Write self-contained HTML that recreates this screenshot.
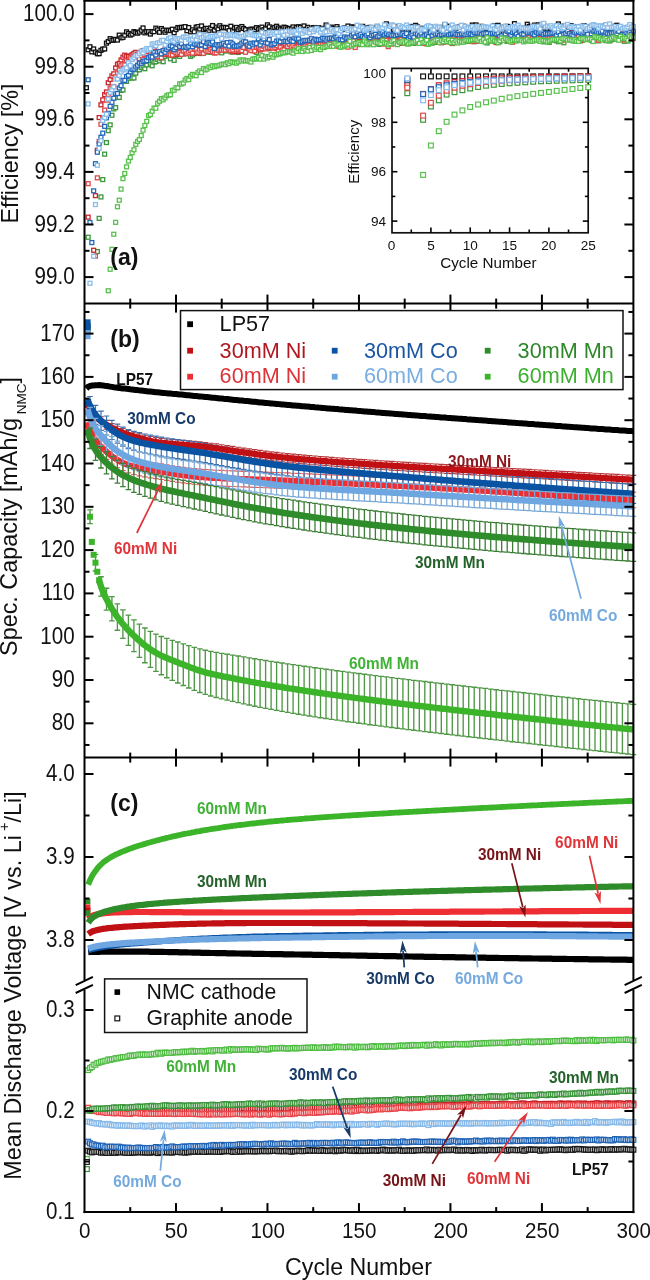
<!DOCTYPE html>
<html><head><meta charset="utf-8"><style>
html,body{margin:0;padding:0;background:#fff;width:650px;height:1280px;overflow:hidden}
svg{display:block;filter:blur(0.35px)}
text{font-family:"Liberation Sans",sans-serif}
g.oa rect{width:3.9px;height:3.9px;fill:#fff;stroke-width:1.3px}
g.oi rect{width:4.8px;height:4.8px;fill:#fff;stroke-width:1.2px}
g.oc rect{width:4.8px;height:4.8px;fill:#fff;stroke-width:1.2px}
</style></head><body>
<svg width="650" height="1280" viewBox="0 0 650 1280" font-family="Liberation Sans, sans-serif">
<rect width="650" height="1280" fill="#fff"/>
<g class="oa" stroke="#101010">
<rect x="84.4" y="85.8"/>
<rect x="86.2" y="47.8"/>
<rect x="88.0" y="44.8"/>
<rect x="89.9" y="49.9"/>
<rect x="91.7" y="47.0"/>
<rect x="93.5" y="50.2"/>
<rect x="95.4" y="51.8"/>
<rect x="97.2" y="51.7"/>
<rect x="99.0" y="48.4"/>
<rect x="100.8" y="47.2"/>
<rect x="102.7" y="47.0"/>
<rect x="104.5" y="41.2"/>
<rect x="106.3" y="39.6"/>
<rect x="108.2" y="36.7"/>
<rect x="110.0" y="38.4"/>
<rect x="111.8" y="38.1"/>
<rect x="113.7" y="37.4"/>
<rect x="115.5" y="38.1"/>
<rect x="117.3" y="33.2"/>
<rect x="119.1" y="35.9"/>
<rect x="121.0" y="35.4"/>
<rect x="122.8" y="33.2"/>
<rect x="124.6" y="29.9"/>
<rect x="126.5" y="31.5"/>
<rect x="128.3" y="33.1"/>
<rect x="130.1" y="32.2"/>
<rect x="132.0" y="29.7"/>
<rect x="133.8" y="30.6"/>
<rect x="135.6" y="31.2"/>
<rect x="137.4" y="30.1"/>
<rect x="139.3" y="28.2"/>
<rect x="141.1" y="26.0"/>
<rect x="142.9" y="30.9"/>
<rect x="144.8" y="29.7"/>
<rect x="146.6" y="29.8"/>
<rect x="148.4" y="32.1"/>
<rect x="150.2" y="29.6"/>
<rect x="152.1" y="29.7"/>
<rect x="153.9" y="26.2"/>
<rect x="155.7" y="28.0"/>
<rect x="157.6" y="30.3"/>
<rect x="159.4" y="26.6"/>
<rect x="161.2" y="28.2"/>
<rect x="163.1" y="30.3"/>
<rect x="164.9" y="28.4"/>
<rect x="166.7" y="28.3"/>
<rect x="168.5" y="28.7"/>
<rect x="170.4" y="27.3"/>
<rect x="172.2" y="30.8"/>
<rect x="174.0" y="27.6"/>
<rect x="175.9" y="25.6"/>
<rect x="177.7" y="25.8"/>
<rect x="179.5" y="25.4"/>
<rect x="181.4" y="25.3"/>
<rect x="183.2" y="24.7"/>
<rect x="185.0" y="28.8"/>
<rect x="186.8" y="25.6"/>
<rect x="188.7" y="29.9"/>
<rect x="190.5" y="27.9"/>
<rect x="192.3" y="29.9"/>
<rect x="194.2" y="25.2"/>
<rect x="196.0" y="24.7"/>
<rect x="197.8" y="27.1"/>
<rect x="199.6" y="24.0"/>
<rect x="201.5" y="27.8"/>
<rect x="203.3" y="26.5"/>
<rect x="205.1" y="26.5"/>
<rect x="207.0" y="28.4"/>
<rect x="208.8" y="26.0"/>
<rect x="210.6" y="23.6"/>
<rect x="212.5" y="28.3"/>
<rect x="214.3" y="25.2"/>
<rect x="216.1" y="26.9"/>
<rect x="217.9" y="23.8"/>
<rect x="219.8" y="25.8"/>
<rect x="221.6" y="25.5"/>
<rect x="223.4" y="25.5"/>
<rect x="225.3" y="26.1"/>
<rect x="227.1" y="28.7"/>
<rect x="228.9" y="24.3"/>
<rect x="230.8" y="28.7"/>
<rect x="232.6" y="26.1"/>
<rect x="234.4" y="25.5"/>
<rect x="236.2" y="27.8"/>
<rect x="238.1" y="26.2"/>
<rect x="239.9" y="24.6"/>
<rect x="241.7" y="26.5"/>
<rect x="243.6" y="27.8"/>
<rect x="245.4" y="31.0"/>
<rect x="247.2" y="27.9"/>
<rect x="249.0" y="27.3"/>
<rect x="250.9" y="27.2"/>
<rect x="252.7" y="27.9"/>
<rect x="254.5" y="25.7"/>
<rect x="256.4" y="27.2"/>
<rect x="258.2" y="26.5"/>
<rect x="260.0" y="25.2"/>
<rect x="261.9" y="27.7"/>
<rect x="263.7" y="26.8"/>
<rect x="265.5" y="22.9"/>
<rect x="267.3" y="24.9"/>
<rect x="269.2" y="28.3"/>
<rect x="271.0" y="26.4"/>
<rect x="272.8" y="25.4"/>
<rect x="274.7" y="24.3"/>
<rect x="276.5" y="26.0"/>
<rect x="278.3" y="27.1"/>
<rect x="280.2" y="27.4"/>
<rect x="282.0" y="25.2"/>
<rect x="283.8" y="25.7"/>
<rect x="285.6" y="27.0"/>
<rect x="287.5" y="26.5"/>
<rect x="289.3" y="26.8"/>
<rect x="291.1" y="25.0"/>
<rect x="293.0" y="27.2"/>
<rect x="294.8" y="25.4"/>
<rect x="296.6" y="24.8"/>
<rect x="298.5" y="25.4"/>
<rect x="300.3" y="27.4"/>
<rect x="302.1" y="24.0"/>
<rect x="303.9" y="27.2"/>
<rect x="305.8" y="25.4"/>
<rect x="307.6" y="27.3"/>
<rect x="309.4" y="28.9"/>
<rect x="311.3" y="25.7"/>
<rect x="313.1" y="25.6"/>
<rect x="314.9" y="26.2"/>
<rect x="316.7" y="25.7"/>
<rect x="318.6" y="27.1"/>
<rect x="320.4" y="27.3"/>
<rect x="322.2" y="26.4"/>
<rect x="324.1" y="23.1"/>
<rect x="325.9" y="24.8"/>
<rect x="327.7" y="26.9"/>
<rect x="329.6" y="25.2"/>
<rect x="331.4" y="26.8"/>
<rect x="333.2" y="26.8"/>
<rect x="335.0" y="24.7"/>
<rect x="336.9" y="26.9"/>
<rect x="338.7" y="28.7"/>
<rect x="340.5" y="27.5"/>
<rect x="342.4" y="25.9"/>
<rect x="344.2" y="25.9"/>
<rect x="346.0" y="24.1"/>
<rect x="347.9" y="27.2"/>
<rect x="349.7" y="24.9"/>
<rect x="351.5" y="25.4"/>
<rect x="353.3" y="26.3"/>
<rect x="355.2" y="24.8"/>
<rect x="357.0" y="25.3"/>
<rect x="358.8" y="27.5"/>
<rect x="360.7" y="24.4"/>
<rect x="362.5" y="28.0"/>
<rect x="364.3" y="26.0"/>
<rect x="366.1" y="26.1"/>
<rect x="368.0" y="25.4"/>
<rect x="369.8" y="27.2"/>
<rect x="371.6" y="26.1"/>
<rect x="373.5" y="26.3"/>
<rect x="375.3" y="24.5"/>
<rect x="377.1" y="27.3"/>
<rect x="379.0" y="26.0"/>
<rect x="380.8" y="26.5"/>
<rect x="382.6" y="28.1"/>
<rect x="384.4" y="21.9"/>
<rect x="386.3" y="26.2"/>
<rect x="388.1" y="28.4"/>
<rect x="389.9" y="23.9"/>
<rect x="391.8" y="27.8"/>
<rect x="393.6" y="25.5"/>
<rect x="395.4" y="24.7"/>
<rect x="397.3" y="27.1"/>
<rect x="399.1" y="26.8"/>
<rect x="400.9" y="27.0"/>
<rect x="402.7" y="26.3"/>
<rect x="404.6" y="28.7"/>
<rect x="406.4" y="28.0"/>
<rect x="408.2" y="26.3"/>
<rect x="410.1" y="24.5"/>
<rect x="411.9" y="25.1"/>
<rect x="413.7" y="23.4"/>
<rect x="415.5" y="25.0"/>
<rect x="417.4" y="26.9"/>
<rect x="419.2" y="26.3"/>
<rect x="421.0" y="29.3"/>
<rect x="422.9" y="27.6"/>
<rect x="424.7" y="27.7"/>
<rect x="426.5" y="25.7"/>
<rect x="428.4" y="25.1"/>
<rect x="430.2" y="27.0"/>
<rect x="432.0" y="27.0"/>
<rect x="433.8" y="28.6"/>
<rect x="435.7" y="26.3"/>
<rect x="437.5" y="25.7"/>
<rect x="439.3" y="25.4"/>
<rect x="441.2" y="27.4"/>
<rect x="443.0" y="23.0"/>
<rect x="444.8" y="24.2"/>
<rect x="446.7" y="26.3"/>
<rect x="448.5" y="27.0"/>
<rect x="450.3" y="26.6"/>
<rect x="452.1" y="25.9"/>
<rect x="454.0" y="26.2"/>
<rect x="455.8" y="25.4"/>
<rect x="457.6" y="24.9"/>
<rect x="459.5" y="24.0"/>
<rect x="461.3" y="24.3"/>
<rect x="463.1" y="26.3"/>
<rect x="465.0" y="25.5"/>
<rect x="466.8" y="26.7"/>
<rect x="468.6" y="27.1"/>
<rect x="470.4" y="23.1"/>
<rect x="472.3" y="26.9"/>
<rect x="474.1" y="23.0"/>
<rect x="475.9" y="26.7"/>
<rect x="477.8" y="25.7"/>
<rect x="479.6" y="24.4"/>
<rect x="481.4" y="26.1"/>
<rect x="483.2" y="25.5"/>
<rect x="485.1" y="26.5"/>
<rect x="486.9" y="26.9"/>
<rect x="488.7" y="26.4"/>
<rect x="490.6" y="27.2"/>
<rect x="492.4" y="23.6"/>
<rect x="494.2" y="26.4"/>
<rect x="496.1" y="23.4"/>
<rect x="497.9" y="30.4"/>
<rect x="499.7" y="26.1"/>
<rect x="501.5" y="25.3"/>
<rect x="503.4" y="26.6"/>
<rect x="505.2" y="24.4"/>
<rect x="507.0" y="25.2"/>
<rect x="508.9" y="26.6"/>
<rect x="510.7" y="25.5"/>
<rect x="512.5" y="21.7"/>
<rect x="514.4" y="25.8"/>
<rect x="516.2" y="25.7"/>
<rect x="518.0" y="26.9"/>
<rect x="519.8" y="26.0"/>
<rect x="521.7" y="28.2"/>
<rect x="523.5" y="26.5"/>
<rect x="525.3" y="22.3"/>
<rect x="527.2" y="24.5"/>
<rect x="529.0" y="25.2"/>
<rect x="530.8" y="24.5"/>
<rect x="532.6" y="23.2"/>
<rect x="534.5" y="25.3"/>
<rect x="536.3" y="22.9"/>
<rect x="538.1" y="24.5"/>
<rect x="540.0" y="25.9"/>
<rect x="541.8" y="23.5"/>
<rect x="543.6" y="29.9"/>
<rect x="545.5" y="27.1"/>
<rect x="547.3" y="25.8"/>
<rect x="549.1" y="27.7"/>
<rect x="550.9" y="26.5"/>
<rect x="552.8" y="27.2"/>
<rect x="554.6" y="27.3"/>
<rect x="556.4" y="22.0"/>
<rect x="558.3" y="25.2"/>
<rect x="560.1" y="26.3"/>
<rect x="561.9" y="24.2"/>
<rect x="563.8" y="26.6"/>
<rect x="565.6" y="24.8"/>
<rect x="567.4" y="25.7"/>
<rect x="569.2" y="23.7"/>
<rect x="571.1" y="28.5"/>
<rect x="572.9" y="25.0"/>
<rect x="574.7" y="26.1"/>
<rect x="576.6" y="28.1"/>
<rect x="578.4" y="24.6"/>
<rect x="580.2" y="27.6"/>
<rect x="582.0" y="23.7"/>
<rect x="583.9" y="25.5"/>
<rect x="585.7" y="25.2"/>
<rect x="587.5" y="26.2"/>
<rect x="589.4" y="24.9"/>
<rect x="591.2" y="29.2"/>
<rect x="593.0" y="26.2"/>
<rect x="594.9" y="27.3"/>
<rect x="596.7" y="25.8"/>
<rect x="598.5" y="26.4"/>
<rect x="600.3" y="25.3"/>
<rect x="602.2" y="27.6"/>
<rect x="604.0" y="23.4"/>
<rect x="605.8" y="22.7"/>
<rect x="607.7" y="26.6"/>
<rect x="609.5" y="26.3"/>
<rect x="611.3" y="25.9"/>
<rect x="613.2" y="24.3"/>
<rect x="615.0" y="23.3"/>
<rect x="616.8" y="28.2"/>
<rect x="618.6" y="27.3"/>
<rect x="620.5" y="28.0"/>
<rect x="622.3" y="28.1"/>
<rect x="624.1" y="28.9"/>
<rect x="626.0" y="25.8"/>
<rect x="627.8" y="28.2"/>
<rect x="629.6" y="24.0"/>
<rect x="631.4" y="24.9"/>
</g>
<g class="oa" stroke="#3c963c">
<rect x="86.2" y="235.3"/>
<rect x="95.4" y="249.6"/>
<rect x="97.2" y="216.4"/>
<rect x="99.0" y="195.0"/>
<rect x="100.8" y="177.6"/>
<rect x="102.7" y="152.2"/>
<rect x="104.5" y="140.6"/>
<rect x="106.3" y="128.7"/>
<rect x="108.2" y="122.9"/>
<rect x="110.0" y="113.3"/>
<rect x="111.8" y="107.0"/>
<rect x="113.7" y="105.7"/>
<rect x="115.5" y="95.6"/>
<rect x="117.3" y="95.4"/>
<rect x="119.1" y="88.5"/>
<rect x="121.0" y="88.0"/>
<rect x="122.8" y="78.9"/>
<rect x="124.6" y="79.4"/>
<rect x="126.5" y="76.2"/>
<rect x="128.3" y="74.1"/>
<rect x="130.1" y="76.1"/>
<rect x="132.0" y="76.0"/>
<rect x="133.8" y="71.2"/>
<rect x="135.6" y="67.8"/>
<rect x="137.4" y="67.8"/>
<rect x="139.3" y="65.4"/>
<rect x="141.1" y="64.0"/>
<rect x="142.9" y="66.8"/>
<rect x="144.8" y="62.9"/>
<rect x="146.6" y="59.2"/>
<rect x="148.4" y="62.3"/>
<rect x="150.2" y="63.8"/>
<rect x="152.1" y="60.1"/>
<rect x="153.9" y="59.7"/>
<rect x="155.7" y="57.5"/>
<rect x="157.6" y="58.9"/>
<rect x="159.4" y="56.7"/>
<rect x="161.2" y="59.8"/>
<rect x="163.1" y="54.4"/>
<rect x="164.9" y="52.8"/>
<rect x="166.7" y="52.8"/>
<rect x="168.5" y="56.8"/>
<rect x="170.4" y="53.5"/>
<rect x="172.2" y="58.4"/>
<rect x="174.0" y="52.9"/>
<rect x="175.9" y="53.2"/>
<rect x="177.7" y="54.4"/>
<rect x="179.5" y="52.0"/>
<rect x="181.4" y="52.1"/>
<rect x="183.2" y="50.5"/>
<rect x="185.0" y="51.6"/>
<rect x="186.8" y="51.2"/>
<rect x="188.7" y="54.4"/>
<rect x="190.5" y="53.0"/>
<rect x="192.3" y="51.7"/>
<rect x="194.2" y="50.3"/>
<rect x="196.0" y="50.6"/>
<rect x="197.8" y="48.1"/>
<rect x="199.6" y="51.6"/>
<rect x="201.5" y="50.5"/>
<rect x="203.3" y="49.6"/>
<rect x="205.1" y="50.2"/>
<rect x="207.0" y="48.9"/>
<rect x="208.8" y="50.4"/>
<rect x="210.6" y="47.1"/>
<rect x="212.5" y="49.7"/>
<rect x="214.3" y="47.3"/>
<rect x="216.1" y="49.0"/>
<rect x="217.9" y="46.5"/>
<rect x="219.8" y="50.9"/>
<rect x="221.6" y="47.7"/>
<rect x="223.4" y="49.1"/>
<rect x="225.3" y="47.9"/>
<rect x="227.1" y="46.3"/>
<rect x="228.9" y="49.8"/>
<rect x="230.8" y="50.0"/>
<rect x="232.6" y="49.4"/>
<rect x="234.4" y="47.2"/>
<rect x="236.2" y="50.5"/>
<rect x="238.1" y="47.2"/>
<rect x="239.9" y="49.3"/>
<rect x="241.7" y="48.9"/>
<rect x="243.6" y="47.6"/>
<rect x="245.4" y="46.3"/>
<rect x="247.2" y="47.7"/>
<rect x="249.0" y="47.4"/>
<rect x="250.9" y="46.5"/>
<rect x="252.7" y="46.8"/>
<rect x="254.5" y="50.4"/>
<rect x="256.4" y="46.7"/>
<rect x="258.2" y="45.8"/>
<rect x="260.0" y="44.1"/>
<rect x="261.9" y="42.4"/>
<rect x="263.7" y="44.4"/>
<rect x="265.5" y="45.2"/>
<rect x="267.3" y="46.7"/>
<rect x="269.2" y="44.9"/>
<rect x="271.0" y="43.7"/>
<rect x="272.8" y="42.8"/>
<rect x="274.7" y="46.0"/>
<rect x="276.5" y="44.1"/>
<rect x="278.3" y="43.1"/>
<rect x="280.2" y="41.3"/>
<rect x="282.0" y="43.7"/>
<rect x="283.8" y="44.8"/>
<rect x="285.6" y="44.9"/>
<rect x="287.5" y="44.2"/>
<rect x="289.3" y="44.6"/>
<rect x="291.1" y="42.1"/>
<rect x="293.0" y="41.6"/>
<rect x="294.8" y="42.0"/>
<rect x="296.6" y="41.2"/>
<rect x="298.5" y="43.7"/>
<rect x="300.3" y="42.2"/>
<rect x="302.1" y="43.3"/>
<rect x="303.9" y="42.5"/>
<rect x="305.8" y="40.6"/>
<rect x="307.6" y="42.5"/>
<rect x="309.4" y="45.3"/>
<rect x="311.3" y="42.6"/>
<rect x="313.1" y="43.3"/>
<rect x="314.9" y="44.4"/>
<rect x="316.7" y="43.2"/>
<rect x="318.6" y="40.4"/>
<rect x="320.4" y="39.2"/>
<rect x="322.2" y="42.5"/>
<rect x="324.1" y="40.1"/>
<rect x="325.9" y="39.7"/>
<rect x="327.7" y="43.4"/>
<rect x="329.6" y="41.5"/>
<rect x="331.4" y="41.5"/>
<rect x="333.2" y="41.1"/>
<rect x="335.0" y="43.8"/>
<rect x="336.9" y="41.8"/>
<rect x="338.7" y="39.5"/>
<rect x="340.5" y="39.1"/>
<rect x="342.4" y="38.2"/>
<rect x="344.2" y="41.5"/>
<rect x="346.0" y="38.0"/>
<rect x="347.9" y="39.8"/>
<rect x="349.7" y="43.0"/>
<rect x="351.5" y="39.6"/>
<rect x="353.3" y="41.3"/>
<rect x="355.2" y="39.9"/>
<rect x="357.0" y="40.8"/>
<rect x="358.8" y="38.7"/>
<rect x="360.7" y="40.1"/>
<rect x="362.5" y="40.9"/>
<rect x="364.3" y="38.9"/>
<rect x="366.1" y="40.0"/>
<rect x="368.0" y="41.0"/>
<rect x="369.8" y="38.2"/>
<rect x="371.6" y="40.9"/>
<rect x="373.5" y="41.2"/>
<rect x="375.3" y="41.0"/>
<rect x="377.1" y="42.4"/>
<rect x="379.0" y="40.9"/>
<rect x="380.8" y="37.0"/>
<rect x="382.6" y="41.4"/>
<rect x="384.4" y="39.9"/>
<rect x="386.3" y="41.6"/>
<rect x="388.1" y="40.8"/>
<rect x="389.9" y="37.3"/>
<rect x="391.8" y="38.3"/>
<rect x="393.6" y="40.6"/>
<rect x="395.4" y="39.6"/>
<rect x="397.3" y="40.9"/>
<rect x="399.1" y="40.8"/>
<rect x="400.9" y="40.9"/>
<rect x="402.7" y="40.9"/>
<rect x="404.6" y="38.9"/>
<rect x="406.4" y="38.4"/>
<rect x="408.2" y="38.5"/>
<rect x="410.1" y="39.5"/>
<rect x="411.9" y="41.4"/>
<rect x="413.7" y="39.3"/>
<rect x="415.5" y="40.6"/>
<rect x="417.4" y="37.7"/>
<rect x="419.2" y="38.2"/>
<rect x="421.0" y="37.9"/>
<rect x="422.9" y="39.6"/>
<rect x="424.7" y="41.8"/>
<rect x="426.5" y="37.4"/>
<rect x="428.4" y="37.0"/>
<rect x="430.2" y="41.2"/>
<rect x="432.0" y="38.6"/>
<rect x="433.8" y="36.9"/>
<rect x="435.7" y="40.5"/>
<rect x="437.5" y="35.9"/>
<rect x="439.3" y="39.3"/>
<rect x="441.2" y="40.4"/>
<rect x="443.0" y="36.5"/>
<rect x="444.8" y="38.1"/>
<rect x="446.7" y="39.6"/>
<rect x="448.5" y="37.2"/>
<rect x="450.3" y="41.6"/>
<rect x="452.1" y="35.6"/>
<rect x="454.0" y="39.7"/>
<rect x="455.8" y="38.0"/>
<rect x="457.6" y="39.0"/>
<rect x="459.5" y="37.7"/>
<rect x="461.3" y="36.9"/>
<rect x="463.1" y="39.6"/>
<rect x="465.0" y="37.0"/>
<rect x="466.8" y="38.7"/>
<rect x="468.6" y="39.3"/>
<rect x="470.4" y="38.6"/>
<rect x="472.3" y="39.8"/>
<rect x="474.1" y="39.4"/>
<rect x="475.9" y="36.6"/>
<rect x="477.8" y="38.3"/>
<rect x="479.6" y="36.3"/>
<rect x="481.4" y="37.4"/>
<rect x="483.2" y="39.6"/>
<rect x="485.1" y="41.0"/>
<rect x="486.9" y="39.1"/>
<rect x="488.7" y="37.5"/>
<rect x="490.6" y="37.9"/>
<rect x="492.4" y="39.2"/>
<rect x="494.2" y="36.3"/>
<rect x="496.1" y="40.6"/>
<rect x="497.9" y="39.8"/>
<rect x="499.7" y="37.6"/>
<rect x="501.5" y="34.3"/>
<rect x="503.4" y="37.1"/>
<rect x="505.2" y="39.4"/>
<rect x="507.0" y="36.8"/>
<rect x="508.9" y="36.7"/>
<rect x="510.7" y="36.2"/>
<rect x="512.5" y="38.3"/>
<rect x="514.4" y="38.9"/>
<rect x="516.2" y="37.5"/>
<rect x="518.0" y="37.0"/>
<rect x="519.8" y="35.1"/>
<rect x="521.7" y="34.3"/>
<rect x="523.5" y="38.8"/>
<rect x="525.3" y="38.4"/>
<rect x="527.2" y="37.7"/>
<rect x="529.0" y="37.9"/>
<rect x="530.8" y="36.8"/>
<rect x="532.6" y="36.8"/>
<rect x="534.5" y="37.1"/>
<rect x="536.3" y="35.4"/>
<rect x="538.1" y="37.7"/>
<rect x="540.0" y="39.1"/>
<rect x="541.8" y="39.9"/>
<rect x="543.6" y="39.1"/>
<rect x="545.5" y="39.1"/>
<rect x="547.3" y="40.4"/>
<rect x="549.1" y="36.4"/>
<rect x="550.9" y="37.1"/>
<rect x="552.8" y="38.0"/>
<rect x="554.6" y="38.8"/>
<rect x="556.4" y="39.8"/>
<rect x="558.3" y="38.8"/>
<rect x="560.1" y="34.4"/>
<rect x="561.9" y="40.8"/>
<rect x="563.8" y="37.1"/>
<rect x="565.6" y="36.1"/>
<rect x="567.4" y="37.1"/>
<rect x="569.2" y="37.8"/>
<rect x="571.1" y="36.1"/>
<rect x="572.9" y="39.0"/>
<rect x="574.7" y="36.4"/>
<rect x="576.6" y="35.0"/>
<rect x="578.4" y="38.9"/>
<rect x="580.2" y="38.5"/>
<rect x="582.0" y="37.0"/>
<rect x="583.9" y="35.7"/>
<rect x="585.7" y="35.1"/>
<rect x="587.5" y="36.1"/>
<rect x="589.4" y="38.3"/>
<rect x="591.2" y="39.0"/>
<rect x="593.0" y="36.8"/>
<rect x="594.9" y="36.6"/>
<rect x="596.7" y="38.9"/>
<rect x="598.5" y="37.1"/>
<rect x="600.3" y="36.7"/>
<rect x="602.2" y="35.5"/>
<rect x="604.0" y="38.7"/>
<rect x="605.8" y="36.3"/>
<rect x="607.7" y="39.0"/>
<rect x="609.5" y="37.8"/>
<rect x="611.3" y="37.3"/>
<rect x="613.2" y="34.8"/>
<rect x="615.0" y="31.9"/>
<rect x="616.8" y="36.7"/>
<rect x="618.6" y="36.4"/>
<rect x="620.5" y="35.6"/>
<rect x="622.3" y="39.3"/>
<rect x="624.1" y="35.9"/>
<rect x="626.0" y="39.1"/>
<rect x="627.8" y="34.6"/>
<rect x="629.6" y="34.9"/>
<rect x="631.4" y="36.3"/>
</g>
<g class="oa" stroke="#c8262c">
<rect x="86.2" y="215.2"/>
<rect x="91.7" y="248.3"/>
<rect x="93.5" y="193.7"/>
<rect x="95.4" y="148.4"/>
<rect x="97.2" y="115.6"/>
<rect x="99.0" y="102.9"/>
<rect x="100.8" y="97.9"/>
<rect x="102.7" y="92.7"/>
<rect x="104.5" y="90.0"/>
<rect x="106.3" y="80.8"/>
<rect x="108.2" y="77.5"/>
<rect x="110.0" y="74.0"/>
<rect x="111.8" y="71.9"/>
<rect x="113.7" y="66.0"/>
<rect x="115.5" y="62.3"/>
<rect x="117.3" y="61.4"/>
<rect x="119.1" y="58.0"/>
<rect x="121.0" y="55.2"/>
<rect x="122.8" y="53.2"/>
<rect x="124.6" y="54.4"/>
<rect x="126.5" y="54.4"/>
<rect x="128.3" y="54.1"/>
<rect x="130.1" y="52.8"/>
<rect x="132.0" y="51.4"/>
<rect x="133.8" y="50.4"/>
<rect x="135.6" y="52.2"/>
<rect x="137.4" y="51.0"/>
<rect x="139.3" y="52.5"/>
<rect x="141.1" y="48.7"/>
<rect x="142.9" y="51.2"/>
<rect x="144.8" y="49.8"/>
<rect x="146.6" y="51.5"/>
<rect x="148.4" y="50.7"/>
<rect x="150.2" y="51.3"/>
<rect x="152.1" y="47.5"/>
<rect x="153.9" y="49.6"/>
<rect x="155.7" y="50.4"/>
<rect x="157.6" y="51.7"/>
<rect x="159.4" y="51.1"/>
<rect x="161.2" y="49.2"/>
<rect x="163.1" y="47.5"/>
<rect x="164.9" y="52.4"/>
<rect x="166.7" y="51.6"/>
<rect x="168.5" y="50.4"/>
<rect x="170.4" y="51.1"/>
<rect x="172.2" y="52.7"/>
<rect x="174.0" y="50.0"/>
<rect x="175.9" y="48.9"/>
<rect x="177.7" y="52.5"/>
<rect x="179.5" y="49.7"/>
<rect x="181.4" y="48.4"/>
<rect x="183.2" y="48.3"/>
<rect x="185.0" y="50.5"/>
<rect x="186.8" y="46.1"/>
<rect x="188.7" y="48.8"/>
<rect x="190.5" y="50.8"/>
<rect x="192.3" y="47.9"/>
<rect x="194.2" y="51.1"/>
<rect x="196.0" y="47.8"/>
<rect x="197.8" y="51.1"/>
<rect x="199.6" y="47.7"/>
<rect x="201.5" y="49.7"/>
<rect x="203.3" y="46.9"/>
<rect x="205.1" y="47.4"/>
<rect x="207.0" y="47.7"/>
<rect x="208.8" y="48.2"/>
<rect x="210.6" y="46.4"/>
<rect x="212.5" y="50.8"/>
<rect x="214.3" y="47.2"/>
<rect x="216.1" y="47.1"/>
<rect x="217.9" y="46.7"/>
<rect x="219.8" y="46.1"/>
<rect x="221.6" y="41.5"/>
<rect x="223.4" y="47.0"/>
<rect x="225.3" y="45.8"/>
<rect x="227.1" y="46.7"/>
<rect x="228.9" y="44.3"/>
<rect x="230.8" y="49.8"/>
<rect x="232.6" y="43.8"/>
<rect x="234.4" y="47.5"/>
<rect x="236.2" y="49.8"/>
<rect x="238.1" y="47.8"/>
<rect x="239.9" y="46.3"/>
<rect x="241.7" y="45.6"/>
<rect x="243.6" y="45.9"/>
<rect x="245.4" y="44.4"/>
<rect x="247.2" y="45.6"/>
<rect x="249.0" y="45.6"/>
<rect x="250.9" y="48.8"/>
<rect x="252.7" y="44.5"/>
<rect x="254.5" y="43.6"/>
<rect x="256.4" y="45.8"/>
<rect x="258.2" y="48.0"/>
<rect x="260.0" y="47.0"/>
<rect x="261.9" y="42.2"/>
<rect x="263.7" y="45.7"/>
<rect x="265.5" y="45.7"/>
<rect x="267.3" y="45.9"/>
<rect x="269.2" y="43.4"/>
<rect x="271.0" y="45.3"/>
<rect x="272.8" y="45.7"/>
<rect x="274.7" y="46.6"/>
<rect x="276.5" y="44.3"/>
<rect x="278.3" y="42.5"/>
<rect x="280.2" y="44.2"/>
<rect x="282.0" y="42.5"/>
<rect x="283.8" y="43.5"/>
<rect x="285.6" y="43.5"/>
<rect x="287.5" y="43.4"/>
<rect x="289.3" y="43.5"/>
<rect x="291.1" y="41.9"/>
<rect x="293.0" y="42.6"/>
<rect x="294.8" y="44.2"/>
<rect x="296.6" y="43.0"/>
<rect x="298.5" y="43.3"/>
<rect x="300.3" y="42.3"/>
<rect x="302.1" y="42.7"/>
<rect x="303.9" y="42.3"/>
<rect x="305.8" y="45.2"/>
<rect x="307.6" y="42.2"/>
<rect x="309.4" y="40.6"/>
<rect x="311.3" y="44.7"/>
<rect x="313.1" y="40.0"/>
<rect x="314.9" y="42.0"/>
<rect x="316.7" y="42.7"/>
<rect x="318.6" y="45.1"/>
<rect x="320.4" y="40.5"/>
<rect x="322.2" y="43.6"/>
<rect x="324.1" y="42.8"/>
<rect x="325.9" y="41.1"/>
<rect x="327.7" y="43.5"/>
<rect x="329.6" y="43.3"/>
<rect x="331.4" y="43.5"/>
<rect x="333.2" y="41.8"/>
<rect x="335.0" y="40.6"/>
<rect x="336.9" y="40.8"/>
<rect x="338.7" y="40.7"/>
<rect x="340.5" y="41.8"/>
<rect x="342.4" y="41.0"/>
<rect x="344.2" y="42.2"/>
<rect x="346.0" y="37.8"/>
<rect x="347.9" y="40.6"/>
<rect x="349.7" y="43.9"/>
<rect x="351.5" y="42.4"/>
<rect x="353.3" y="38.1"/>
<rect x="355.2" y="42.7"/>
<rect x="357.0" y="41.1"/>
<rect x="358.8" y="39.7"/>
<rect x="360.7" y="42.0"/>
<rect x="362.5" y="38.5"/>
<rect x="364.3" y="37.4"/>
<rect x="366.1" y="41.3"/>
<rect x="368.0" y="38.1"/>
<rect x="369.8" y="41.2"/>
<rect x="371.6" y="41.3"/>
<rect x="373.5" y="39.2"/>
<rect x="375.3" y="39.2"/>
<rect x="377.1" y="40.4"/>
<rect x="379.0" y="38.1"/>
<rect x="380.8" y="41.6"/>
<rect x="382.6" y="40.6"/>
<rect x="384.4" y="40.8"/>
<rect x="386.3" y="37.9"/>
<rect x="388.1" y="37.7"/>
<rect x="389.9" y="37.9"/>
<rect x="391.8" y="40.9"/>
<rect x="393.6" y="38.6"/>
<rect x="395.4" y="38.0"/>
<rect x="397.3" y="41.2"/>
<rect x="399.1" y="39.9"/>
<rect x="400.9" y="37.5"/>
<rect x="402.7" y="37.3"/>
<rect x="404.6" y="38.0"/>
<rect x="406.4" y="37.5"/>
<rect x="408.2" y="37.8"/>
<rect x="410.1" y="38.0"/>
<rect x="411.9" y="38.3"/>
<rect x="413.7" y="39.5"/>
<rect x="415.5" y="38.4"/>
<rect x="417.4" y="38.6"/>
<rect x="419.2" y="34.3"/>
<rect x="421.0" y="37.5"/>
<rect x="422.9" y="37.8"/>
<rect x="424.7" y="38.1"/>
<rect x="426.5" y="37.9"/>
<rect x="428.4" y="38.1"/>
<rect x="430.2" y="36.7"/>
<rect x="432.0" y="37.6"/>
<rect x="433.8" y="36.2"/>
<rect x="435.7" y="38.5"/>
<rect x="437.5" y="36.8"/>
<rect x="439.3" y="35.9"/>
<rect x="441.2" y="39.1"/>
<rect x="443.0" y="37.0"/>
<rect x="444.8" y="36.8"/>
<rect x="446.7" y="37.6"/>
<rect x="448.5" y="37.8"/>
<rect x="450.3" y="39.9"/>
<rect x="452.1" y="35.2"/>
<rect x="454.0" y="38.4"/>
<rect x="455.8" y="38.8"/>
<rect x="457.6" y="35.8"/>
<rect x="459.5" y="39.7"/>
<rect x="461.3" y="35.2"/>
<rect x="463.1" y="36.0"/>
<rect x="465.0" y="35.7"/>
<rect x="466.8" y="36.8"/>
<rect x="468.6" y="38.5"/>
<rect x="470.4" y="39.5"/>
<rect x="472.3" y="34.2"/>
<rect x="474.1" y="37.2"/>
<rect x="475.9" y="37.2"/>
<rect x="477.8" y="33.8"/>
<rect x="479.6" y="37.3"/>
<rect x="481.4" y="36.6"/>
<rect x="483.2" y="36.6"/>
<rect x="485.1" y="36.4"/>
<rect x="486.9" y="37.7"/>
<rect x="488.7" y="36.9"/>
<rect x="490.6" y="34.0"/>
<rect x="492.4" y="34.8"/>
<rect x="494.2" y="40.6"/>
<rect x="496.1" y="39.0"/>
<rect x="497.9" y="35.3"/>
<rect x="499.7" y="36.0"/>
<rect x="501.5" y="36.4"/>
<rect x="503.4" y="34.1"/>
<rect x="505.2" y="38.5"/>
<rect x="507.0" y="33.8"/>
<rect x="508.9" y="35.4"/>
<rect x="510.7" y="34.7"/>
<rect x="512.5" y="35.2"/>
<rect x="514.4" y="34.2"/>
<rect x="516.2" y="35.9"/>
<rect x="518.0" y="36.3"/>
<rect x="519.8" y="34.2"/>
<rect x="521.7" y="35.1"/>
<rect x="523.5" y="37.3"/>
<rect x="525.3" y="33.2"/>
<rect x="527.2" y="33.4"/>
<rect x="529.0" y="33.0"/>
<rect x="530.8" y="35.1"/>
<rect x="532.6" y="34.6"/>
<rect x="534.5" y="35.7"/>
<rect x="536.3" y="36.6"/>
<rect x="538.1" y="35.0"/>
<rect x="540.0" y="34.7"/>
<rect x="541.8" y="36.0"/>
<rect x="543.6" y="32.1"/>
<rect x="545.5" y="37.5"/>
<rect x="547.3" y="36.2"/>
<rect x="549.1" y="35.9"/>
<rect x="550.9" y="32.8"/>
<rect x="552.8" y="35.2"/>
<rect x="554.6" y="35.3"/>
<rect x="556.4" y="36.1"/>
<rect x="558.3" y="35.9"/>
<rect x="560.1" y="36.7"/>
<rect x="561.9" y="33.1"/>
<rect x="563.8" y="33.7"/>
<rect x="565.6" y="33.0"/>
<rect x="567.4" y="35.6"/>
<rect x="569.2" y="30.6"/>
<rect x="571.1" y="36.1"/>
<rect x="572.9" y="37.7"/>
<rect x="574.7" y="34.9"/>
<rect x="576.6" y="34.2"/>
<rect x="578.4" y="33.2"/>
<rect x="580.2" y="36.0"/>
<rect x="582.0" y="33.4"/>
<rect x="583.9" y="31.6"/>
<rect x="585.7" y="35.6"/>
<rect x="587.5" y="35.4"/>
<rect x="589.4" y="36.9"/>
<rect x="591.2" y="33.8"/>
<rect x="593.0" y="32.8"/>
<rect x="594.9" y="33.0"/>
<rect x="596.7" y="32.8"/>
<rect x="598.5" y="31.9"/>
<rect x="600.3" y="33.9"/>
<rect x="602.2" y="32.6"/>
<rect x="604.0" y="35.5"/>
<rect x="605.8" y="35.3"/>
<rect x="607.7" y="33.6"/>
<rect x="609.5" y="35.3"/>
<rect x="611.3" y="33.1"/>
<rect x="613.2" y="31.8"/>
<rect x="615.0" y="33.3"/>
<rect x="616.8" y="35.0"/>
<rect x="618.6" y="35.0"/>
<rect x="620.5" y="31.7"/>
<rect x="622.3" y="35.1"/>
<rect x="624.1" y="33.7"/>
<rect x="626.0" y="34.2"/>
<rect x="627.8" y="33.7"/>
<rect x="629.6" y="32.0"/>
<rect x="631.4" y="34.6"/>
</g>
<g class="oa" stroke="#e04a4a">
<rect x="86.2" y="181.7"/>
<rect x="93.5" y="254.2"/>
<rect x="95.4" y="175.9"/>
<rect x="97.2" y="139.5"/>
<rect x="99.0" y="122.3"/>
<rect x="100.8" y="116.7"/>
<rect x="102.7" y="108.1"/>
<rect x="104.5" y="98.2"/>
<rect x="106.3" y="92.5"/>
<rect x="108.2" y="86.3"/>
<rect x="110.0" y="85.0"/>
<rect x="111.8" y="84.6"/>
<rect x="113.7" y="74.8"/>
<rect x="115.5" y="70.9"/>
<rect x="117.3" y="68.1"/>
<rect x="119.1" y="63.5"/>
<rect x="121.0" y="62.6"/>
<rect x="122.8" y="62.9"/>
<rect x="124.6" y="58.7"/>
<rect x="126.5" y="59.3"/>
<rect x="128.3" y="55.8"/>
<rect x="130.1" y="56.5"/>
<rect x="132.0" y="55.2"/>
<rect x="133.8" y="54.9"/>
<rect x="135.6" y="54.6"/>
<rect x="137.4" y="56.7"/>
<rect x="139.3" y="53.8"/>
<rect x="141.1" y="57.3"/>
<rect x="142.9" y="52.6"/>
<rect x="144.8" y="51.6"/>
<rect x="146.6" y="49.7"/>
<rect x="148.4" y="52.3"/>
<rect x="150.2" y="53.9"/>
<rect x="152.1" y="55.1"/>
<rect x="153.9" y="49.4"/>
<rect x="155.7" y="54.6"/>
<rect x="157.6" y="50.8"/>
<rect x="159.4" y="55.8"/>
<rect x="161.2" y="52.1"/>
<rect x="163.1" y="50.9"/>
<rect x="164.9" y="51.3"/>
<rect x="166.7" y="51.8"/>
<rect x="168.5" y="53.0"/>
<rect x="170.4" y="53.0"/>
<rect x="172.2" y="49.8"/>
<rect x="174.0" y="50.6"/>
<rect x="175.9" y="51.5"/>
<rect x="177.7" y="50.7"/>
<rect x="179.5" y="52.4"/>
<rect x="181.4" y="49.2"/>
<rect x="183.2" y="48.7"/>
<rect x="185.0" y="51.8"/>
<rect x="186.8" y="50.3"/>
<rect x="188.7" y="48.6"/>
<rect x="190.5" y="51.2"/>
<rect x="192.3" y="46.8"/>
<rect x="194.2" y="47.5"/>
<rect x="196.0" y="50.2"/>
<rect x="197.8" y="48.1"/>
<rect x="199.6" y="46.9"/>
<rect x="201.5" y="51.4"/>
<rect x="203.3" y="48.3"/>
<rect x="205.1" y="49.4"/>
<rect x="207.0" y="49.4"/>
<rect x="208.8" y="47.8"/>
<rect x="210.6" y="49.6"/>
<rect x="212.5" y="50.9"/>
<rect x="214.3" y="50.8"/>
<rect x="216.1" y="48.5"/>
<rect x="217.9" y="47.3"/>
<rect x="219.8" y="48.3"/>
<rect x="221.6" y="48.3"/>
<rect x="223.4" y="48.0"/>
<rect x="225.3" y="45.8"/>
<rect x="227.1" y="46.9"/>
<rect x="228.9" y="48.8"/>
<rect x="230.8" y="48.0"/>
<rect x="232.6" y="45.5"/>
<rect x="234.4" y="48.3"/>
<rect x="236.2" y="47.9"/>
<rect x="238.1" y="47.2"/>
<rect x="239.9" y="48.7"/>
<rect x="241.7" y="45.5"/>
<rect x="243.6" y="50.3"/>
<rect x="245.4" y="44.4"/>
<rect x="247.2" y="47.3"/>
<rect x="249.0" y="48.5"/>
<rect x="250.9" y="46.0"/>
<rect x="252.7" y="49.0"/>
<rect x="254.5" y="45.4"/>
<rect x="256.4" y="44.9"/>
<rect x="258.2" y="47.0"/>
<rect x="260.0" y="46.6"/>
<rect x="261.9" y="44.4"/>
<rect x="263.7" y="46.9"/>
<rect x="265.5" y="45.7"/>
<rect x="267.3" y="45.1"/>
<rect x="269.2" y="43.1"/>
<rect x="271.0" y="46.2"/>
<rect x="272.8" y="45.3"/>
<rect x="274.7" y="43.5"/>
<rect x="276.5" y="49.2"/>
<rect x="278.3" y="45.5"/>
<rect x="280.2" y="48.1"/>
<rect x="282.0" y="47.9"/>
<rect x="283.8" y="41.8"/>
<rect x="285.6" y="44.5"/>
<rect x="287.5" y="42.4"/>
<rect x="289.3" y="45.0"/>
<rect x="291.1" y="43.7"/>
<rect x="293.0" y="45.2"/>
<rect x="294.8" y="45.3"/>
<rect x="296.6" y="44.4"/>
<rect x="298.5" y="44.0"/>
<rect x="300.3" y="41.7"/>
<rect x="302.1" y="44.4"/>
<rect x="303.9" y="43.4"/>
<rect x="305.8" y="44.3"/>
<rect x="307.6" y="43.6"/>
<rect x="309.4" y="45.8"/>
<rect x="311.3" y="41.9"/>
<rect x="313.1" y="44.4"/>
<rect x="314.9" y="43.4"/>
<rect x="316.7" y="43.8"/>
<rect x="318.6" y="41.8"/>
<rect x="320.4" y="42.4"/>
<rect x="322.2" y="43.2"/>
<rect x="324.1" y="42.8"/>
<rect x="325.9" y="42.5"/>
<rect x="327.7" y="41.7"/>
<rect x="329.6" y="42.0"/>
<rect x="331.4" y="40.7"/>
<rect x="333.2" y="40.1"/>
<rect x="335.0" y="41.6"/>
<rect x="336.9" y="44.6"/>
<rect x="338.7" y="39.6"/>
<rect x="340.5" y="38.9"/>
<rect x="342.4" y="42.8"/>
<rect x="344.2" y="42.7"/>
<rect x="346.0" y="45.2"/>
<rect x="347.9" y="40.7"/>
<rect x="349.7" y="43.4"/>
<rect x="351.5" y="38.8"/>
<rect x="353.3" y="45.5"/>
<rect x="355.2" y="41.4"/>
<rect x="357.0" y="40.3"/>
<rect x="358.8" y="41.9"/>
<rect x="360.7" y="42.4"/>
<rect x="362.5" y="40.7"/>
<rect x="364.3" y="41.8"/>
<rect x="366.1" y="41.4"/>
<rect x="368.0" y="40.8"/>
<rect x="369.8" y="41.6"/>
<rect x="371.6" y="40.9"/>
<rect x="373.5" y="39.3"/>
<rect x="375.3" y="41.0"/>
<rect x="377.1" y="40.0"/>
<rect x="379.0" y="41.4"/>
<rect x="380.8" y="38.7"/>
<rect x="382.6" y="42.1"/>
<rect x="384.4" y="38.5"/>
<rect x="386.3" y="44.7"/>
<rect x="388.1" y="41.2"/>
<rect x="389.9" y="42.2"/>
<rect x="391.8" y="38.0"/>
<rect x="393.6" y="39.1"/>
<rect x="395.4" y="41.6"/>
<rect x="397.3" y="40.3"/>
<rect x="399.1" y="37.3"/>
<rect x="400.9" y="39.4"/>
<rect x="402.7" y="38.4"/>
<rect x="404.6" y="41.6"/>
<rect x="406.4" y="41.5"/>
<rect x="408.2" y="38.2"/>
<rect x="410.1" y="35.4"/>
<rect x="411.9" y="39.8"/>
<rect x="413.7" y="38.0"/>
<rect x="415.5" y="40.3"/>
<rect x="417.4" y="36.8"/>
<rect x="419.2" y="39.5"/>
<rect x="421.0" y="39.4"/>
<rect x="422.9" y="41.6"/>
<rect x="424.7" y="39.2"/>
<rect x="426.5" y="38.2"/>
<rect x="428.4" y="36.3"/>
<rect x="430.2" y="40.3"/>
<rect x="432.0" y="36.8"/>
<rect x="433.8" y="38.9"/>
<rect x="435.7" y="38.7"/>
<rect x="437.5" y="39.7"/>
<rect x="439.3" y="40.9"/>
<rect x="441.2" y="40.0"/>
<rect x="443.0" y="35.5"/>
<rect x="444.8" y="39.9"/>
<rect x="446.7" y="38.7"/>
<rect x="448.5" y="36.2"/>
<rect x="450.3" y="41.2"/>
<rect x="452.1" y="37.1"/>
<rect x="454.0" y="38.6"/>
<rect x="455.8" y="37.5"/>
<rect x="457.6" y="36.3"/>
<rect x="459.5" y="37.9"/>
<rect x="461.3" y="37.9"/>
<rect x="463.1" y="36.4"/>
<rect x="465.0" y="36.5"/>
<rect x="466.8" y="38.6"/>
<rect x="468.6" y="37.7"/>
<rect x="470.4" y="39.5"/>
<rect x="472.3" y="35.3"/>
<rect x="474.1" y="39.2"/>
<rect x="475.9" y="37.0"/>
<rect x="477.8" y="34.5"/>
<rect x="479.6" y="35.9"/>
<rect x="481.4" y="37.6"/>
<rect x="483.2" y="38.2"/>
<rect x="485.1" y="38.0"/>
<rect x="486.9" y="35.5"/>
<rect x="488.7" y="36.4"/>
<rect x="490.6" y="36.9"/>
<rect x="492.4" y="32.7"/>
<rect x="494.2" y="38.1"/>
<rect x="496.1" y="37.5"/>
<rect x="497.9" y="37.3"/>
<rect x="499.7" y="36.4"/>
<rect x="501.5" y="36.2"/>
<rect x="503.4" y="37.0"/>
<rect x="505.2" y="35.4"/>
<rect x="507.0" y="35.7"/>
<rect x="508.9" y="37.0"/>
<rect x="510.7" y="40.3"/>
<rect x="512.5" y="35.2"/>
<rect x="514.4" y="37.9"/>
<rect x="516.2" y="37.4"/>
<rect x="518.0" y="36.6"/>
<rect x="519.8" y="38.3"/>
<rect x="521.7" y="37.6"/>
<rect x="523.5" y="36.2"/>
<rect x="525.3" y="36.8"/>
<rect x="527.2" y="35.7"/>
<rect x="529.0" y="37.6"/>
<rect x="530.8" y="36.5"/>
<rect x="532.6" y="37.8"/>
<rect x="534.5" y="36.6"/>
<rect x="536.3" y="35.6"/>
<rect x="538.1" y="36.5"/>
<rect x="540.0" y="38.3"/>
<rect x="541.8" y="36.3"/>
<rect x="543.6" y="35.7"/>
<rect x="545.5" y="34.2"/>
<rect x="547.3" y="36.0"/>
<rect x="549.1" y="36.5"/>
<rect x="550.9" y="37.7"/>
<rect x="552.8" y="32.7"/>
<rect x="554.6" y="37.3"/>
<rect x="556.4" y="37.5"/>
<rect x="558.3" y="36.0"/>
<rect x="560.1" y="38.6"/>
<rect x="561.9" y="34.0"/>
<rect x="563.8" y="35.4"/>
<rect x="565.6" y="34.9"/>
<rect x="567.4" y="37.1"/>
<rect x="569.2" y="36.4"/>
<rect x="571.1" y="34.2"/>
<rect x="572.9" y="34.1"/>
<rect x="574.7" y="31.0"/>
<rect x="576.6" y="33.7"/>
<rect x="578.4" y="38.4"/>
<rect x="580.2" y="35.3"/>
<rect x="582.0" y="36.0"/>
<rect x="583.9" y="33.6"/>
<rect x="585.7" y="35.5"/>
<rect x="587.5" y="34.5"/>
<rect x="589.4" y="35.8"/>
<rect x="591.2" y="34.3"/>
<rect x="593.0" y="32.9"/>
<rect x="594.9" y="36.2"/>
<rect x="596.7" y="38.4"/>
<rect x="598.5" y="36.8"/>
<rect x="600.3" y="32.7"/>
<rect x="602.2" y="34.8"/>
<rect x="604.0" y="35.6"/>
<rect x="605.8" y="36.6"/>
<rect x="607.7" y="33.4"/>
<rect x="609.5" y="34.6"/>
<rect x="611.3" y="35.2"/>
<rect x="613.2" y="35.9"/>
<rect x="615.0" y="35.2"/>
<rect x="616.8" y="35.5"/>
<rect x="618.6" y="34.1"/>
<rect x="620.5" y="32.9"/>
<rect x="622.3" y="38.0"/>
<rect x="624.1" y="37.2"/>
<rect x="626.0" y="35.1"/>
<rect x="627.8" y="34.8"/>
<rect x="629.6" y="37.3"/>
<rect x="631.4" y="35.8"/>
</g>
<g class="oa" stroke="#2468b8">
<rect x="86.2" y="77.8"/>
<rect x="88.0" y="220.5"/>
<rect x="89.9" y="240.6"/>
<rect x="91.7" y="188.9"/>
<rect x="93.5" y="161.7"/>
<rect x="95.4" y="150.3"/>
<rect x="97.2" y="142.0"/>
<rect x="99.0" y="135.3"/>
<rect x="100.8" y="131.2"/>
<rect x="102.7" y="124.4"/>
<rect x="104.5" y="115.9"/>
<rect x="106.3" y="111.4"/>
<rect x="108.2" y="104.4"/>
<rect x="110.0" y="100.4"/>
<rect x="111.8" y="96.3"/>
<rect x="113.7" y="91.7"/>
<rect x="115.5" y="91.6"/>
<rect x="117.3" y="86.0"/>
<rect x="119.1" y="83.7"/>
<rect x="121.0" y="78.5"/>
<rect x="122.8" y="78.4"/>
<rect x="124.6" y="74.6"/>
<rect x="126.5" y="73.4"/>
<rect x="128.3" y="69.9"/>
<rect x="130.1" y="67.6"/>
<rect x="132.0" y="67.1"/>
<rect x="133.8" y="65.0"/>
<rect x="135.6" y="63.3"/>
<rect x="137.4" y="61.1"/>
<rect x="139.3" y="61.4"/>
<rect x="141.1" y="59.6"/>
<rect x="142.9" y="59.0"/>
<rect x="144.8" y="58.6"/>
<rect x="146.6" y="55.8"/>
<rect x="148.4" y="54.3"/>
<rect x="150.2" y="55.1"/>
<rect x="152.1" y="50.6"/>
<rect x="153.9" y="53.0"/>
<rect x="155.7" y="50.0"/>
<rect x="157.6" y="49.7"/>
<rect x="159.4" y="51.9"/>
<rect x="161.2" y="48.7"/>
<rect x="163.1" y="50.3"/>
<rect x="164.9" y="47.6"/>
<rect x="166.7" y="45.9"/>
<rect x="168.5" y="43.7"/>
<rect x="170.4" y="44.8"/>
<rect x="172.2" y="47.7"/>
<rect x="174.0" y="45.7"/>
<rect x="175.9" y="42.7"/>
<rect x="177.7" y="44.4"/>
<rect x="179.5" y="41.8"/>
<rect x="181.4" y="45.3"/>
<rect x="183.2" y="44.8"/>
<rect x="185.0" y="45.8"/>
<rect x="186.8" y="44.3"/>
<rect x="188.7" y="41.8"/>
<rect x="190.5" y="44.8"/>
<rect x="192.3" y="42.1"/>
<rect x="194.2" y="42.5"/>
<rect x="196.0" y="42.0"/>
<rect x="197.8" y="43.4"/>
<rect x="199.6" y="42.9"/>
<rect x="201.5" y="39.7"/>
<rect x="203.3" y="44.5"/>
<rect x="205.1" y="41.5"/>
<rect x="207.0" y="40.4"/>
<rect x="208.8" y="41.8"/>
<rect x="210.6" y="40.0"/>
<rect x="212.5" y="46.6"/>
<rect x="214.3" y="42.7"/>
<rect x="216.1" y="43.9"/>
<rect x="217.9" y="42.7"/>
<rect x="219.8" y="42.2"/>
<rect x="221.6" y="41.3"/>
<rect x="223.4" y="43.2"/>
<rect x="225.3" y="40.6"/>
<rect x="227.1" y="44.1"/>
<rect x="228.9" y="40.3"/>
<rect x="230.8" y="42.0"/>
<rect x="232.6" y="44.2"/>
<rect x="234.4" y="44.1"/>
<rect x="236.2" y="44.0"/>
<rect x="238.1" y="42.8"/>
<rect x="239.9" y="41.1"/>
<rect x="241.7" y="39.3"/>
<rect x="243.6" y="40.0"/>
<rect x="245.4" y="43.0"/>
<rect x="247.2" y="44.3"/>
<rect x="249.0" y="41.3"/>
<rect x="250.9" y="42.9"/>
<rect x="252.7" y="41.0"/>
<rect x="254.5" y="41.6"/>
<rect x="256.4" y="36.8"/>
<rect x="258.2" y="43.0"/>
<rect x="260.0" y="39.9"/>
<rect x="261.9" y="37.6"/>
<rect x="263.7" y="40.8"/>
<rect x="265.5" y="41.2"/>
<rect x="267.3" y="37.6"/>
<rect x="269.2" y="43.0"/>
<rect x="271.0" y="42.3"/>
<rect x="272.8" y="41.5"/>
<rect x="274.7" y="39.1"/>
<rect x="276.5" y="38.4"/>
<rect x="278.3" y="39.7"/>
<rect x="280.2" y="36.2"/>
<rect x="282.0" y="39.6"/>
<rect x="283.8" y="39.2"/>
<rect x="285.6" y="39.5"/>
<rect x="287.5" y="37.2"/>
<rect x="289.3" y="38.9"/>
<rect x="291.1" y="39.4"/>
<rect x="293.0" y="36.2"/>
<rect x="294.8" y="36.7"/>
<rect x="296.6" y="37.0"/>
<rect x="298.5" y="40.2"/>
<rect x="300.3" y="39.8"/>
<rect x="302.1" y="38.5"/>
<rect x="303.9" y="38.5"/>
<rect x="305.8" y="38.6"/>
<rect x="307.6" y="38.2"/>
<rect x="309.4" y="36.8"/>
<rect x="311.3" y="39.1"/>
<rect x="313.1" y="37.2"/>
<rect x="314.9" y="38.0"/>
<rect x="316.7" y="38.0"/>
<rect x="318.6" y="37.7"/>
<rect x="320.4" y="36.1"/>
<rect x="322.2" y="36.6"/>
<rect x="324.1" y="38.1"/>
<rect x="325.9" y="36.3"/>
<rect x="327.7" y="36.5"/>
<rect x="329.6" y="36.0"/>
<rect x="331.4" y="36.8"/>
<rect x="333.2" y="34.9"/>
<rect x="335.0" y="35.6"/>
<rect x="336.9" y="37.7"/>
<rect x="338.7" y="37.7"/>
<rect x="340.5" y="37.8"/>
<rect x="342.4" y="35.0"/>
<rect x="344.2" y="36.4"/>
<rect x="346.0" y="35.7"/>
<rect x="347.9" y="35.2"/>
<rect x="349.7" y="33.1"/>
<rect x="351.5" y="31.6"/>
<rect x="353.3" y="34.8"/>
<rect x="355.2" y="31.5"/>
<rect x="357.0" y="33.5"/>
<rect x="358.8" y="32.4"/>
<rect x="360.7" y="34.4"/>
<rect x="362.5" y="35.7"/>
<rect x="364.3" y="33.1"/>
<rect x="366.1" y="31.8"/>
<rect x="368.0" y="35.8"/>
<rect x="369.8" y="33.6"/>
<rect x="371.6" y="33.1"/>
<rect x="373.5" y="32.4"/>
<rect x="375.3" y="34.8"/>
<rect x="377.1" y="34.0"/>
<rect x="379.0" y="31.8"/>
<rect x="380.8" y="30.5"/>
<rect x="382.6" y="32.9"/>
<rect x="384.4" y="31.6"/>
<rect x="386.3" y="32.7"/>
<rect x="388.1" y="32.3"/>
<rect x="389.9" y="33.5"/>
<rect x="391.8" y="33.2"/>
<rect x="393.6" y="33.7"/>
<rect x="395.4" y="32.7"/>
<rect x="397.3" y="31.2"/>
<rect x="399.1" y="32.5"/>
<rect x="400.9" y="31.8"/>
<rect x="402.7" y="33.6"/>
<rect x="404.6" y="31.6"/>
<rect x="406.4" y="37.2"/>
<rect x="408.2" y="34.7"/>
<rect x="410.1" y="33.1"/>
<rect x="411.9" y="35.2"/>
<rect x="413.7" y="31.7"/>
<rect x="415.5" y="32.2"/>
<rect x="417.4" y="33.8"/>
<rect x="419.2" y="32.3"/>
<rect x="421.0" y="34.6"/>
<rect x="422.9" y="33.7"/>
<rect x="424.7" y="32.9"/>
<rect x="426.5" y="34.7"/>
<rect x="428.4" y="30.8"/>
<rect x="430.2" y="33.3"/>
<rect x="432.0" y="30.8"/>
<rect x="433.8" y="32.5"/>
<rect x="435.7" y="31.8"/>
<rect x="437.5" y="33.6"/>
<rect x="439.3" y="32.7"/>
<rect x="441.2" y="32.8"/>
<rect x="443.0" y="31.8"/>
<rect x="444.8" y="30.2"/>
<rect x="446.7" y="33.0"/>
<rect x="448.5" y="32.4"/>
<rect x="450.3" y="31.6"/>
<rect x="452.1" y="30.8"/>
<rect x="454.0" y="32.2"/>
<rect x="455.8" y="32.6"/>
<rect x="457.6" y="32.9"/>
<rect x="459.5" y="32.0"/>
<rect x="461.3" y="31.7"/>
<rect x="463.1" y="33.0"/>
<rect x="465.0" y="32.4"/>
<rect x="466.8" y="30.9"/>
<rect x="468.6" y="32.0"/>
<rect x="470.4" y="32.8"/>
<rect x="472.3" y="30.9"/>
<rect x="474.1" y="30.9"/>
<rect x="475.9" y="31.0"/>
<rect x="477.8" y="30.9"/>
<rect x="479.6" y="32.4"/>
<rect x="481.4" y="31.6"/>
<rect x="483.2" y="31.4"/>
<rect x="485.1" y="31.7"/>
<rect x="486.9" y="34.4"/>
<rect x="488.7" y="31.8"/>
<rect x="490.6" y="31.3"/>
<rect x="492.4" y="31.1"/>
<rect x="494.2" y="32.2"/>
<rect x="496.1" y="31.7"/>
<rect x="497.9" y="34.4"/>
<rect x="499.7" y="33.9"/>
<rect x="501.5" y="36.0"/>
<rect x="503.4" y="32.0"/>
<rect x="505.2" y="29.3"/>
<rect x="507.0" y="29.1"/>
<rect x="508.9" y="33.3"/>
<rect x="510.7" y="30.7"/>
<rect x="512.5" y="29.8"/>
<rect x="514.4" y="32.1"/>
<rect x="516.2" y="34.5"/>
<rect x="518.0" y="29.6"/>
<rect x="519.8" y="32.1"/>
<rect x="521.7" y="32.2"/>
<rect x="523.5" y="29.1"/>
<rect x="525.3" y="30.9"/>
<rect x="527.2" y="30.3"/>
<rect x="529.0" y="29.2"/>
<rect x="530.8" y="31.7"/>
<rect x="532.6" y="32.9"/>
<rect x="534.5" y="30.4"/>
<rect x="536.3" y="31.5"/>
<rect x="538.1" y="30.4"/>
<rect x="540.0" y="30.9"/>
<rect x="541.8" y="32.5"/>
<rect x="543.6" y="31.4"/>
<rect x="545.5" y="31.9"/>
<rect x="547.3" y="31.7"/>
<rect x="549.1" y="31.4"/>
<rect x="550.9" y="30.9"/>
<rect x="552.8" y="31.1"/>
<rect x="554.6" y="33.2"/>
<rect x="556.4" y="30.4"/>
<rect x="558.3" y="33.4"/>
<rect x="560.1" y="28.1"/>
<rect x="561.9" y="32.4"/>
<rect x="563.8" y="31.4"/>
<rect x="565.6" y="29.3"/>
<rect x="567.4" y="31.6"/>
<rect x="569.2" y="33.1"/>
<rect x="571.1" y="33.3"/>
<rect x="572.9" y="30.8"/>
<rect x="574.7" y="30.6"/>
<rect x="576.6" y="30.0"/>
<rect x="578.4" y="30.8"/>
<rect x="580.2" y="31.9"/>
<rect x="582.0" y="30.5"/>
<rect x="583.9" y="29.1"/>
<rect x="585.7" y="32.3"/>
<rect x="587.5" y="26.0"/>
<rect x="589.4" y="31.8"/>
<rect x="591.2" y="29.3"/>
<rect x="593.0" y="28.4"/>
<rect x="594.9" y="29.8"/>
<rect x="596.7" y="30.7"/>
<rect x="598.5" y="30.1"/>
<rect x="600.3" y="29.2"/>
<rect x="602.2" y="34.9"/>
<rect x="604.0" y="30.4"/>
<rect x="605.8" y="31.7"/>
<rect x="607.7" y="32.1"/>
<rect x="609.5" y="30.9"/>
<rect x="611.3" y="30.8"/>
<rect x="613.2" y="30.4"/>
<rect x="615.0" y="31.9"/>
<rect x="616.8" y="29.4"/>
<rect x="618.6" y="34.1"/>
<rect x="620.5" y="32.5"/>
<rect x="622.3" y="32.8"/>
<rect x="624.1" y="30.9"/>
<rect x="626.0" y="31.8"/>
<rect x="627.8" y="30.3"/>
<rect x="629.6" y="32.2"/>
<rect x="631.4" y="29.2"/>
</g>
<g class="oa" stroke="#88bcea">
<rect x="86.2" y="101.9"/>
<rect x="88.0" y="281.3"/>
<rect x="91.7" y="254.3"/>
<rect x="93.5" y="202.6"/>
<rect x="95.4" y="163.3"/>
<rect x="97.2" y="146.4"/>
<rect x="99.0" y="138.8"/>
<rect x="100.8" y="118.6"/>
<rect x="102.7" y="115.6"/>
<rect x="104.5" y="112.3"/>
<rect x="106.3" y="97.1"/>
<rect x="108.2" y="90.4"/>
<rect x="110.0" y="87.7"/>
<rect x="111.8" y="84.9"/>
<rect x="113.7" y="77.1"/>
<rect x="115.5" y="77.1"/>
<rect x="117.3" y="73.4"/>
<rect x="119.1" y="70.1"/>
<rect x="121.0" y="68.0"/>
<rect x="122.8" y="67.1"/>
<rect x="124.6" y="65.9"/>
<rect x="126.5" y="60.9"/>
<rect x="128.3" y="63.5"/>
<rect x="130.1" y="57.6"/>
<rect x="132.0" y="55.8"/>
<rect x="133.8" y="53.7"/>
<rect x="135.6" y="53.5"/>
<rect x="137.4" y="51.3"/>
<rect x="139.3" y="49.2"/>
<rect x="141.1" y="50.8"/>
<rect x="142.9" y="48.1"/>
<rect x="144.8" y="46.6"/>
<rect x="146.6" y="48.0"/>
<rect x="148.4" y="46.7"/>
<rect x="150.2" y="42.1"/>
<rect x="152.1" y="42.0"/>
<rect x="153.9" y="43.8"/>
<rect x="155.7" y="41.0"/>
<rect x="157.6" y="40.7"/>
<rect x="159.4" y="38.6"/>
<rect x="161.2" y="38.4"/>
<rect x="163.1" y="43.1"/>
<rect x="164.9" y="39.5"/>
<rect x="166.7" y="36.6"/>
<rect x="168.5" y="35.8"/>
<rect x="170.4" y="38.6"/>
<rect x="172.2" y="39.2"/>
<rect x="174.0" y="36.7"/>
<rect x="175.9" y="37.8"/>
<rect x="177.7" y="36.6"/>
<rect x="179.5" y="38.1"/>
<rect x="181.4" y="35.1"/>
<rect x="183.2" y="35.2"/>
<rect x="185.0" y="35.2"/>
<rect x="186.8" y="37.3"/>
<rect x="188.7" y="38.0"/>
<rect x="190.5" y="37.3"/>
<rect x="192.3" y="34.6"/>
<rect x="194.2" y="37.8"/>
<rect x="196.0" y="34.2"/>
<rect x="197.8" y="32.5"/>
<rect x="199.6" y="35.8"/>
<rect x="201.5" y="35.1"/>
<rect x="203.3" y="33.3"/>
<rect x="205.1" y="33.3"/>
<rect x="207.0" y="35.5"/>
<rect x="208.8" y="34.8"/>
<rect x="210.6" y="34.3"/>
<rect x="212.5" y="34.7"/>
<rect x="214.3" y="33.4"/>
<rect x="216.1" y="33.7"/>
<rect x="217.9" y="32.2"/>
<rect x="219.8" y="36.5"/>
<rect x="221.6" y="32.3"/>
<rect x="223.4" y="32.7"/>
<rect x="225.3" y="34.0"/>
<rect x="227.1" y="33.2"/>
<rect x="228.9" y="32.3"/>
<rect x="230.8" y="33.2"/>
<rect x="232.6" y="33.9"/>
<rect x="234.4" y="33.1"/>
<rect x="236.2" y="34.4"/>
<rect x="238.1" y="35.2"/>
<rect x="239.9" y="34.5"/>
<rect x="241.7" y="34.3"/>
<rect x="243.6" y="32.8"/>
<rect x="245.4" y="31.9"/>
<rect x="247.2" y="32.6"/>
<rect x="249.0" y="30.7"/>
<rect x="250.9" y="32.9"/>
<rect x="252.7" y="33.6"/>
<rect x="254.5" y="33.6"/>
<rect x="256.4" y="33.8"/>
<rect x="258.2" y="32.8"/>
<rect x="260.0" y="30.3"/>
<rect x="261.9" y="34.3"/>
<rect x="263.7" y="31.3"/>
<rect x="265.5" y="32.0"/>
<rect x="267.3" y="30.6"/>
<rect x="269.2" y="32.4"/>
<rect x="271.0" y="30.6"/>
<rect x="272.8" y="32.2"/>
<rect x="274.7" y="30.5"/>
<rect x="276.5" y="34.1"/>
<rect x="278.3" y="30.5"/>
<rect x="280.2" y="30.0"/>
<rect x="282.0" y="33.3"/>
<rect x="283.8" y="29.6"/>
<rect x="285.6" y="32.4"/>
<rect x="287.5" y="29.2"/>
<rect x="289.3" y="30.5"/>
<rect x="291.1" y="29.4"/>
<rect x="293.0" y="29.8"/>
<rect x="294.8" y="31.9"/>
<rect x="296.6" y="27.9"/>
<rect x="298.5" y="28.2"/>
<rect x="300.3" y="31.4"/>
<rect x="302.1" y="29.0"/>
<rect x="303.9" y="29.0"/>
<rect x="305.8" y="30.5"/>
<rect x="307.6" y="31.0"/>
<rect x="309.4" y="27.5"/>
<rect x="311.3" y="29.8"/>
<rect x="313.1" y="27.8"/>
<rect x="314.9" y="26.3"/>
<rect x="316.7" y="28.2"/>
<rect x="318.6" y="30.1"/>
<rect x="320.4" y="27.3"/>
<rect x="322.2" y="30.6"/>
<rect x="324.1" y="29.9"/>
<rect x="325.9" y="24.2"/>
<rect x="327.7" y="29.5"/>
<rect x="329.6" y="27.7"/>
<rect x="331.4" y="29.7"/>
<rect x="333.2" y="28.2"/>
<rect x="335.0" y="27.6"/>
<rect x="336.9" y="31.6"/>
<rect x="338.7" y="28.6"/>
<rect x="340.5" y="26.6"/>
<rect x="342.4" y="26.2"/>
<rect x="344.2" y="26.8"/>
<rect x="346.0" y="28.5"/>
<rect x="347.9" y="26.5"/>
<rect x="349.7" y="27.6"/>
<rect x="351.5" y="27.9"/>
<rect x="353.3" y="26.7"/>
<rect x="355.2" y="23.3"/>
<rect x="357.0" y="27.8"/>
<rect x="358.8" y="24.9"/>
<rect x="360.7" y="25.9"/>
<rect x="362.5" y="28.3"/>
<rect x="364.3" y="27.4"/>
<rect x="366.1" y="26.3"/>
<rect x="368.0" y="26.6"/>
<rect x="369.8" y="25.5"/>
<rect x="371.6" y="27.3"/>
<rect x="373.5" y="27.3"/>
<rect x="375.3" y="24.3"/>
<rect x="377.1" y="25.8"/>
<rect x="379.0" y="26.9"/>
<rect x="380.8" y="25.7"/>
<rect x="382.6" y="23.0"/>
<rect x="384.4" y="26.5"/>
<rect x="386.3" y="27.8"/>
<rect x="388.1" y="24.3"/>
<rect x="389.9" y="22.8"/>
<rect x="391.8" y="23.8"/>
<rect x="393.6" y="27.5"/>
<rect x="395.4" y="28.5"/>
<rect x="397.3" y="23.7"/>
<rect x="399.1" y="25.8"/>
<rect x="400.9" y="24.8"/>
<rect x="402.7" y="25.8"/>
<rect x="404.6" y="23.1"/>
<rect x="406.4" y="25.4"/>
<rect x="408.2" y="25.9"/>
<rect x="410.1" y="25.3"/>
<rect x="411.9" y="27.2"/>
<rect x="413.7" y="25.2"/>
<rect x="415.5" y="25.6"/>
<rect x="417.4" y="28.5"/>
<rect x="419.2" y="27.1"/>
<rect x="421.0" y="27.2"/>
<rect x="422.9" y="27.7"/>
<rect x="424.7" y="24.9"/>
<rect x="426.5" y="23.8"/>
<rect x="428.4" y="24.9"/>
<rect x="430.2" y="27.5"/>
<rect x="432.0" y="28.0"/>
<rect x="433.8" y="24.3"/>
<rect x="435.7" y="25.8"/>
<rect x="437.5" y="25.5"/>
<rect x="439.3" y="27.2"/>
<rect x="441.2" y="28.3"/>
<rect x="443.0" y="22.2"/>
<rect x="444.8" y="26.2"/>
<rect x="446.7" y="25.6"/>
<rect x="448.5" y="27.0"/>
<rect x="450.3" y="23.1"/>
<rect x="452.1" y="25.9"/>
<rect x="454.0" y="25.6"/>
<rect x="455.8" y="25.3"/>
<rect x="457.6" y="25.3"/>
<rect x="459.5" y="23.3"/>
<rect x="461.3" y="28.0"/>
<rect x="463.1" y="24.4"/>
<rect x="465.0" y="26.2"/>
<rect x="466.8" y="25.9"/>
<rect x="468.6" y="26.2"/>
<rect x="470.4" y="24.7"/>
<rect x="472.3" y="27.1"/>
<rect x="474.1" y="26.1"/>
<rect x="475.9" y="24.5"/>
<rect x="477.8" y="26.1"/>
<rect x="479.6" y="26.0"/>
<rect x="481.4" y="24.7"/>
<rect x="483.2" y="25.1"/>
<rect x="485.1" y="25.7"/>
<rect x="486.9" y="25.2"/>
<rect x="488.7" y="26.5"/>
<rect x="490.6" y="24.0"/>
<rect x="492.4" y="26.8"/>
<rect x="494.2" y="27.5"/>
<rect x="496.1" y="24.6"/>
<rect x="497.9" y="27.1"/>
<rect x="499.7" y="26.6"/>
<rect x="501.5" y="25.5"/>
<rect x="503.4" y="24.2"/>
<rect x="505.2" y="25.9"/>
<rect x="507.0" y="25.8"/>
<rect x="508.9" y="25.8"/>
<rect x="510.7" y="24.6"/>
<rect x="512.5" y="25.9"/>
<rect x="514.4" y="24.8"/>
<rect x="516.2" y="23.2"/>
<rect x="518.0" y="25.4"/>
<rect x="519.8" y="25.7"/>
<rect x="521.7" y="26.5"/>
<rect x="523.5" y="26.2"/>
<rect x="525.3" y="26.9"/>
<rect x="527.2" y="26.7"/>
<rect x="529.0" y="25.9"/>
<rect x="530.8" y="24.6"/>
<rect x="532.6" y="24.3"/>
<rect x="534.5" y="25.7"/>
<rect x="536.3" y="24.6"/>
<rect x="538.1" y="26.9"/>
<rect x="540.0" y="22.0"/>
<rect x="541.8" y="21.4"/>
<rect x="543.6" y="25.1"/>
<rect x="545.5" y="24.2"/>
<rect x="547.3" y="24.8"/>
<rect x="549.1" y="23.8"/>
<rect x="550.9" y="25.8"/>
<rect x="552.8" y="27.1"/>
<rect x="554.6" y="23.7"/>
<rect x="556.4" y="26.5"/>
<rect x="558.3" y="24.4"/>
<rect x="560.1" y="26.2"/>
<rect x="561.9" y="26.0"/>
<rect x="563.8" y="23.4"/>
<rect x="565.6" y="22.5"/>
<rect x="567.4" y="25.0"/>
<rect x="569.2" y="25.4"/>
<rect x="571.1" y="24.4"/>
<rect x="572.9" y="25.6"/>
<rect x="574.7" y="27.3"/>
<rect x="576.6" y="24.8"/>
<rect x="578.4" y="28.0"/>
<rect x="580.2" y="24.1"/>
<rect x="582.0" y="25.4"/>
<rect x="583.9" y="24.4"/>
<rect x="585.7" y="26.8"/>
<rect x="587.5" y="25.8"/>
<rect x="589.4" y="23.8"/>
<rect x="591.2" y="22.7"/>
<rect x="593.0" y="23.4"/>
<rect x="594.9" y="24.1"/>
<rect x="596.7" y="26.2"/>
<rect x="598.5" y="23.8"/>
<rect x="600.3" y="24.4"/>
<rect x="602.2" y="25.0"/>
<rect x="604.0" y="22.7"/>
<rect x="605.8" y="25.6"/>
<rect x="607.7" y="22.0"/>
<rect x="609.5" y="25.4"/>
<rect x="611.3" y="25.5"/>
<rect x="613.2" y="24.6"/>
<rect x="615.0" y="26.4"/>
<rect x="616.8" y="25.1"/>
<rect x="618.6" y="24.3"/>
<rect x="620.5" y="26.9"/>
<rect x="622.3" y="25.6"/>
<rect x="624.1" y="26.4"/>
<rect x="626.0" y="25.0"/>
<rect x="627.8" y="22.7"/>
<rect x="629.6" y="25.0"/>
<rect x="631.4" y="24.6"/>
</g>
<g class="oa" stroke="#58c04c">
<rect x="106.3" y="288.8"/>
<rect x="108.2" y="267.3"/>
<rect x="110.0" y="247.4"/>
<rect x="111.8" y="232.3"/>
<rect x="113.7" y="220.4"/>
<rect x="115.5" y="204.8"/>
<rect x="117.3" y="198.3"/>
<rect x="119.1" y="187.2"/>
<rect x="121.0" y="176.7"/>
<rect x="122.8" y="171.5"/>
<rect x="124.6" y="164.9"/>
<rect x="126.5" y="159.1"/>
<rect x="128.3" y="155.5"/>
<rect x="130.1" y="150.8"/>
<rect x="132.0" y="147.8"/>
<rect x="133.8" y="142.4"/>
<rect x="135.6" y="139.5"/>
<rect x="137.4" y="137.6"/>
<rect x="139.3" y="133.6"/>
<rect x="141.1" y="128.2"/>
<rect x="142.9" y="123.6"/>
<rect x="144.8" y="119.4"/>
<rect x="146.6" y="113.7"/>
<rect x="148.4" y="112.5"/>
<rect x="150.2" y="109.3"/>
<rect x="152.1" y="106.1"/>
<rect x="153.9" y="106.3"/>
<rect x="155.7" y="101.3"/>
<rect x="157.6" y="99.3"/>
<rect x="159.4" y="96.6"/>
<rect x="161.2" y="97.9"/>
<rect x="163.1" y="95.9"/>
<rect x="164.9" y="93.7"/>
<rect x="166.7" y="93.0"/>
<rect x="168.5" y="92.8"/>
<rect x="170.4" y="88.4"/>
<rect x="172.2" y="88.2"/>
<rect x="174.0" y="85.8"/>
<rect x="175.9" y="85.8"/>
<rect x="177.7" y="81.9"/>
<rect x="179.5" y="82.0"/>
<rect x="181.4" y="81.1"/>
<rect x="183.2" y="78.1"/>
<rect x="185.0" y="76.5"/>
<rect x="186.8" y="77.7"/>
<rect x="188.7" y="74.2"/>
<rect x="190.5" y="72.4"/>
<rect x="192.3" y="72.9"/>
<rect x="194.2" y="73.8"/>
<rect x="196.0" y="70.5"/>
<rect x="197.8" y="69.0"/>
<rect x="199.6" y="70.6"/>
<rect x="201.5" y="66.6"/>
<rect x="203.3" y="68.0"/>
<rect x="205.1" y="67.2"/>
<rect x="207.0" y="65.1"/>
<rect x="208.8" y="65.6"/>
<rect x="210.6" y="63.8"/>
<rect x="212.5" y="64.8"/>
<rect x="214.3" y="63.9"/>
<rect x="216.1" y="63.9"/>
<rect x="217.9" y="63.2"/>
<rect x="219.8" y="62.4"/>
<rect x="221.6" y="62.1"/>
<rect x="223.4" y="62.7"/>
<rect x="225.3" y="60.8"/>
<rect x="227.1" y="61.7"/>
<rect x="228.9" y="59.8"/>
<rect x="230.8" y="60.2"/>
<rect x="232.6" y="60.7"/>
<rect x="234.4" y="61.2"/>
<rect x="236.2" y="59.9"/>
<rect x="238.1" y="58.0"/>
<rect x="239.9" y="59.1"/>
<rect x="241.7" y="57.9"/>
<rect x="243.6" y="58.9"/>
<rect x="245.4" y="58.8"/>
<rect x="247.2" y="58.9"/>
<rect x="249.0" y="60.1"/>
<rect x="250.9" y="57.1"/>
<rect x="252.7" y="57.1"/>
<rect x="254.5" y="56.8"/>
<rect x="256.4" y="55.5"/>
<rect x="258.2" y="57.2"/>
<rect x="260.0" y="53.7"/>
<rect x="261.9" y="57.1"/>
<rect x="263.7" y="54.7"/>
<rect x="265.5" y="56.0"/>
<rect x="267.3" y="54.6"/>
<rect x="269.2" y="52.5"/>
<rect x="271.0" y="55.3"/>
<rect x="272.8" y="53.0"/>
<rect x="274.7" y="52.7"/>
<rect x="276.5" y="52.2"/>
<rect x="278.3" y="51.8"/>
<rect x="280.2" y="50.8"/>
<rect x="282.0" y="50.8"/>
<rect x="283.8" y="50.6"/>
<rect x="285.6" y="49.6"/>
<rect x="287.5" y="49.6"/>
<rect x="289.3" y="50.2"/>
<rect x="291.1" y="51.2"/>
<rect x="293.0" y="48.4"/>
<rect x="294.8" y="49.5"/>
<rect x="296.6" y="46.8"/>
<rect x="298.5" y="49.1"/>
<rect x="300.3" y="49.6"/>
<rect x="302.1" y="46.5"/>
<rect x="303.9" y="48.4"/>
<rect x="305.8" y="49.1"/>
<rect x="307.6" y="45.6"/>
<rect x="309.4" y="48.5"/>
<rect x="311.3" y="44.9"/>
<rect x="313.1" y="47.4"/>
<rect x="314.9" y="45.5"/>
<rect x="316.7" y="45.5"/>
<rect x="318.6" y="47.7"/>
<rect x="320.4" y="45.3"/>
<rect x="322.2" y="45.6"/>
<rect x="324.1" y="44.7"/>
<rect x="325.9" y="44.1"/>
<rect x="327.7" y="42.6"/>
<rect x="329.6" y="44.6"/>
<rect x="331.4" y="44.3"/>
<rect x="333.2" y="41.4"/>
<rect x="335.0" y="42.9"/>
<rect x="336.9" y="42.7"/>
<rect x="338.7" y="45.3"/>
<rect x="340.5" y="44.9"/>
<rect x="342.4" y="43.8"/>
<rect x="344.2" y="43.2"/>
<rect x="346.0" y="42.2"/>
<rect x="347.9" y="39.4"/>
<rect x="349.7" y="44.0"/>
<rect x="351.5" y="42.8"/>
<rect x="353.3" y="41.5"/>
<rect x="355.2" y="41.7"/>
<rect x="357.0" y="40.6"/>
<rect x="358.8" y="42.1"/>
<rect x="360.7" y="42.7"/>
<rect x="362.5" y="39.1"/>
<rect x="364.3" y="40.9"/>
<rect x="366.1" y="42.8"/>
<rect x="368.0" y="41.7"/>
<rect x="369.8" y="41.2"/>
<rect x="371.6" y="42.8"/>
<rect x="373.5" y="40.1"/>
<rect x="375.3" y="40.7"/>
<rect x="377.1" y="41.3"/>
<rect x="379.0" y="41.6"/>
<rect x="380.8" y="38.8"/>
<rect x="382.6" y="40.8"/>
<rect x="384.4" y="41.5"/>
<rect x="386.3" y="43.0"/>
<rect x="388.1" y="41.8"/>
<rect x="389.9" y="39.6"/>
<rect x="391.8" y="38.6"/>
<rect x="393.6" y="41.7"/>
<rect x="395.4" y="42.7"/>
<rect x="397.3" y="40.2"/>
<rect x="399.1" y="40.2"/>
<rect x="400.9" y="39.1"/>
<rect x="402.7" y="40.9"/>
<rect x="404.6" y="39.9"/>
<rect x="406.4" y="42.2"/>
<rect x="408.2" y="41.4"/>
<rect x="410.1" y="40.6"/>
<rect x="411.9" y="40.4"/>
<rect x="413.7" y="39.2"/>
<rect x="415.5" y="38.4"/>
<rect x="417.4" y="41.5"/>
<rect x="419.2" y="37.7"/>
<rect x="421.0" y="40.6"/>
<rect x="422.9" y="40.2"/>
<rect x="424.7" y="38.3"/>
<rect x="426.5" y="42.4"/>
<rect x="428.4" y="41.3"/>
<rect x="430.2" y="40.5"/>
<rect x="432.0" y="39.4"/>
<rect x="433.8" y="38.2"/>
<rect x="435.7" y="38.1"/>
<rect x="437.5" y="40.5"/>
<rect x="439.3" y="38.5"/>
<rect x="441.2" y="39.8"/>
<rect x="443.0" y="37.6"/>
<rect x="444.8" y="39.6"/>
<rect x="446.7" y="38.0"/>
<rect x="448.5" y="40.4"/>
<rect x="450.3" y="38.3"/>
<rect x="452.1" y="40.8"/>
<rect x="454.0" y="39.0"/>
<rect x="455.8" y="41.0"/>
<rect x="457.6" y="39.3"/>
<rect x="459.5" y="40.0"/>
<rect x="461.3" y="40.2"/>
<rect x="463.1" y="38.7"/>
<rect x="465.0" y="38.0"/>
<rect x="466.8" y="38.8"/>
<rect x="468.6" y="38.6"/>
<rect x="470.4" y="38.0"/>
<rect x="472.3" y="37.4"/>
<rect x="474.1" y="37.6"/>
<rect x="475.9" y="38.3"/>
<rect x="477.8" y="36.4"/>
<rect x="479.6" y="39.4"/>
<rect x="481.4" y="37.8"/>
<rect x="483.2" y="40.1"/>
<rect x="485.1" y="35.9"/>
<rect x="486.9" y="39.0"/>
<rect x="488.7" y="38.5"/>
<rect x="490.6" y="37.0"/>
<rect x="492.4" y="38.8"/>
<rect x="494.2" y="39.6"/>
<rect x="496.1" y="40.7"/>
<rect x="497.9" y="38.8"/>
<rect x="499.7" y="36.1"/>
<rect x="501.5" y="38.3"/>
<rect x="503.4" y="36.4"/>
<rect x="505.2" y="37.4"/>
<rect x="507.0" y="38.9"/>
<rect x="508.9" y="40.0"/>
<rect x="510.7" y="38.6"/>
<rect x="512.5" y="37.6"/>
<rect x="514.4" y="38.5"/>
<rect x="516.2" y="38.0"/>
<rect x="518.0" y="37.5"/>
<rect x="519.8" y="38.6"/>
<rect x="521.7" y="39.9"/>
<rect x="523.5" y="38.5"/>
<rect x="525.3" y="37.4"/>
<rect x="527.2" y="39.1"/>
<rect x="529.0" y="39.3"/>
<rect x="530.8" y="39.2"/>
<rect x="532.6" y="38.3"/>
<rect x="534.5" y="38.1"/>
<rect x="536.3" y="38.0"/>
<rect x="538.1" y="39.5"/>
<rect x="540.0" y="37.9"/>
<rect x="541.8" y="38.6"/>
<rect x="543.6" y="39.0"/>
<rect x="545.5" y="40.0"/>
<rect x="547.3" y="39.1"/>
<rect x="549.1" y="38.5"/>
<rect x="550.9" y="37.6"/>
<rect x="552.8" y="37.3"/>
<rect x="554.6" y="37.7"/>
<rect x="556.4" y="37.4"/>
<rect x="558.3" y="39.0"/>
<rect x="560.1" y="36.7"/>
<rect x="561.9" y="36.6"/>
<rect x="563.8" y="36.8"/>
<rect x="565.6" y="38.2"/>
<rect x="567.4" y="37.6"/>
<rect x="569.2" y="38.1"/>
<rect x="571.1" y="39.0"/>
<rect x="572.9" y="37.9"/>
<rect x="574.7" y="39.3"/>
<rect x="576.6" y="39.5"/>
<rect x="578.4" y="36.7"/>
<rect x="580.2" y="36.7"/>
<rect x="582.0" y="36.3"/>
<rect x="583.9" y="37.8"/>
<rect x="585.7" y="37.2"/>
<rect x="587.5" y="36.6"/>
<rect x="589.4" y="37.7"/>
<rect x="591.2" y="39.6"/>
<rect x="593.0" y="34.5"/>
<rect x="594.9" y="35.7"/>
<rect x="596.7" y="35.6"/>
<rect x="598.5" y="37.0"/>
<rect x="600.3" y="38.0"/>
<rect x="602.2" y="36.9"/>
<rect x="604.0" y="36.7"/>
<rect x="605.8" y="38.6"/>
<rect x="607.7" y="37.5"/>
<rect x="609.5" y="36.3"/>
<rect x="611.3" y="35.1"/>
<rect x="613.2" y="36.1"/>
<rect x="615.0" y="37.3"/>
<rect x="616.8" y="38.3"/>
<rect x="618.6" y="34.4"/>
<rect x="620.5" y="36.6"/>
<rect x="622.3" y="35.8"/>
<rect x="624.1" y="36.7"/>
<rect x="626.0" y="38.3"/>
<rect x="627.8" y="34.1"/>
<rect x="629.6" y="35.8"/>
<rect x="631.4" y="35.2"/>
</g>
<rect x="392.0" y="68.4" width="196.2" height="164.4" fill="#fff" stroke="#111" stroke-width="1.7"/>
<line x1="392.00" y1="97.60" x2="395.30" y2="97.60" stroke="#000" stroke-width="1.6"/>
<line x1="588.20" y1="97.60" x2="584.90" y2="97.60" stroke="#000" stroke-width="1.6"/>
<line x1="392.00" y1="122.30" x2="397.40" y2="122.30" stroke="#000" stroke-width="1.6"/>
<line x1="588.20" y1="122.30" x2="582.80" y2="122.30" stroke="#000" stroke-width="1.6"/>
<line x1="392.00" y1="147.00" x2="395.30" y2="147.00" stroke="#000" stroke-width="1.6"/>
<line x1="588.20" y1="147.00" x2="584.90" y2="147.00" stroke="#000" stroke-width="1.6"/>
<line x1="392.00" y1="171.70" x2="397.40" y2="171.70" stroke="#000" stroke-width="1.6"/>
<line x1="588.20" y1="171.70" x2="582.80" y2="171.70" stroke="#000" stroke-width="1.6"/>
<line x1="392.00" y1="196.40" x2="395.30" y2="196.40" stroke="#000" stroke-width="1.6"/>
<line x1="588.20" y1="196.40" x2="584.90" y2="196.40" stroke="#000" stroke-width="1.6"/>
<line x1="392.00" y1="221.10" x2="397.40" y2="221.10" stroke="#000" stroke-width="1.6"/>
<line x1="588.20" y1="221.10" x2="582.80" y2="221.10" stroke="#000" stroke-width="1.6"/>
<line x1="411.26" y1="232.80" x2="411.26" y2="229.50" stroke="#000" stroke-width="1.6"/>
<line x1="411.26" y1="68.40" x2="411.26" y2="71.70" stroke="#000" stroke-width="1.6"/>
<line x1="430.92" y1="232.80" x2="430.92" y2="227.40" stroke="#000" stroke-width="1.6"/>
<line x1="430.92" y1="68.40" x2="430.92" y2="73.80" stroke="#000" stroke-width="1.6"/>
<line x1="450.58" y1="232.80" x2="450.58" y2="229.50" stroke="#000" stroke-width="1.6"/>
<line x1="450.58" y1="68.40" x2="450.58" y2="71.70" stroke="#000" stroke-width="1.6"/>
<line x1="470.24" y1="232.80" x2="470.24" y2="227.40" stroke="#000" stroke-width="1.6"/>
<line x1="470.24" y1="68.40" x2="470.24" y2="73.80" stroke="#000" stroke-width="1.6"/>
<line x1="489.90" y1="232.80" x2="489.90" y2="229.50" stroke="#000" stroke-width="1.6"/>
<line x1="489.90" y1="68.40" x2="489.90" y2="71.70" stroke="#000" stroke-width="1.6"/>
<line x1="509.56" y1="232.80" x2="509.56" y2="227.40" stroke="#000" stroke-width="1.6"/>
<line x1="509.56" y1="68.40" x2="509.56" y2="73.80" stroke="#000" stroke-width="1.6"/>
<line x1="529.22" y1="232.80" x2="529.22" y2="229.50" stroke="#000" stroke-width="1.6"/>
<line x1="529.22" y1="68.40" x2="529.22" y2="71.70" stroke="#000" stroke-width="1.6"/>
<line x1="548.88" y1="232.80" x2="548.88" y2="227.40" stroke="#000" stroke-width="1.6"/>
<line x1="548.88" y1="68.40" x2="548.88" y2="73.80" stroke="#000" stroke-width="1.6"/>
<line x1="568.54" y1="232.80" x2="568.54" y2="229.50" stroke="#000" stroke-width="1.6"/>
<line x1="568.54" y1="68.40" x2="568.54" y2="71.70" stroke="#000" stroke-width="1.6"/>
<text x="386.00" y="77.50" font-size="13.6" text-anchor="end" font-weight="normal" fill="#111">100</text>
<text x="386.00" y="126.90" font-size="13.6" text-anchor="end" font-weight="normal" fill="#111">98</text>
<text x="386.00" y="176.30" font-size="13.6" text-anchor="end" font-weight="normal" fill="#111">96</text>
<text x="386.00" y="225.70" font-size="13.6" text-anchor="end" font-weight="normal" fill="#111">94</text>
<text x="391.60" y="250.30" font-size="13.6" text-anchor="middle" font-weight="normal" fill="#111">0</text>
<text x="430.92" y="250.30" font-size="13.6" text-anchor="middle" font-weight="normal" fill="#111">5</text>
<text x="470.24" y="250.30" font-size="13.6" text-anchor="middle" font-weight="normal" fill="#111">10</text>
<text x="509.56" y="250.30" font-size="13.6" text-anchor="middle" font-weight="normal" fill="#111">15</text>
<text x="548.88" y="250.30" font-size="13.6" text-anchor="middle" font-weight="normal" fill="#111">20</text>
<text x="588.20" y="250.30" font-size="13.6" text-anchor="middle" font-weight="normal" fill="#111">25</text>
<text x="488.40" y="268.00" font-size="15.2" text-anchor="middle" font-weight="normal" fill="#111">Cycle Number</text>
<text transform="translate(359.3,151.8) rotate(-90)" font-size="15" text-anchor="middle" fill="#111">Efficiency</text>
<g class="oi" stroke="#101010">
<rect x="404.9" y="77.9"/>
<rect x="420.7" y="74.0"/>
<rect x="428.5" y="74.0"/>
<rect x="436.4" y="74.0"/>
<rect x="444.2" y="74.0"/>
<rect x="452.1" y="74.0"/>
<rect x="460.0" y="74.0"/>
<rect x="467.8" y="74.0"/>
<rect x="475.7" y="74.0"/>
<rect x="483.6" y="74.0"/>
<rect x="491.4" y="74.0"/>
<rect x="499.3" y="74.0"/>
<rect x="507.2" y="74.0"/>
<rect x="515.0" y="74.0"/>
<rect x="522.9" y="74.0"/>
<rect x="530.8" y="74.0"/>
<rect x="538.6" y="74.0"/>
<rect x="546.5" y="74.0"/>
<rect x="554.3" y="74.0"/>
<rect x="562.2" y="74.0"/>
<rect x="570.1" y="74.0"/>
<rect x="577.9" y="74.0"/>
<rect x="585.8" y="74.0"/>
</g>
<g class="oi" stroke="#3c963c">
<rect x="404.9" y="90.8"/>
<rect x="420.7" y="117.4"/>
<rect x="428.5" y="104.1"/>
<rect x="436.4" y="97.9"/>
<rect x="444.2" y="92.2"/>
<rect x="452.1" y="89.8"/>
<rect x="460.0" y="87.8"/>
<rect x="467.8" y="86.1"/>
<rect x="475.7" y="84.6"/>
<rect x="483.6" y="83.3"/>
<rect x="491.4" y="82.4"/>
<rect x="499.3" y="81.6"/>
<rect x="507.2" y="80.9"/>
<rect x="515.0" y="80.4"/>
<rect x="522.9" y="79.9"/>
<rect x="530.8" y="79.4"/>
<rect x="538.6" y="78.9"/>
<rect x="546.5" y="78.7"/>
<rect x="554.3" y="78.4"/>
<rect x="562.2" y="78.2"/>
<rect x="570.1" y="77.9"/>
<rect x="577.9" y="77.7"/>
<rect x="585.8" y="77.4"/>
</g>
<g class="oi" stroke="#c8262c">
<rect x="404.9" y="82.8"/>
<rect x="420.7" y="91.5"/>
<rect x="428.5" y="86.6"/>
<rect x="436.4" y="82.8"/>
<rect x="444.2" y="80.9"/>
<rect x="452.1" y="79.6"/>
<rect x="460.0" y="78.7"/>
<rect x="467.8" y="77.9"/>
<rect x="475.7" y="77.2"/>
<rect x="483.6" y="76.7"/>
<rect x="491.4" y="76.2"/>
<rect x="499.3" y="75.9"/>
<rect x="507.2" y="75.7"/>
<rect x="515.0" y="75.4"/>
<rect x="522.9" y="75.2"/>
<rect x="530.8" y="74.9"/>
<rect x="538.6" y="74.7"/>
<rect x="546.5" y="74.5"/>
<rect x="554.3" y="74.5"/>
<rect x="562.2" y="74.2"/>
<rect x="570.1" y="74.2"/>
<rect x="577.9" y="74.0"/>
<rect x="585.8" y="74.0"/>
</g>
<g class="oi" stroke="#e04a4a">
<rect x="404.9" y="85.3"/>
<rect x="420.7" y="113.2"/>
<rect x="428.5" y="100.4"/>
<rect x="436.4" y="93.2"/>
<rect x="444.2" y="88.3"/>
<rect x="452.1" y="85.3"/>
<rect x="460.0" y="83.3"/>
<rect x="467.8" y="81.9"/>
<rect x="475.7" y="80.6"/>
<rect x="483.6" y="79.6"/>
<rect x="491.4" y="78.9"/>
<rect x="499.3" y="78.2"/>
<rect x="507.2" y="77.7"/>
<rect x="515.0" y="77.2"/>
<rect x="522.9" y="76.7"/>
<rect x="530.8" y="76.4"/>
<rect x="538.6" y="76.2"/>
<rect x="546.5" y="75.9"/>
<rect x="554.3" y="75.7"/>
<rect x="562.2" y="75.4"/>
<rect x="570.1" y="75.2"/>
<rect x="577.9" y="74.9"/>
<rect x="585.8" y="74.7"/>
</g>
<g class="oi" stroke="#2468b8">
<rect x="404.9" y="77.4"/>
<rect x="420.7" y="91.7"/>
<rect x="428.5" y="87.0"/>
<rect x="436.4" y="84.8"/>
<rect x="444.2" y="82.8"/>
<rect x="452.1" y="81.4"/>
<rect x="460.0" y="80.4"/>
<rect x="467.8" y="79.6"/>
<rect x="475.7" y="78.9"/>
<rect x="483.6" y="78.4"/>
<rect x="491.4" y="77.9"/>
<rect x="499.3" y="77.7"/>
<rect x="507.2" y="77.4"/>
<rect x="515.0" y="77.2"/>
<rect x="522.9" y="76.9"/>
<rect x="530.8" y="76.7"/>
<rect x="538.6" y="76.4"/>
<rect x="546.5" y="76.2"/>
<rect x="554.3" y="75.9"/>
<rect x="562.2" y="75.9"/>
<rect x="570.1" y="75.7"/>
<rect x="577.9" y="75.7"/>
<rect x="585.8" y="75.4"/>
</g>
<g class="oi" stroke="#88bcea">
<rect x="404.9" y="75.9"/>
<rect x="420.7" y="97.9"/>
<rect x="428.5" y="92.7"/>
<rect x="436.4" y="87.8"/>
<rect x="444.2" y="84.8"/>
<rect x="452.1" y="82.8"/>
<rect x="460.0" y="81.4"/>
<rect x="467.8" y="80.4"/>
<rect x="475.7" y="79.6"/>
<rect x="483.6" y="78.9"/>
<rect x="491.4" y="78.4"/>
<rect x="499.3" y="77.9"/>
<rect x="507.2" y="77.4"/>
<rect x="515.0" y="77.2"/>
<rect x="522.9" y="76.9"/>
<rect x="530.8" y="76.7"/>
<rect x="538.6" y="76.4"/>
<rect x="546.5" y="76.2"/>
<rect x="554.3" y="75.9"/>
<rect x="562.2" y="75.9"/>
<rect x="570.1" y="75.7"/>
<rect x="577.9" y="75.4"/>
<rect x="585.8" y="75.4"/>
</g>
<g class="oi" stroke="#58c04c">
<rect x="420.7" y="172.5"/>
<rect x="428.5" y="143.1"/>
<rect x="436.4" y="128.8"/>
<rect x="444.2" y="119.4"/>
<rect x="452.1" y="112.2"/>
<rect x="460.0" y="108.0"/>
<rect x="467.8" y="104.6"/>
<rect x="475.7" y="102.1"/>
<rect x="483.6" y="99.9"/>
<rect x="491.4" y="98.2"/>
<rect x="499.3" y="96.4"/>
<rect x="507.2" y="95.0"/>
<rect x="515.0" y="93.7"/>
<rect x="522.9" y="92.5"/>
<rect x="530.8" y="91.5"/>
<rect x="538.6" y="90.5"/>
<rect x="546.5" y="89.5"/>
<rect x="554.3" y="88.5"/>
<rect x="562.2" y="87.5"/>
<rect x="570.1" y="86.6"/>
<rect x="577.9" y="85.6"/>
<rect x="585.8" y="84.8"/>
</g>
<path d="M90.0 404.5V413.1m-2.8 0h5.6M87.2 404.5h5.6M95.5 411.9V420.6m-2.8 0h5.6M92.7 411.9h5.6M101.0 416.7V425.4m-2.8 0h5.6M98.2 416.7h5.6M106.5 420.4V429.1m-2.8 0h5.6M103.7 420.4h5.6M111.9 423.6V432.2m-2.8 0h5.6M109.1 423.6h5.6M117.4 426.2V434.9m-2.8 0h5.6M114.6 426.2h5.6M122.9 428.5V437.2m-2.8 0h5.6M120.1 428.5h5.6M128.4 430.4V439.1m-2.8 0h5.6M125.6 430.4h5.6M133.9 432.2V440.8m-2.8 0h5.6M131.1 432.2h5.6M139.4 433.8V442.4m-2.8 0h5.6M136.6 433.8h5.6M144.9 435.2V443.9m-2.8 0h5.6M142.1 435.2h5.6M150.4 436.5V445.1m-2.8 0h5.6M147.6 436.5h5.6M155.9 437.5V446.2m-2.8 0h5.6M153.1 437.5h5.6M161.3 438.4V447.0m-2.8 0h5.6M158.5 438.4h5.6M166.8 439.0V447.7m-2.8 0h5.6M164.0 439.0h5.6M172.3 439.6V448.2m-2.8 0h5.6M169.5 439.6h5.6M177.8 440.0V448.7m-2.8 0h5.6M175.0 440.0h5.6M183.3 440.4V449.1m-2.8 0h5.6M180.5 440.4h5.6M188.8 440.8V449.5m-2.8 0h5.6M186.0 440.8h5.6M194.3 441.3V450.0m-2.8 0h5.6M191.5 441.3h5.6M199.8 441.8V450.5m-2.8 0h5.6M197.0 441.8h5.6M205.3 442.5V451.1m-2.8 0h5.6M202.5 442.5h5.6M210.7 443.2V451.8m-2.8 0h5.6M207.9 443.2h5.6M216.2 443.9V452.6m-2.8 0h5.6M213.4 443.9h5.6M221.7 444.7V453.4m-2.8 0h5.6M218.9 444.7h5.6M227.2 445.6V454.2m-2.8 0h5.6M224.4 445.6h5.6M232.7 446.4V455.1m-2.8 0h5.6M229.9 446.4h5.6M238.2 447.2V455.9m-2.8 0h5.6M235.4 447.2h5.6M243.7 448.1V456.7m-2.8 0h5.6M240.9 448.1h5.6M249.2 448.9V457.5m-2.8 0h5.6M246.4 448.9h5.6M254.7 449.6V458.3m-2.8 0h5.6M251.9 449.6h5.6M260.1 450.4V459.0m-2.8 0h5.6M257.3 450.4h5.6M265.6 451.1V459.8m-2.8 0h5.6M262.8 451.1h5.6M271.1 451.8V460.4m-2.8 0h5.6M268.3 451.8h5.6M276.6 452.4V461.1m-2.8 0h5.6M273.8 452.4h5.6M282.1 453.0V461.7m-2.8 0h5.6M279.3 453.0h5.6M287.6 453.6V462.2m-2.8 0h5.6M284.8 453.6h5.6M293.1 454.1V462.8m-2.8 0h5.6M290.3 454.1h5.6M298.6 454.6V463.3m-2.8 0h5.6M295.8 454.6h5.6M304.1 455.1V463.8m-2.8 0h5.6M301.3 455.1h5.6M309.5 455.6V464.2m-2.8 0h5.6M306.7 455.6h5.6M315.0 456.0V464.7m-2.8 0h5.6M312.2 456.0h5.6M320.5 456.5V465.1m-2.8 0h5.6M317.7 456.5h5.6M326.0 456.9V465.5m-2.8 0h5.6M323.2 456.9h5.6M331.5 457.3V466.0m-2.8 0h5.6M328.7 457.3h5.6M337.0 457.7V466.4m-2.8 0h5.6M334.2 457.7h5.6M342.5 458.1V466.8m-2.8 0h5.6M339.7 458.1h5.6M348.0 458.5V467.2m-2.8 0h5.6M345.2 458.5h5.6M353.5 458.9V467.5m-2.8 0h5.6M350.7 458.9h5.6M358.9 459.3V467.9m-2.8 0h5.6M356.1 459.3h5.6M364.4 459.6V468.3m-2.8 0h5.6M361.6 459.6h5.6M369.9 460.0V468.6m-2.8 0h5.6M367.1 460.0h5.6M375.4 460.3V469.0m-2.8 0h5.6M372.6 460.3h5.6M380.9 460.7V469.4m-2.8 0h5.6M378.1 460.7h5.6M386.4 461.1V469.7m-2.8 0h5.6M383.6 461.1h5.6M391.9 461.4V470.1m-2.8 0h5.6M389.1 461.4h5.6M397.4 461.7V470.4m-2.8 0h5.6M394.6 461.7h5.6M402.9 462.1V470.7m-2.8 0h5.6M400.1 462.1h5.6M408.4 462.4V471.1m-2.8 0h5.6M405.6 462.4h5.6M413.8 462.8V471.4m-2.8 0h5.6M411.0 462.8h5.6M419.3 463.1V471.7m-2.8 0h5.6M416.5 463.1h5.6M424.8 463.4V472.1m-2.8 0h5.6M422.0 463.4h5.6M430.3 463.7V472.4m-2.8 0h5.6M427.5 463.7h5.6M435.8 464.0V472.7m-2.8 0h5.6M433.0 464.0h5.6M441.3 464.3V473.0m-2.8 0h5.6M438.5 464.3h5.6M446.8 464.6V473.3m-2.8 0h5.6M444.0 464.6h5.6M452.3 465.0V473.6m-2.8 0h5.6M449.5 465.0h5.6M457.8 465.3V473.9m-2.8 0h5.6M455.0 465.3h5.6M463.2 465.6V474.2m-2.8 0h5.6M460.4 465.6h5.6M468.7 465.9V474.6m-2.8 0h5.6M465.9 465.9h5.6M474.2 466.2V474.9m-2.8 0h5.6M471.4 466.2h5.6M479.7 466.5V475.2m-2.8 0h5.6M476.9 466.5h5.6M485.2 466.9V475.5m-2.8 0h5.6M482.4 466.9h5.6M490.7 467.2V475.8m-2.8 0h5.6M487.9 467.2h5.6M496.2 467.5V476.2m-2.8 0h5.6M493.4 467.5h5.6M501.7 467.8V476.5m-2.8 0h5.6M498.9 467.8h5.6M507.2 468.1V476.8m-2.8 0h5.6M504.4 468.1h5.6M512.6 468.5V477.1m-2.8 0h5.6M509.8 468.5h5.6M518.1 468.8V477.4m-2.8 0h5.6M515.3 468.8h5.6M523.6 469.1V477.8m-2.8 0h5.6M520.8 469.1h5.6M529.1 469.4V478.1m-2.8 0h5.6M526.3 469.4h5.6M534.6 469.7V478.4m-2.8 0h5.6M531.8 469.7h5.6M540.1 470.0V478.7m-2.8 0h5.6M537.3 470.0h5.6M545.6 470.4V479.0m-2.8 0h5.6M542.8 470.4h5.6M551.1 470.7V479.3m-2.8 0h5.6M548.3 470.7h5.6M556.6 471.0V479.7m-2.8 0h5.6M553.8 471.0h5.6M562.0 471.3V480.0m-2.8 0h5.6M559.2 471.3h5.6M567.5 471.6V480.3m-2.8 0h5.6M564.7 471.6h5.6M573.0 471.9V480.6m-2.8 0h5.6M570.2 471.9h5.6M578.5 472.3V480.9m-2.8 0h5.6M575.7 472.3h5.6M584.0 472.6V481.2m-2.8 0h5.6M581.2 472.6h5.6M589.5 472.9V481.5m-2.8 0h5.6M586.7 472.9h5.6M595.0 473.2V481.9m-2.8 0h5.6M592.2 473.2h5.6M600.5 473.5V482.2m-2.8 0h5.6M597.7 473.5h5.6M606.0 473.8V482.5m-2.8 0h5.6M603.2 473.8h5.6M611.4 474.1V482.8m-2.8 0h5.6M608.6 474.1h5.6M616.9 474.4V483.1m-2.8 0h5.6M614.1 474.4h5.6M622.4 474.7V483.4m-2.8 0h5.6M619.6 474.7h5.6M627.9 475.1V483.7m-2.8 0h5.6M625.1 475.1h5.6M633.4 475.4V484.0m-2.8 0h5.6M630.6 475.4h5.6" stroke="#b83a3e" stroke-width="1.15" fill="none"/>
<path d="M90.0 422.5V438.1m-2.8 0h5.6M87.2 422.5h5.6M95.5 432.4V448.0m-2.8 0h5.6M92.7 432.4h5.6M101.0 438.8V454.4m-2.8 0h5.6M98.2 438.8h5.6M106.5 443.9V459.4m-2.8 0h5.6M103.7 443.9h5.6M111.9 448.4V464.0m-2.8 0h5.6M109.1 448.4h5.6M117.4 452.1V467.7m-2.8 0h5.6M114.6 452.1h5.6M122.9 455.1V470.6m-2.8 0h5.6M120.1 455.1h5.6M128.4 457.3V472.9m-2.8 0h5.6M125.6 457.3h5.6M133.9 458.9V474.5m-2.8 0h5.6M131.1 458.9h5.6M139.4 460.2V475.8m-2.8 0h5.6M136.6 460.2h5.6M144.9 461.2V476.8m-2.8 0h5.6M142.1 461.2h5.6M150.4 462.2V477.8m-2.8 0h5.6M147.6 462.2h5.6M155.9 463.1V478.6m-2.8 0h5.6M153.1 463.1h5.6M161.3 463.9V479.5m-2.8 0h5.6M158.5 463.9h5.6M166.8 464.8V480.4m-2.8 0h5.6M164.0 464.8h5.6M172.3 465.7V481.3m-2.8 0h5.6M169.5 465.7h5.6M177.8 466.6V482.2m-2.8 0h5.6M175.0 466.6h5.6M183.3 467.4V482.9m-2.8 0h5.6M180.5 467.4h5.6M188.8 468.1V483.6m-2.8 0h5.6M186.0 468.1h5.6M194.3 468.6V484.2m-2.8 0h5.6M191.5 468.6h5.6M199.8 469.1V484.7m-2.8 0h5.6M197.0 469.1h5.6M205.3 469.5V485.1m-2.8 0h5.6M202.5 469.5h5.6M210.7 469.9V485.5m-2.8 0h5.6M207.9 469.9h5.6M216.2 470.2V485.8m-2.8 0h5.6M213.4 470.2h5.6M221.7 470.4V486.0m-2.8 0h5.6M218.9 470.4h5.6M227.2 470.7V486.3m-2.8 0h5.6M224.4 470.7h5.6M232.7 470.9V486.5m-2.8 0h5.6M229.9 470.9h5.6M238.2 471.1V486.7m-2.8 0h5.6M235.4 471.1h5.6M243.7 471.3V486.9m-2.8 0h5.6M240.9 471.3h5.6M249.2 471.5V487.1m-2.8 0h5.6M246.4 471.5h5.6M254.7 471.7V487.3m-2.8 0h5.6M251.9 471.7h5.6M260.1 471.9V487.5m-2.8 0h5.6M257.3 471.9h5.6M265.6 472.1V487.7m-2.8 0h5.6M262.8 472.1h5.6M271.1 472.3V487.9m-2.8 0h5.6M268.3 472.3h5.6M276.6 472.5V488.1m-2.8 0h5.6M273.8 472.5h5.6M282.1 472.7V488.3m-2.8 0h5.6M279.3 472.7h5.6M287.6 472.9V488.5m-2.8 0h5.6M284.8 472.9h5.6M293.1 473.2V488.8m-2.8 0h5.6M290.3 473.2h5.6M298.6 473.4V489.0m-2.8 0h5.6M295.8 473.4h5.6M304.1 473.7V489.2m-2.8 0h5.6M301.3 473.7h5.6M309.5 473.9V489.5m-2.8 0h5.6M306.7 473.9h5.6M315.0 474.1V489.7m-2.8 0h5.6M312.2 474.1h5.6M320.5 474.4V490.0m-2.8 0h5.6M317.7 474.4h5.6M326.0 474.6V490.2m-2.8 0h5.6M323.2 474.6h5.6M331.5 474.9V490.5m-2.8 0h5.6M328.7 474.9h5.6M337.0 475.1V490.7m-2.8 0h5.6M334.2 475.1h5.6M342.5 475.4V491.0m-2.8 0h5.6M339.7 475.4h5.6M348.0 475.7V491.2m-2.8 0h5.6M345.2 475.7h5.6M353.5 475.9V491.5m-2.8 0h5.6M350.7 475.9h5.6M358.9 476.2V491.8m-2.8 0h5.6M356.1 476.2h5.6M364.4 476.4V492.0m-2.8 0h5.6M361.6 476.4h5.6M369.9 476.7V492.3m-2.8 0h5.6M367.1 476.7h5.6M375.4 477.0V492.6m-2.8 0h5.6M372.6 477.0h5.6M380.9 477.2V492.8m-2.8 0h5.6M378.1 477.2h5.6M386.4 477.5V493.1m-2.8 0h5.6M383.6 477.5h5.6M391.9 477.8V493.4m-2.8 0h5.6M389.1 477.8h5.6M397.4 478.1V493.7m-2.8 0h5.6M394.6 478.1h5.6M402.9 478.3V493.9m-2.8 0h5.6M400.1 478.3h5.6M408.4 478.6V494.2m-2.8 0h5.6M405.6 478.6h5.6M413.8 478.9V494.5m-2.8 0h5.6M411.0 478.9h5.6M419.3 479.2V494.8m-2.8 0h5.6M416.5 479.2h5.6M424.8 479.5V495.1m-2.8 0h5.6M422.0 479.5h5.6M430.3 479.8V495.4m-2.8 0h5.6M427.5 479.8h5.6M435.8 480.1V495.7m-2.8 0h5.6M433.0 480.1h5.6M441.3 480.4V496.0m-2.8 0h5.6M438.5 480.4h5.6M446.8 480.7V496.3m-2.8 0h5.6M444.0 480.7h5.6M452.3 481.1V496.6m-2.8 0h5.6M449.5 481.1h5.6M457.8 481.4V497.0m-2.8 0h5.6M455.0 481.4h5.6M463.2 481.7V497.3m-2.8 0h5.6M460.4 481.7h5.6M468.7 482.0V497.6m-2.8 0h5.6M465.9 482.0h5.6M474.2 482.4V498.0m-2.8 0h5.6M471.4 482.4h5.6M479.7 482.7V498.3m-2.8 0h5.6M476.9 482.7h5.6M485.2 483.0V498.6m-2.8 0h5.6M482.4 483.0h5.6M490.7 483.4V498.9m-2.8 0h5.6M487.9 483.4h5.6M496.2 483.7V499.3m-2.8 0h5.6M493.4 483.7h5.6M501.7 484.0V499.6m-2.8 0h5.6M498.9 484.0h5.6M507.2 484.4V500.0m-2.8 0h5.6M504.4 484.4h5.6M512.6 484.7V500.3m-2.8 0h5.6M509.8 484.7h5.6M518.1 485.0V500.6m-2.8 0h5.6M515.3 485.0h5.6M523.6 485.4V501.0m-2.8 0h5.6M520.8 485.4h5.6M529.1 485.7V501.3m-2.8 0h5.6M526.3 485.7h5.6M534.6 486.1V501.7m-2.8 0h5.6M531.8 486.1h5.6M540.1 486.4V502.0m-2.8 0h5.6M537.3 486.4h5.6M545.6 486.7V502.3m-2.8 0h5.6M542.8 486.7h5.6M551.1 487.1V502.7m-2.8 0h5.6M548.3 487.1h5.6M556.6 487.4V503.0m-2.8 0h5.6M553.8 487.4h5.6M562.0 487.8V503.3m-2.8 0h5.6M559.2 487.8h5.6M567.5 488.1V503.7m-2.8 0h5.6M564.7 488.1h5.6M573.0 488.4V504.0m-2.8 0h5.6M570.2 488.4h5.6M578.5 488.8V504.4m-2.8 0h5.6M575.7 488.8h5.6M584.0 489.1V504.7m-2.8 0h5.6M581.2 489.1h5.6M589.5 489.4V505.0m-2.8 0h5.6M586.7 489.4h5.6M595.0 489.8V505.4m-2.8 0h5.6M592.2 489.8h5.6M600.5 490.1V505.7m-2.8 0h5.6M597.7 490.1h5.6M606.0 490.4V506.0m-2.8 0h5.6M603.2 490.4h5.6M611.4 490.8V506.4m-2.8 0h5.6M608.6 490.8h5.6M616.9 491.1V506.7m-2.8 0h5.6M614.1 491.1h5.6M622.4 491.4V507.0m-2.8 0h5.6M619.6 491.4h5.6M627.9 491.8V507.3m-2.8 0h5.6M625.1 491.8h5.6M633.4 492.1V507.7m-2.8 0h5.6M630.6 492.1h5.6" stroke="#e06060" stroke-width="1.15" fill="none"/>
<path d="M90.0 396.5V415.5m-2.8 0h5.6M87.2 396.5h5.6M95.5 405.3V424.3m-2.8 0h5.6M92.7 405.3h5.6M101.0 411.2V430.3m-2.8 0h5.6M98.2 411.2h5.6M106.5 416.0V435.0m-2.8 0h5.6M103.7 416.0h5.6M111.9 420.4V439.5m-2.8 0h5.6M109.1 420.4h5.6M117.4 424.2V443.2m-2.8 0h5.6M114.6 424.2h5.6M122.9 427.2V446.2m-2.8 0h5.6M120.1 427.2h5.6M128.4 429.5V448.6m-2.8 0h5.6M125.6 429.5h5.6M133.9 431.3V450.4m-2.8 0h5.6M131.1 431.3h5.6M139.4 432.7V451.8m-2.8 0h5.6M136.6 432.7h5.6M144.9 434.0V453.0m-2.8 0h5.6M142.1 434.0h5.6M150.4 435.1V454.1m-2.8 0h5.6M147.6 435.1h5.6M155.9 436.1V455.2m-2.8 0h5.6M153.1 436.1h5.6M161.3 437.1V456.1m-2.8 0h5.6M158.5 437.1h5.6M166.8 438.0V457.0m-2.8 0h5.6M164.0 438.0h5.6M172.3 438.8V457.9m-2.8 0h5.6M169.5 438.8h5.6M177.8 439.6V458.6m-2.8 0h5.6M175.0 439.6h5.6M183.3 440.4V459.4m-2.8 0h5.6M180.5 440.4h5.6M188.8 441.1V460.2m-2.8 0h5.6M186.0 441.1h5.6M194.3 441.9V461.0m-2.8 0h5.6M191.5 441.9h5.6M199.8 442.7V461.8m-2.8 0h5.6M197.0 442.7h5.6M205.3 443.6V462.6m-2.8 0h5.6M202.5 443.6h5.6M210.7 444.5V463.6m-2.8 0h5.6M207.9 444.5h5.6M216.2 445.5V464.5m-2.8 0h5.6M213.4 445.5h5.6M221.7 446.5V465.5m-2.8 0h5.6M218.9 446.5h5.6M227.2 447.4V466.5m-2.8 0h5.6M224.4 447.4h5.6M232.7 448.4V467.5m-2.8 0h5.6M229.9 448.4h5.6M238.2 449.4V468.4m-2.8 0h5.6M235.4 449.4h5.6M243.7 450.3V469.4m-2.8 0h5.6M240.9 450.3h5.6M249.2 451.3V470.3m-2.8 0h5.6M246.4 451.3h5.6M254.7 452.2V471.2m-2.8 0h5.6M251.9 452.2h5.6M260.1 453.0V472.1m-2.8 0h5.6M257.3 453.0h5.6M265.6 453.9V472.9m-2.8 0h5.6M262.8 453.9h5.6M271.1 454.6V473.7m-2.8 0h5.6M268.3 454.6h5.6M276.6 455.4V474.4m-2.8 0h5.6M273.8 455.4h5.6M282.1 456.1V475.2m-2.8 0h5.6M279.3 456.1h5.6M287.6 456.8V475.8m-2.8 0h5.6M284.8 456.8h5.6M293.1 457.4V476.5m-2.8 0h5.6M290.3 457.4h5.6M298.6 458.0V477.1m-2.8 0h5.6M295.8 458.0h5.6M304.1 458.6V477.7m-2.8 0h5.6M301.3 458.6h5.6M309.5 459.2V478.2m-2.8 0h5.6M306.7 459.2h5.6M315.0 459.7V478.8m-2.8 0h5.6M312.2 459.7h5.6M320.5 460.2V479.3m-2.8 0h5.6M317.7 460.2h5.6M326.0 460.8V479.8m-2.8 0h5.6M323.2 460.8h5.6M331.5 461.2V480.3m-2.8 0h5.6M328.7 461.2h5.6M337.0 461.7V480.8m-2.8 0h5.6M334.2 461.7h5.6M342.5 462.2V481.3m-2.8 0h5.6M339.7 462.2h5.6M348.0 462.7V481.7m-2.8 0h5.6M345.2 462.7h5.6M353.5 463.2V482.2m-2.8 0h5.6M350.7 463.2h5.6M358.9 463.6V482.7m-2.8 0h5.6M356.1 463.6h5.6M364.4 464.1V483.1m-2.8 0h5.6M361.6 464.1h5.6M369.9 464.5V483.6m-2.8 0h5.6M367.1 464.5h5.6M375.4 465.0V484.0m-2.8 0h5.6M372.6 465.0h5.6M380.9 465.4V484.5m-2.8 0h5.6M378.1 465.4h5.6M386.4 465.9V484.9m-2.8 0h5.6M383.6 465.9h5.6M391.9 466.3V485.4m-2.8 0h5.6M389.1 466.3h5.6M397.4 466.8V485.8m-2.8 0h5.6M394.6 466.8h5.6M402.9 467.2V486.3m-2.8 0h5.6M400.1 467.2h5.6M408.4 467.7V486.8m-2.8 0h5.6M405.6 467.7h5.6M413.8 468.2V487.2m-2.8 0h5.6M411.0 468.2h5.6M419.3 468.6V487.7m-2.8 0h5.6M416.5 468.6h5.6M424.8 469.1V488.1m-2.8 0h5.6M422.0 469.1h5.6M430.3 469.5V488.6m-2.8 0h5.6M427.5 469.5h5.6M435.8 469.9V489.0m-2.8 0h5.6M433.0 469.9h5.6M441.3 470.4V489.4m-2.8 0h5.6M438.5 470.4h5.6M446.8 470.8V489.9m-2.8 0h5.6M444.0 470.8h5.6M452.3 471.3V490.3m-2.8 0h5.6M449.5 471.3h5.6M457.8 471.7V490.7m-2.8 0h5.6M455.0 471.7h5.6M463.2 472.1V491.2m-2.8 0h5.6M460.4 472.1h5.6M468.7 472.6V491.6m-2.8 0h5.6M465.9 472.6h5.6M474.2 473.0V492.0m-2.8 0h5.6M471.4 473.0h5.6M479.7 473.4V492.5m-2.8 0h5.6M476.9 473.4h5.6M485.2 473.8V492.9m-2.8 0h5.6M482.4 473.8h5.6M490.7 474.2V493.3m-2.8 0h5.6M487.9 474.2h5.6M496.2 474.7V493.7m-2.8 0h5.6M493.4 474.7h5.6M501.7 475.1V494.1m-2.8 0h5.6M498.9 475.1h5.6M507.2 475.5V494.5m-2.8 0h5.6M504.4 475.5h5.6M512.6 475.9V494.9m-2.8 0h5.6M509.8 475.9h5.6M518.1 476.3V495.3m-2.8 0h5.6M515.3 476.3h5.6M523.6 476.7V495.8m-2.8 0h5.6M520.8 476.7h5.6M529.1 477.1V496.2m-2.8 0h5.6M526.3 477.1h5.6M534.6 477.5V496.6m-2.8 0h5.6M531.8 477.5h5.6M540.1 477.9V496.9m-2.8 0h5.6M537.3 477.9h5.6M545.6 478.3V497.3m-2.8 0h5.6M542.8 478.3h5.6M551.1 478.7V497.7m-2.8 0h5.6M548.3 478.7h5.6M556.6 479.1V498.1m-2.8 0h5.6M553.8 479.1h5.6M562.0 479.5V498.5m-2.8 0h5.6M559.2 479.5h5.6M567.5 479.8V498.9m-2.8 0h5.6M564.7 479.8h5.6M573.0 480.2V499.3m-2.8 0h5.6M570.2 480.2h5.6M578.5 480.6V499.7m-2.8 0h5.6M575.7 480.6h5.6M584.0 481.0V500.0m-2.8 0h5.6M581.2 481.0h5.6M589.5 481.4V500.4m-2.8 0h5.6M586.7 481.4h5.6M595.0 481.7V500.8m-2.8 0h5.6M592.2 481.7h5.6M600.5 482.1V501.2m-2.8 0h5.6M597.7 482.1h5.6M606.0 482.5V501.5m-2.8 0h5.6M603.2 482.5h5.6M611.4 482.8V501.9m-2.8 0h5.6M608.6 482.8h5.6M616.9 483.2V502.3m-2.8 0h5.6M614.1 483.2h5.6M622.4 483.6V502.6m-2.8 0h5.6M619.6 483.6h5.6M627.9 483.9V503.0m-2.8 0h5.6M625.1 483.9h5.6M633.4 484.3V503.3m-2.8 0h5.6M630.6 484.3h5.6" stroke="#3a70b0" stroke-width="1.2" fill="none"/>
<rect x="85.16" y="402.04" width="6.00" height="6.00" fill="#c01014"/>
<polyline points="88.2,405.0 90.0,408.8 91.8,411.7 93.6,414.2 95.5,416.2 97.3,418.0 99.1,419.6 101.0,421.1 102.8,422.4 104.6,423.6 106.5,424.7 108.3,425.8 110.1,426.9 111.9,427.9 113.8,428.8 115.6,429.7 117.4,430.6 119.3,431.4 121.1,432.1 122.9,432.8 124.8,433.5 126.6,434.2 128.4,434.8 130.2,435.4 132.1,435.9 133.9,436.5 135.7,437.0 137.6,437.6 139.4,438.1 141.2,438.6 143.0,439.1 144.9,439.5 146.7,440.0 148.5,440.4 150.4,440.8 152.2,441.2 154.0,441.5 155.9,441.9 157.7,442.2 159.5,442.5 161.3,442.7 163.2,443.0 165.0,443.2 166.8,443.4 168.7,443.6 170.5,443.7 172.3,443.9 174.2,444.0 176.0,444.2 177.8,444.3 179.6,444.5 181.5,444.6 183.3,444.7 185.1,444.9 187.0,445.0 188.8,445.2 190.6,445.3 192.5,445.5 194.3,445.7 196.1,445.8 197.9,446.0 199.8,446.2 201.6,446.4 203.4,446.6 205.3,446.8 207.1,447.0 208.9,447.3 210.7,447.5 212.6,447.8 214.4,448.0 216.2,448.3 218.1,448.5 219.9,448.8 221.7,449.1 223.6,449.3 225.4,449.6 227.2,449.9 229.0,450.2 230.9,450.5 232.7,450.7 234.5,451.0 236.4,451.3 238.2,451.6 240.0,451.8 241.9,452.1 243.7,452.4 245.5,452.7 247.3,452.9 249.2,453.2 251.0,453.4 252.8,453.7 254.7,454.0 256.5,454.2 258.3,454.5 260.1,454.7 262.0,455.0 263.8,455.2 265.6,455.4 267.5,455.7 269.3,455.9 271.1,456.1 273.0,456.3 274.8,456.5 276.6,456.7 278.4,456.9 280.3,457.2 282.1,457.3 283.9,457.5 285.8,457.7 287.6,457.9 289.4,458.1 291.3,458.3 293.1,458.4 294.9,458.6 296.7,458.8 298.6,458.9 300.4,459.1 302.2,459.3 304.1,459.4 305.9,459.6 307.7,459.7 309.5,459.9 311.4,460.0 313.2,460.2 315.0,460.3 316.9,460.5 318.7,460.6 320.5,460.8 322.4,460.9 324.2,461.1 326.0,461.2 327.8,461.4 329.7,461.5 331.5,461.6 333.3,461.8 335.2,461.9 337.0,462.0 338.8,462.2 340.7,462.3 342.5,462.4 344.3,462.6 346.1,462.7 348.0,462.8 349.8,463.0 351.6,463.1 353.5,463.2 355.3,463.3 357.1,463.5 358.9,463.6 360.8,463.7 362.6,463.8 364.4,464.0 366.3,464.1 368.1,464.2 369.9,464.3 371.8,464.4 373.6,464.6 375.4,464.7 377.2,464.8 379.1,464.9 380.9,465.0 382.7,465.2 384.6,465.3 386.4,465.4 388.2,465.5 390.1,465.6 391.9,465.7 393.7,465.8 395.5,466.0 397.4,466.1 399.2,466.2 401.0,466.3 402.9,466.4 404.7,466.5 406.5,466.6 408.4,466.8 410.2,466.9 412.0,467.0 413.8,467.1 415.7,467.2 417.5,467.3 419.3,467.4 421.2,467.5 423.0,467.6 424.8,467.7 426.6,467.8 428.5,467.9 430.3,468.0 432.1,468.2 434.0,468.3 435.8,468.4 437.6,468.5 439.5,468.6 441.3,468.7 443.1,468.8 444.9,468.9 446.8,469.0 448.6,469.1 450.4,469.2 452.3,469.3 454.1,469.4 455.9,469.5 457.8,469.6 459.6,469.7 461.4,469.8 463.2,469.9 465.1,470.0 466.9,470.1 468.7,470.2 470.6,470.3 472.4,470.4 474.2,470.5 476.0,470.6 477.9,470.8 479.7,470.9 481.5,471.0 483.4,471.1 485.2,471.2 487.0,471.3 488.9,471.4 490.7,471.5 492.5,471.6 494.3,471.7 496.2,471.8 498.0,471.9 499.8,472.0 501.7,472.1 503.5,472.2 505.3,472.4 507.2,472.5 509.0,472.6 510.8,472.7 512.6,472.8 514.5,472.9 516.3,473.0 518.1,473.1 520.0,473.2 521.8,473.3 523.6,473.4 525.4,473.5 527.3,473.6 529.1,473.7 530.9,473.8 532.8,474.0 534.6,474.1 536.4,474.2 538.3,474.3 540.1,474.4 541.9,474.5 543.7,474.6 545.6,474.7 547.4,474.8 549.2,474.9 551.1,475.0 552.9,475.1 554.7,475.2 556.6,475.3 558.4,475.4 560.2,475.5 562.0,475.6 563.9,475.7 565.7,475.9 567.5,476.0 569.4,476.1 571.2,476.2 573.0,476.3 574.9,476.4 576.7,476.5 578.5,476.6 580.3,476.7 582.2,476.8 584.0,476.9 585.8,477.0 587.7,477.1 589.5,477.2 591.3,477.3 593.1,477.4 595.0,477.5 596.8,477.6 598.6,477.7 600.5,477.8 602.3,477.9 604.1,478.0 606.0,478.1 607.8,478.3 609.6,478.4 611.4,478.5 613.3,478.6 615.1,478.7 616.9,478.8 618.8,478.9 620.6,479.0 622.4,479.1 624.3,479.2 626.1,479.3 627.9,479.4 629.7,479.5 631.6,479.6 633.4,479.7" fill="none" stroke="#c01014" stroke-width="6.2" stroke-linejoin="round"/>
<rect x="85.16" y="422.40" width="6.00" height="6.00" fill="#ee2e32"/>
<polyline points="88.2,425.4 90.0,430.3 91.8,434.2 93.6,437.5 95.5,440.2 97.3,442.6 99.1,444.7 101.0,446.6 102.8,448.3 104.6,450.0 106.5,451.6 108.3,453.2 110.1,454.7 111.9,456.2 113.8,457.5 115.6,458.8 117.4,459.9 119.3,461.0 121.1,462.0 122.9,462.8 124.8,463.7 126.6,464.4 128.4,465.1 130.2,465.7 132.1,466.2 133.9,466.7 135.7,467.1 137.6,467.6 139.4,468.0 141.2,468.3 143.0,468.7 144.9,469.0 146.7,469.3 148.5,469.7 150.4,470.0 152.2,470.3 154.0,470.6 155.9,470.9 157.7,471.1 159.5,471.4 161.3,471.7 163.2,472.0 165.0,472.3 166.8,472.6 168.7,472.9 170.5,473.2 172.3,473.5 174.2,473.8 176.0,474.1 177.8,474.4 179.6,474.6 181.5,474.9 183.3,475.2 185.1,475.4 187.0,475.6 188.8,475.8 190.6,476.1 192.5,476.3 194.3,476.4 196.1,476.6 197.9,476.8 199.8,476.9 201.6,477.1 203.4,477.2 205.3,477.3 207.1,477.4 208.9,477.6 210.7,477.7 212.6,477.8 214.4,477.9 216.2,478.0 218.1,478.0 219.9,478.1 221.7,478.2 223.6,478.3 225.4,478.4 227.2,478.5 229.0,478.5 230.9,478.6 232.7,478.7 234.5,478.7 236.4,478.8 238.2,478.9 240.0,479.0 241.9,479.0 243.7,479.1 245.5,479.2 247.3,479.2 249.2,479.3 251.0,479.3 252.8,479.4 254.7,479.5 256.5,479.5 258.3,479.6 260.1,479.7 262.0,479.7 263.8,479.8 265.6,479.9 267.5,479.9 269.3,480.0 271.1,480.1 273.0,480.2 274.8,480.2 276.6,480.3 278.4,480.4 280.3,480.4 282.1,480.5 283.9,480.6 285.8,480.7 287.6,480.7 289.4,480.8 291.3,480.9 293.1,481.0 294.9,481.1 296.7,481.1 298.6,481.2 300.4,481.3 302.2,481.4 304.1,481.5 305.9,481.5 307.7,481.6 309.5,481.7 311.4,481.8 313.2,481.9 315.0,481.9 316.9,482.0 318.7,482.1 320.5,482.2 322.4,482.3 324.2,482.4 326.0,482.4 327.8,482.5 329.7,482.6 331.5,482.7 333.3,482.8 335.2,482.9 337.0,482.9 338.8,483.0 340.7,483.1 342.5,483.2 344.3,483.3 346.1,483.4 348.0,483.5 349.8,483.5 351.6,483.6 353.5,483.7 355.3,483.8 357.1,483.9 358.9,484.0 360.8,484.1 362.6,484.2 364.4,484.2 366.3,484.3 368.1,484.4 369.9,484.5 371.8,484.6 373.6,484.7 375.4,484.8 377.2,484.9 379.1,485.0 380.9,485.0 382.7,485.1 384.6,485.2 386.4,485.3 388.2,485.4 390.1,485.5 391.9,485.6 393.7,485.7 395.5,485.8 397.4,485.9 399.2,486.0 401.0,486.0 402.9,486.1 404.7,486.2 406.5,486.3 408.4,486.4 410.2,486.5 412.0,486.6 413.8,486.7 415.7,486.8 417.5,486.9 419.3,487.0 421.2,487.1 423.0,487.2 424.8,487.3 426.6,487.4 428.5,487.5 430.3,487.6 432.1,487.7 434.0,487.8 435.8,487.9 437.6,488.0 439.5,488.1 441.3,488.2 443.1,488.3 444.9,488.4 446.8,488.5 448.6,488.6 450.4,488.7 452.3,488.9 454.1,489.0 455.9,489.1 457.8,489.2 459.6,489.3 461.4,489.4 463.2,489.5 465.1,489.6 466.9,489.7 468.7,489.8 470.6,489.9 472.4,490.0 474.2,490.2 476.0,490.3 477.9,490.4 479.7,490.5 481.5,490.6 483.4,490.7 485.2,490.8 487.0,490.9 488.9,491.0 490.7,491.2 492.5,491.3 494.3,491.4 496.2,491.5 498.0,491.6 499.8,491.7 501.7,491.8 503.5,491.9 505.3,492.1 507.2,492.2 509.0,492.3 510.8,492.4 512.6,492.5 514.5,492.6 516.3,492.7 518.1,492.8 520.0,493.0 521.8,493.1 523.6,493.2 525.4,493.3 527.3,493.4 529.1,493.5 530.9,493.6 532.8,493.7 534.6,493.9 536.4,494.0 538.3,494.1 540.1,494.2 541.9,494.3 543.7,494.4 545.6,494.5 547.4,494.7 549.2,494.8 551.1,494.9 552.9,495.0 554.7,495.1 556.6,495.2 558.4,495.3 560.2,495.4 562.0,495.6 563.9,495.7 565.7,495.8 567.5,495.9 569.4,496.0 571.2,496.1 573.0,496.2 574.9,496.3 576.7,496.5 578.5,496.6 580.3,496.7 582.2,496.8 584.0,496.9 585.8,497.0 587.7,497.1 589.5,497.2 591.3,497.3 593.1,497.5 595.0,497.6 596.8,497.7 598.6,497.8 600.5,497.9 602.3,498.0 604.1,498.1 606.0,498.2 607.8,498.3 609.6,498.5 611.4,498.6 613.3,498.7 615.1,498.8 616.9,498.9 618.8,499.0 620.6,499.1 622.4,499.2 624.3,499.3 626.1,499.4 627.9,499.5 629.7,499.7 631.6,499.8 633.4,499.9" fill="none" stroke="#ee2e32" stroke-width="6.2" stroke-linejoin="round"/>
<rect x="85.16" y="399.01" width="6.00" height="6.00" fill="#0a52a2"/>
<polyline points="88.2,402.0 90.0,406.0 91.8,409.4 93.6,412.3 95.5,414.8 97.3,417.0 99.1,419.0 101.0,420.8 102.8,422.4 104.6,423.9 106.5,425.5 108.3,427.0 110.1,428.5 111.9,429.9 113.8,431.3 115.6,432.5 117.4,433.7 119.3,434.8 121.1,435.8 122.9,436.7 124.8,437.5 126.6,438.3 128.4,439.0 130.2,439.7 132.1,440.3 133.9,440.8 135.7,441.3 137.6,441.8 139.4,442.3 141.2,442.7 143.0,443.1 144.9,443.5 146.7,443.9 148.5,444.2 150.4,444.6 152.2,444.9 154.0,445.3 155.9,445.6 157.7,446.0 159.5,446.3 161.3,446.6 163.2,446.9 165.0,447.2 166.8,447.5 168.7,447.8 170.5,448.1 172.3,448.3 174.2,448.6 176.0,448.9 177.8,449.1 179.6,449.4 181.5,449.6 183.3,449.9 185.1,450.1 187.0,450.4 188.8,450.6 190.6,450.9 192.5,451.2 194.3,451.4 196.1,451.7 197.9,452.0 199.8,452.2 201.6,452.5 203.4,452.8 205.3,453.1 207.1,453.4 208.9,453.7 210.7,454.0 212.6,454.4 214.4,454.7 216.2,455.0 218.1,455.3 219.9,455.7 221.7,456.0 223.6,456.3 225.4,456.6 227.2,457.0 229.0,457.3 230.9,457.6 232.7,458.0 234.5,458.3 236.4,458.6 238.2,458.9 240.0,459.2 241.9,459.6 243.7,459.9 245.5,460.2 247.3,460.5 249.2,460.8 251.0,461.1 252.8,461.4 254.7,461.7 256.5,462.0 258.3,462.3 260.1,462.6 262.0,462.8 263.8,463.1 265.6,463.4 267.5,463.6 269.3,463.9 271.1,464.2 273.0,464.4 274.8,464.7 276.6,464.9 278.4,465.2 280.3,465.4 282.1,465.6 283.9,465.9 285.8,466.1 287.6,466.3 289.4,466.5 291.3,466.7 293.1,467.0 294.9,467.2 296.7,467.4 298.6,467.6 300.4,467.8 302.2,468.0 304.1,468.1 305.9,468.3 307.7,468.5 309.5,468.7 311.4,468.9 313.2,469.1 315.0,469.2 316.9,469.4 318.7,469.6 320.5,469.8 322.4,469.9 324.2,470.1 326.0,470.3 327.8,470.4 329.7,470.6 331.5,470.8 333.3,470.9 335.2,471.1 337.0,471.3 338.8,471.4 340.7,471.6 342.5,471.7 344.3,471.9 346.1,472.1 348.0,472.2 349.8,472.4 351.6,472.5 353.5,472.7 355.3,472.8 357.1,473.0 358.9,473.1 360.8,473.3 362.6,473.4 364.4,473.6 366.3,473.7 368.1,473.9 369.9,474.1 371.8,474.2 373.6,474.4 375.4,474.5 377.2,474.7 379.1,474.8 380.9,475.0 382.7,475.1 384.6,475.3 386.4,475.4 388.2,475.6 390.1,475.7 391.9,475.9 393.7,476.0 395.5,476.2 397.4,476.3 399.2,476.5 401.0,476.6 402.9,476.8 404.7,476.9 406.5,477.1 408.4,477.2 410.2,477.4 412.0,477.5 413.8,477.7 415.7,477.8 417.5,478.0 419.3,478.1 421.2,478.3 423.0,478.4 424.8,478.6 426.6,478.7 428.5,478.9 430.3,479.0 432.1,479.2 434.0,479.3 435.8,479.5 437.6,479.6 439.5,479.8 441.3,479.9 443.1,480.1 444.9,480.2 446.8,480.3 448.6,480.5 450.4,480.6 452.3,480.8 454.1,480.9 455.9,481.1 457.8,481.2 459.6,481.4 461.4,481.5 463.2,481.6 465.1,481.8 466.9,481.9 468.7,482.1 470.6,482.2 472.4,482.4 474.2,482.5 476.0,482.6 477.9,482.8 479.7,482.9 481.5,483.1 483.4,483.2 485.2,483.3 487.0,483.5 488.9,483.6 490.7,483.8 492.5,483.9 494.3,484.0 496.2,484.2 498.0,484.3 499.8,484.5 501.7,484.6 503.5,484.7 505.3,484.9 507.2,485.0 509.0,485.1 510.8,485.3 512.6,485.4 514.5,485.6 516.3,485.7 518.1,485.8 520.0,486.0 521.8,486.1 523.6,486.2 525.4,486.4 527.3,486.5 529.1,486.6 530.9,486.8 532.8,486.9 534.6,487.0 536.4,487.2 538.3,487.3 540.1,487.4 541.9,487.6 543.7,487.7 545.6,487.8 547.4,487.9 549.2,488.1 551.1,488.2 552.9,488.3 554.7,488.5 556.6,488.6 558.4,488.7 560.2,488.9 562.0,489.0 563.9,489.1 565.7,489.2 567.5,489.4 569.4,489.5 571.2,489.6 573.0,489.8 574.9,489.9 576.7,490.0 578.5,490.1 580.3,490.3 582.2,490.4 584.0,490.5 585.8,490.6 587.7,490.8 589.5,490.9 591.3,491.0 593.1,491.1 595.0,491.3 596.8,491.4 598.6,491.5 600.5,491.6 602.3,491.8 604.1,491.9 606.0,492.0 607.8,492.1 609.6,492.2 611.4,492.4 613.3,492.5 615.1,492.6 616.9,492.7 618.8,492.8 620.6,493.0 622.4,493.1 624.3,493.2 626.1,493.3 627.9,493.5 629.7,493.6 631.6,493.7 633.4,493.8" fill="none" stroke="#0a52a2" stroke-width="6.6" stroke-linejoin="round"/>
<path d="M90.0 407.4V427.3m-2.8 0h5.6M87.2 407.4h5.6M95.5 418.3V438.2m-2.8 0h5.6M92.7 418.3h5.6M101.0 425.6V445.5m-2.8 0h5.6M98.2 425.6h5.6M106.5 431.4V451.3m-2.8 0h5.6M103.7 431.4h5.6M111.9 436.7V456.6m-2.8 0h5.6M109.1 436.7h5.6M117.4 441.1V461.0m-2.8 0h5.6M114.6 441.1h5.6M122.9 444.7V464.6m-2.8 0h5.6M120.1 444.7h5.6M128.4 447.6V467.5m-2.8 0h5.6M125.6 447.6h5.6M133.9 449.8V469.7m-2.8 0h5.6M131.1 449.8h5.6M139.4 451.6V471.5m-2.8 0h5.6M136.6 451.6h5.6M144.9 453.2V473.1m-2.8 0h5.6M142.1 453.2h5.6M150.4 454.6V474.5m-2.8 0h5.6M147.6 454.6h5.6M155.9 455.9V475.8m-2.8 0h5.6M153.1 455.9h5.6M161.3 457.0V476.9m-2.8 0h5.6M158.5 457.0h5.6M166.8 458.0V477.9m-2.8 0h5.6M164.0 458.0h5.6M172.3 458.9V478.8m-2.8 0h5.6M169.5 458.9h5.6M177.8 459.7V479.6m-2.8 0h5.6M175.0 459.7h5.6M183.3 460.5V480.4m-2.8 0h5.6M180.5 460.5h5.6M188.8 461.2V481.2m-2.8 0h5.6M186.0 461.2h5.6M194.3 462.0V482.0m-2.8 0h5.6M191.5 462.0h5.6M199.8 462.9V482.8m-2.8 0h5.6M197.0 462.9h5.6M205.3 463.7V483.6m-2.8 0h5.6M202.5 463.7h5.6M210.7 464.7V484.6m-2.8 0h5.6M207.9 464.7h5.6M216.2 465.6V485.5m-2.8 0h5.6M213.4 465.6h5.6M221.7 466.6V486.5m-2.8 0h5.6M218.9 466.6h5.6M227.2 467.6V487.5m-2.8 0h5.6M224.4 467.6h5.6M232.7 468.5V488.5m-2.8 0h5.6M229.9 468.5h5.6M238.2 469.5V489.4m-2.8 0h5.6M235.4 469.5h5.6M243.7 470.4V490.3m-2.8 0h5.6M240.9 470.4h5.6M249.2 471.3V491.2m-2.8 0h5.6M246.4 471.3h5.6M254.7 472.1V492.0m-2.8 0h5.6M251.9 472.1h5.6M260.1 472.9V492.8m-2.8 0h5.6M257.3 472.9h5.6M265.6 473.6V493.5m-2.8 0h5.6M262.8 473.6h5.6M271.1 474.3V494.2m-2.8 0h5.6M268.3 474.3h5.6M276.6 475.0V494.9m-2.8 0h5.6M273.8 475.0h5.6M282.1 475.6V495.5m-2.8 0h5.6M279.3 475.6h5.6M287.6 476.1V496.0m-2.8 0h5.6M284.8 476.1h5.6M293.1 476.6V496.5m-2.8 0h5.6M290.3 476.6h5.6M298.6 477.1V497.0m-2.8 0h5.6M295.8 477.1h5.6M304.1 477.5V497.4m-2.8 0h5.6M301.3 477.5h5.6M309.5 477.9V497.8m-2.8 0h5.6M306.7 477.9h5.6M315.0 478.3V498.2m-2.8 0h5.6M312.2 478.3h5.6M320.5 478.6V498.5m-2.8 0h5.6M317.7 478.6h5.6M326.0 479.0V498.9m-2.8 0h5.6M323.2 479.0h5.6M331.5 479.3V499.2m-2.8 0h5.6M328.7 479.3h5.6M337.0 479.6V499.5m-2.8 0h5.6M334.2 479.6h5.6M342.5 479.9V499.9m-2.8 0h5.6M339.7 479.9h5.6M348.0 480.2V500.2m-2.8 0h5.6M345.2 480.2h5.6M353.5 480.5V500.5m-2.8 0h5.6M350.7 480.5h5.6M358.9 480.8V500.8m-2.8 0h5.6M356.1 480.8h5.6M364.4 481.1V501.1m-2.8 0h5.6M361.6 481.1h5.6M369.9 481.4V501.4m-2.8 0h5.6M367.1 481.4h5.6M375.4 481.7V501.7m-2.8 0h5.6M372.6 481.7h5.6M380.9 482.0V502.0m-2.8 0h5.6M378.1 482.0h5.6M386.4 482.4V502.3m-2.8 0h5.6M383.6 482.4h5.6M391.9 482.7V502.6m-2.8 0h5.6M389.1 482.7h5.6M397.4 483.0V502.9m-2.8 0h5.6M394.6 483.0h5.6M402.9 483.3V503.2m-2.8 0h5.6M400.1 483.3h5.6M408.4 483.6V503.6m-2.8 0h5.6M405.6 483.6h5.6M413.8 484.0V503.9m-2.8 0h5.6M411.0 484.0h5.6M419.3 484.3V504.2m-2.8 0h5.6M416.5 484.3h5.6M424.8 484.6V504.5m-2.8 0h5.6M422.0 484.6h5.6M430.3 484.9V504.9m-2.8 0h5.6M427.5 484.9h5.6M435.8 485.3V505.2m-2.8 0h5.6M433.0 485.3h5.6M441.3 485.6V505.5m-2.8 0h5.6M438.5 485.6h5.6M446.8 485.9V505.8m-2.8 0h5.6M444.0 485.9h5.6M452.3 486.3V506.2m-2.8 0h5.6M449.5 486.3h5.6M457.8 486.6V506.5m-2.8 0h5.6M455.0 486.6h5.6M463.2 486.9V506.8m-2.8 0h5.6M460.4 486.9h5.6M468.7 487.2V507.2m-2.8 0h5.6M465.9 487.2h5.6M474.2 487.6V507.5m-2.8 0h5.6M471.4 487.6h5.6M479.7 487.9V507.8m-2.8 0h5.6M476.9 487.9h5.6M485.2 488.2V508.1m-2.8 0h5.6M482.4 488.2h5.6M490.7 488.5V508.4m-2.8 0h5.6M487.9 488.5h5.6M496.2 488.8V508.8m-2.8 0h5.6M493.4 488.8h5.6M501.7 489.2V509.1m-2.8 0h5.6M498.9 489.2h5.6M507.2 489.5V509.4m-2.8 0h5.6M504.4 489.5h5.6M512.6 489.8V509.7m-2.8 0h5.6M509.8 489.8h5.6M518.1 490.1V510.0m-2.8 0h5.6M515.3 490.1h5.6M523.6 490.4V510.3m-2.8 0h5.6M520.8 490.4h5.6M529.1 490.7V510.7m-2.8 0h5.6M526.3 490.7h5.6M534.6 491.0V511.0m-2.8 0h5.6M531.8 491.0h5.6M540.1 491.4V511.3m-2.8 0h5.6M537.3 491.4h5.6M545.6 491.7V511.6m-2.8 0h5.6M542.8 491.7h5.6M551.1 492.0V511.9m-2.8 0h5.6M548.3 492.0h5.6M556.6 492.3V512.2m-2.8 0h5.6M553.8 492.3h5.6M562.0 492.6V512.5m-2.8 0h5.6M559.2 492.6h5.6M567.5 492.9V512.8m-2.8 0h5.6M564.7 492.9h5.6M573.0 493.2V513.1m-2.8 0h5.6M570.2 493.2h5.6M578.5 493.5V513.4m-2.8 0h5.6M575.7 493.5h5.6M584.0 493.8V513.7m-2.8 0h5.6M581.2 493.8h5.6M589.5 494.1V514.0m-2.8 0h5.6M586.7 494.1h5.6M595.0 494.4V514.3m-2.8 0h5.6M592.2 494.4h5.6M600.5 494.7V514.6m-2.8 0h5.6M597.7 494.7h5.6M606.0 495.0V514.9m-2.8 0h5.6M603.2 495.0h5.6M611.4 495.3V515.2m-2.8 0h5.6M608.6 495.3h5.6M616.9 495.5V515.5m-2.8 0h5.6M614.1 495.5h5.6M622.4 495.8V515.8m-2.8 0h5.6M619.6 495.8h5.6M627.9 496.1V516.0m-2.8 0h5.6M625.1 496.1h5.6M633.4 496.4V516.3m-2.8 0h5.6M630.6 496.4h5.6" stroke="#78a8d8" stroke-width="1.25" fill="none"/>
<rect x="85.16" y="409.19" width="6.00" height="6.00" fill="#6ea6e2"/>
<polyline points="88.2,412.2 90.0,417.3 91.8,421.6 93.6,425.1 95.5,428.2 97.3,431.0 99.1,433.4 101.0,435.5 102.8,437.5 104.6,439.4 106.5,441.3 108.3,443.2 110.1,444.9 111.9,446.6 113.8,448.2 115.6,449.7 117.4,451.1 119.3,452.4 121.1,453.6 122.9,454.7 124.8,455.7 126.6,456.6 128.4,457.5 130.2,458.3 132.1,459.0 133.9,459.7 135.7,460.4 137.6,461.0 139.4,461.6 141.2,462.1 143.0,462.7 144.9,463.2 146.7,463.6 148.5,464.1 150.4,464.6 152.2,465.0 154.0,465.4 155.9,465.8 157.7,466.2 159.5,466.6 161.3,467.0 163.2,467.3 165.0,467.7 166.8,468.0 168.7,468.3 170.5,468.6 172.3,468.9 174.2,469.1 176.0,469.4 177.8,469.7 179.6,469.9 181.5,470.2 183.3,470.4 185.1,470.7 187.0,470.9 188.8,471.2 190.6,471.5 192.5,471.7 194.3,472.0 196.1,472.3 197.9,472.5 199.8,472.8 201.6,473.1 203.4,473.4 205.3,473.7 207.1,474.0 208.9,474.3 210.7,474.6 212.6,474.9 214.4,475.3 216.2,475.6 218.1,475.9 219.9,476.2 221.7,476.6 223.6,476.9 225.4,477.2 227.2,477.5 229.0,477.9 230.9,478.2 232.7,478.5 234.5,478.8 236.4,479.1 238.2,479.4 240.0,479.7 241.9,480.0 243.7,480.3 245.5,480.6 247.3,480.9 249.2,481.2 251.0,481.5 252.8,481.8 254.7,482.0 256.5,482.3 258.3,482.6 260.1,482.8 262.0,483.1 263.8,483.3 265.6,483.6 267.5,483.8 269.3,484.0 271.1,484.3 273.0,484.5 274.8,484.7 276.6,484.9 278.4,485.1 280.3,485.3 282.1,485.5 283.9,485.7 285.8,485.9 287.6,486.1 289.4,486.2 291.3,486.4 293.1,486.6 294.9,486.7 296.7,486.9 298.6,487.0 300.4,487.2 302.2,487.3 304.1,487.4 305.9,487.6 307.7,487.7 309.5,487.8 311.4,488.0 313.2,488.1 315.0,488.2 316.9,488.3 318.7,488.5 320.5,488.6 322.4,488.7 324.2,488.8 326.0,488.9 327.8,489.0 329.7,489.2 331.5,489.3 333.3,489.4 335.2,489.5 337.0,489.6 338.8,489.7 340.7,489.8 342.5,489.9 344.3,490.0 346.1,490.1 348.0,490.2 349.8,490.3 351.6,490.4 353.5,490.5 355.3,490.6 357.1,490.7 358.9,490.8 360.8,490.9 362.6,491.0 364.4,491.1 366.3,491.2 368.1,491.3 369.9,491.4 371.8,491.5 373.6,491.6 375.4,491.7 377.2,491.8 379.1,491.9 380.9,492.0 382.7,492.1 384.6,492.2 386.4,492.3 388.2,492.4 390.1,492.5 391.9,492.6 393.7,492.7 395.5,492.8 397.4,492.9 399.2,493.1 401.0,493.2 402.9,493.3 404.7,493.4 406.5,493.5 408.4,493.6 410.2,493.7 412.0,493.8 413.8,493.9 415.7,494.0 417.5,494.1 419.3,494.3 421.2,494.4 423.0,494.5 424.8,494.6 426.6,494.7 428.5,494.8 430.3,494.9 432.1,495.0 434.0,495.1 435.8,495.2 437.6,495.3 439.5,495.5 441.3,495.6 443.1,495.7 444.9,495.8 446.8,495.9 448.6,496.0 450.4,496.1 452.3,496.2 454.1,496.3 455.9,496.4 457.8,496.5 459.6,496.7 461.4,496.8 463.2,496.9 465.1,497.0 466.9,497.1 468.7,497.2 470.6,497.3 472.4,497.4 474.2,497.5 476.0,497.6 477.9,497.7 479.7,497.8 481.5,497.9 483.4,498.1 485.2,498.2 487.0,498.3 488.9,498.4 490.7,498.5 492.5,498.6 494.3,498.7 496.2,498.8 498.0,498.9 499.8,499.0 501.7,499.1 503.5,499.2 505.3,499.3 507.2,499.4 509.0,499.5 510.8,499.6 512.6,499.8 514.5,499.9 516.3,500.0 518.1,500.1 520.0,500.2 521.8,500.3 523.6,500.4 525.4,500.5 527.3,500.6 529.1,500.7 530.9,500.8 532.8,500.9 534.6,501.0 536.4,501.1 538.3,501.2 540.1,501.3 541.9,501.4 543.7,501.5 545.6,501.6 547.4,501.7 549.2,501.8 551.1,501.9 552.9,502.0 554.7,502.1 556.6,502.2 558.4,502.3 560.2,502.4 562.0,502.5 563.9,502.6 565.7,502.7 567.5,502.8 569.4,502.9 571.2,503.0 573.0,503.1 574.9,503.2 576.7,503.3 578.5,503.4 580.3,503.5 582.2,503.6 584.0,503.7 585.8,503.8 587.7,503.9 589.5,504.0 591.3,504.1 593.1,504.2 595.0,504.3 596.8,504.4 598.6,504.5 600.5,504.6 602.3,504.7 604.1,504.8 606.0,504.9 607.8,505.0 609.6,505.1 611.4,505.2 613.3,505.3 615.1,505.4 616.9,505.5 618.8,505.6 620.6,505.7 622.4,505.8 624.3,505.9 626.1,506.0 627.9,506.1 629.7,506.2 631.6,506.3 633.4,506.4" fill="none" stroke="#6ea6e2" stroke-width="6.4" stroke-linejoin="round"/>
<path d="M90.0 428.0V448.5m-2.8 0h5.6M87.2 428.0h5.6M95.5 439.2V460.4m-2.8 0h5.6M92.7 439.2h5.6M101.0 446.4V468.0m-2.8 0h5.6M98.2 446.4h5.6M106.5 451.7V473.9m-2.8 0h5.6M103.7 451.7h5.6M111.9 456.3V478.9m-2.8 0h5.6M109.1 456.3h5.6M117.4 460.1V483.2m-2.8 0h5.6M114.6 460.1h5.6M122.9 463.3V486.7m-2.8 0h5.6M120.1 463.3h5.6M128.4 465.9V489.7m-2.8 0h5.6M125.6 465.9h5.6M133.9 468.1V492.3m-2.8 0h5.6M131.1 468.1h5.6M139.4 470.0V494.4m-2.8 0h5.6M136.6 470.0h5.6M144.9 471.6V496.4m-2.8 0h5.6M142.1 471.6h5.6M150.4 473.1V498.2m-2.8 0h5.6M147.6 473.1h5.6M155.9 474.5V499.8m-2.8 0h5.6M153.1 474.5h5.6M161.3 475.8V501.4m-2.8 0h5.6M158.5 475.8h5.6M166.8 477.1V502.8m-2.8 0h5.6M164.0 477.1h5.6M172.3 478.2V504.2m-2.8 0h5.6M169.5 478.2h5.6M177.8 479.3V505.4m-2.8 0h5.6M175.0 479.3h5.6M183.3 480.3V506.7m-2.8 0h5.6M180.5 480.3h5.6M188.8 481.4V507.9m-2.8 0h5.6M186.0 481.4h5.6M194.3 482.4V509.0m-2.8 0h5.6M191.5 482.4h5.6M199.8 483.4V510.2m-2.8 0h5.6M197.0 483.4h5.6M205.3 484.5V511.4m-2.8 0h5.6M202.5 484.5h5.6M210.7 485.6V512.6m-2.8 0h5.6M207.9 485.6h5.6M216.2 486.7V513.8m-2.8 0h5.6M213.4 486.7h5.6M221.7 487.8V515.0m-2.8 0h5.6M218.9 487.8h5.6M227.2 488.9V516.2m-2.8 0h5.6M224.4 488.9h5.6M232.7 489.9V517.4m-2.8 0h5.6M229.9 489.9h5.6M238.2 491.0V518.5m-2.8 0h5.6M235.4 491.0h5.6M243.7 492.0V519.6m-2.8 0h5.6M240.9 492.0h5.6M249.2 493.0V520.7m-2.8 0h5.6M246.4 493.0h5.6M254.7 494.0V521.8m-2.8 0h5.6M251.9 494.0h5.6M260.1 495.0V522.8m-2.8 0h5.6M257.3 495.0h5.6M265.6 495.9V523.8m-2.8 0h5.6M262.8 495.9h5.6M271.1 496.8V524.7m-2.8 0h5.6M268.3 496.8h5.6M276.6 497.7V525.7m-2.8 0h5.6M273.8 497.7h5.6M282.1 498.6V526.6m-2.8 0h5.6M279.3 498.6h5.6M287.6 499.4V527.5m-2.8 0h5.6M284.8 499.4h5.6M293.1 500.2V528.3m-2.8 0h5.6M290.3 500.2h5.6M298.6 501.0V529.2m-2.8 0h5.6M295.8 501.0h5.6M304.1 501.8V530.0m-2.8 0h5.6M301.3 501.8h5.6M309.5 502.6V530.8m-2.8 0h5.6M306.7 502.6h5.6M315.0 503.4V531.6m-2.8 0h5.6M312.2 503.4h5.6M320.5 504.1V532.4m-2.8 0h5.6M317.7 504.1h5.6M326.0 504.9V533.1m-2.8 0h5.6M323.2 504.9h5.6M331.5 505.6V533.9m-2.8 0h5.6M328.7 505.6h5.6M337.0 506.3V534.6m-2.8 0h5.6M334.2 506.3h5.6M342.5 507.0V535.3m-2.8 0h5.6M339.7 507.0h5.6M348.0 507.7V536.1m-2.8 0h5.6M345.2 507.7h5.6M353.5 508.4V536.8m-2.8 0h5.6M350.7 508.4h5.6M358.9 509.1V537.4m-2.8 0h5.6M356.1 509.1h5.6M364.4 509.7V538.1m-2.8 0h5.6M361.6 509.7h5.6M369.9 510.4V538.8m-2.8 0h5.6M367.1 510.4h5.6M375.4 511.0V539.4m-2.8 0h5.6M372.6 511.0h5.6M380.9 511.6V540.1m-2.8 0h5.6M378.1 511.6h5.6M386.4 512.2V540.7m-2.8 0h5.6M383.6 512.2h5.6M391.9 512.8V541.3m-2.8 0h5.6M389.1 512.8h5.6M397.4 513.4V541.9m-2.8 0h5.6M394.6 513.4h5.6M402.9 514.0V542.5m-2.8 0h5.6M400.1 514.0h5.6M408.4 514.6V543.1m-2.8 0h5.6M405.6 514.6h5.6M413.8 515.2V543.6m-2.8 0h5.6M411.0 515.2h5.6M419.3 515.7V544.2m-2.8 0h5.6M416.5 515.7h5.6M424.8 516.3V544.8m-2.8 0h5.6M422.0 516.3h5.6M430.3 516.8V545.3m-2.8 0h5.6M427.5 516.8h5.6M435.8 517.3V545.8m-2.8 0h5.6M433.0 517.3h5.6M441.3 517.9V546.4m-2.8 0h5.6M438.5 517.9h5.6M446.8 518.4V546.9m-2.8 0h5.6M444.0 518.4h5.6M452.3 518.9V547.4m-2.8 0h5.6M449.5 518.9h5.6M457.8 519.4V547.9m-2.8 0h5.6M455.0 519.4h5.6M463.2 519.9V548.4m-2.8 0h5.6M460.4 519.9h5.6M468.7 520.4V548.9m-2.8 0h5.6M465.9 520.4h5.6M474.2 520.9V549.4m-2.8 0h5.6M471.4 520.9h5.6M479.7 521.3V549.9m-2.8 0h5.6M476.9 521.3h5.6M485.2 521.8V550.4m-2.8 0h5.6M482.4 521.8h5.6M490.7 522.3V550.8m-2.8 0h5.6M487.9 522.3h5.6M496.2 522.7V551.3m-2.8 0h5.6M493.4 522.7h5.6M501.7 523.2V551.8m-2.8 0h5.6M498.9 523.2h5.6M507.2 523.7V552.2m-2.8 0h5.6M504.4 523.7h5.6M512.6 524.1V552.7m-2.8 0h5.6M509.8 524.1h5.6M518.1 524.5V553.1m-2.8 0h5.6M515.3 524.5h5.6M523.6 525.0V553.5m-2.8 0h5.6M520.8 525.0h5.6M529.1 525.4V554.0m-2.8 0h5.6M526.3 525.4h5.6M534.6 525.8V554.4m-2.8 0h5.6M531.8 525.8h5.6M540.1 526.2V554.8m-2.8 0h5.6M537.3 526.2h5.6M545.6 526.7V555.2m-2.8 0h5.6M542.8 526.7h5.6M551.1 527.1V555.6m-2.8 0h5.6M548.3 527.1h5.6M556.6 527.5V556.0m-2.8 0h5.6M553.8 527.5h5.6M562.0 527.9V556.5m-2.8 0h5.6M559.2 527.9h5.6M567.5 528.3V556.9m-2.8 0h5.6M564.7 528.3h5.6M573.0 528.7V557.2m-2.8 0h5.6M570.2 528.7h5.6M578.5 529.1V557.6m-2.8 0h5.6M575.7 529.1h5.6M584.0 529.5V558.0m-2.8 0h5.6M581.2 529.5h5.6M589.5 529.8V558.4m-2.8 0h5.6M586.7 529.8h5.6M595.0 530.2V558.8m-2.8 0h5.6M592.2 530.2h5.6M600.5 530.6V559.2m-2.8 0h5.6M597.7 530.6h5.6M606.0 531.0V559.5m-2.8 0h5.6M603.2 531.0h5.6M611.4 531.3V559.9m-2.8 0h5.6M608.6 531.3h5.6M616.9 531.7V560.3m-2.8 0h5.6M614.1 531.7h5.6M622.4 532.1V560.6m-2.8 0h5.6M619.6 532.1h5.6M627.9 532.4V561.0m-2.8 0h5.6M625.1 532.4h5.6M633.4 532.8V561.4m-2.8 0h5.6M630.6 532.8h5.6" stroke="#3c7e36" stroke-width="1.3" fill="none"/>
<rect x="85.16" y="429.32" width="6.00" height="6.00" fill="#2f8c2a"/>
<polyline points="88.2,432.3 90.0,438.3 91.8,442.9 93.6,446.6 95.5,449.8 97.3,452.6 99.1,455.0 101.0,457.2 102.8,459.2 104.6,461.0 106.5,462.8 108.3,464.5 110.1,466.1 111.9,467.6 113.8,469.0 115.6,470.4 117.4,471.7 119.3,472.8 121.1,474.0 122.9,475.0 124.8,476.0 126.6,476.9 128.4,477.8 130.2,478.7 132.1,479.4 133.9,480.2 135.7,480.9 137.6,481.6 139.4,482.2 141.2,482.8 143.0,483.4 144.9,484.0 146.7,484.6 148.5,485.1 150.4,485.6 152.2,486.2 154.0,486.7 155.9,487.2 157.7,487.7 159.5,488.1 161.3,488.6 163.2,489.1 165.0,489.5 166.8,490.0 168.7,490.4 170.5,490.8 172.3,491.2 174.2,491.6 176.0,492.0 177.8,492.4 179.6,492.7 181.5,493.1 183.3,493.5 185.1,493.9 187.0,494.2 188.8,494.6 190.6,495.0 192.5,495.3 194.3,495.7 196.1,496.1 197.9,496.5 199.8,496.8 201.6,497.2 203.4,497.6 205.3,498.0 207.1,498.4 208.9,498.7 210.7,499.1 212.6,499.5 214.4,499.9 216.2,500.3 218.1,500.7 219.9,501.0 221.7,501.4 223.6,501.8 225.4,502.2 227.2,502.5 229.0,502.9 230.9,503.3 232.7,503.7 234.5,504.0 236.4,504.4 238.2,504.8 240.0,505.1 241.9,505.5 243.7,505.8 245.5,506.2 247.3,506.5 249.2,506.9 251.0,507.2 252.8,507.6 254.7,507.9 256.5,508.2 258.3,508.6 260.1,508.9 262.0,509.2 263.8,509.5 265.6,509.9 267.5,510.2 269.3,510.5 271.1,510.8 273.0,511.1 274.8,511.4 276.6,511.7 278.4,512.0 280.3,512.3 282.1,512.6 283.9,512.9 285.8,513.2 287.6,513.4 289.4,513.7 291.3,514.0 293.1,514.3 294.9,514.6 296.7,514.8 298.6,515.1 300.4,515.4 302.2,515.6 304.1,515.9 305.9,516.2 307.7,516.4 309.5,516.7 311.4,517.0 313.2,517.2 315.0,517.5 316.9,517.7 318.7,518.0 320.5,518.2 322.4,518.5 324.2,518.7 326.0,519.0 327.8,519.2 329.7,519.5 331.5,519.7 333.3,520.0 335.2,520.2 337.0,520.5 338.8,520.7 340.7,520.9 342.5,521.2 344.3,521.4 346.1,521.7 348.0,521.9 349.8,522.1 351.6,522.3 353.5,522.6 355.3,522.8 357.1,523.0 358.9,523.3 360.8,523.5 362.6,523.7 364.4,523.9 366.3,524.1 368.1,524.4 369.9,524.6 371.8,524.8 373.6,525.0 375.4,525.2 377.2,525.4 379.1,525.6 380.9,525.8 382.7,526.1 384.6,526.3 386.4,526.5 388.2,526.7 390.1,526.9 391.9,527.1 393.7,527.3 395.5,527.5 397.4,527.7 399.2,527.9 401.0,528.1 402.9,528.3 404.7,528.4 406.5,528.6 408.4,528.8 410.2,529.0 412.0,529.2 413.8,529.4 415.7,529.6 417.5,529.8 419.3,530.0 421.2,530.1 423.0,530.3 424.8,530.5 426.6,530.7 428.5,530.9 430.3,531.1 432.1,531.2 434.0,531.4 435.8,531.6 437.6,531.8 439.5,531.9 441.3,532.1 443.1,532.3 444.9,532.5 446.8,532.6 448.6,532.8 450.4,533.0 452.3,533.1 454.1,533.3 455.9,533.5 457.8,533.7 459.6,533.8 461.4,534.0 463.2,534.2 465.1,534.3 466.9,534.5 468.7,534.6 470.6,534.8 472.4,535.0 474.2,535.1 476.0,535.3 477.9,535.5 479.7,535.6 481.5,535.8 483.4,535.9 485.2,536.1 487.0,536.2 488.9,536.4 490.7,536.6 492.5,536.7 494.3,536.9 496.2,537.0 498.0,537.2 499.8,537.3 501.7,537.5 503.5,537.6 505.3,537.8 507.2,537.9 509.0,538.1 510.8,538.2 512.6,538.4 514.5,538.5 516.3,538.7 518.1,538.8 520.0,539.0 521.8,539.1 523.6,539.3 525.4,539.4 527.3,539.5 529.1,539.7 530.9,539.8 532.8,540.0 534.6,540.1 536.4,540.2 538.3,540.4 540.1,540.5 541.9,540.7 543.7,540.8 545.6,540.9 547.4,541.1 549.2,541.2 551.1,541.4 552.9,541.5 554.7,541.6 556.6,541.8 558.4,541.9 560.2,542.0 562.0,542.2 563.9,542.3 565.7,542.4 567.5,542.6 569.4,542.7 571.2,542.8 573.0,543.0 574.9,543.1 576.7,543.2 578.5,543.4 580.3,543.5 582.2,543.6 584.0,543.7 585.8,543.9 587.7,544.0 589.5,544.1 591.3,544.3 593.1,544.4 595.0,544.5 596.8,544.6 598.6,544.8 600.5,544.9 602.3,545.0 604.1,545.1 606.0,545.3 607.8,545.4 609.6,545.5 611.4,545.6 613.3,545.7 615.1,545.9 616.9,546.0 618.8,546.1 620.6,546.2 622.4,546.4 624.3,546.5 626.1,546.6 627.9,546.7 629.7,546.8 631.6,547.0 633.4,547.1" fill="none" stroke="#2f8c2a" stroke-width="6.6" stroke-linejoin="round"/>
<path d="M90.0 509.9V523.6m-2.8 0h5.6M87.2 509.9h5.6M95.5 554.3V571.0m-2.8 0h5.6M92.7 554.3h5.6M101.0 576.7V596.1m-2.8 0h5.6M98.2 576.7h5.6M106.5 588.2V610.1m-2.8 0h5.6M103.7 588.2h5.6M111.9 596.6V620.9m-2.8 0h5.6M109.1 596.6h5.6M117.4 603.8V630.2m-2.8 0h5.6M114.6 603.8h5.6M122.9 609.9V638.3m-2.8 0h5.6M120.1 609.9h5.6M128.4 615.1V645.3m-2.8 0h5.6M125.6 615.1h5.6M133.9 619.8V651.6m-2.8 0h5.6M131.1 619.8h5.6M139.4 624.1V657.4m-2.8 0h5.6M136.6 624.1h5.6M144.9 628.0V662.7m-2.8 0h5.6M142.1 628.0h5.6M150.4 631.3V667.3m-2.8 0h5.6M147.6 631.3h5.6M155.9 634.1V671.3m-2.8 0h5.6M153.1 634.1h5.6M161.3 636.5V674.7m-2.8 0h5.6M158.5 636.5h5.6M166.8 638.4V677.7m-2.8 0h5.6M164.0 638.4h5.6M172.3 640.3V680.4m-2.8 0h5.6M169.5 640.3h5.6M177.8 642.0V683.0m-2.8 0h5.6M175.0 642.0h5.6M183.3 643.8V685.5m-2.8 0h5.6M180.5 643.8h5.6M188.8 645.6V688.0m-2.8 0h5.6M186.0 645.6h5.6M194.3 647.3V690.3m-2.8 0h5.6M191.5 647.3h5.6M199.8 648.9V692.5m-2.8 0h5.6M197.0 648.9h5.6M205.3 650.2V694.4m-2.8 0h5.6M202.5 650.2h5.6M210.7 651.4V696.0m-2.8 0h5.6M207.9 651.4h5.6M216.2 652.4V697.5m-2.8 0h5.6M213.4 652.4h5.6M221.7 653.3V698.9m-2.8 0h5.6M218.9 653.3h5.6M227.2 654.2V700.1m-2.8 0h5.6M224.4 654.2h5.6M232.7 655.1V701.4m-2.8 0h5.6M229.9 655.1h5.6M238.2 656.0V702.6m-2.8 0h5.6M235.4 656.0h5.6M243.7 656.9V703.8m-2.8 0h5.6M240.9 656.9h5.6M249.2 657.8V705.0m-2.8 0h5.6M246.4 657.8h5.6M254.7 658.7V706.2m-2.8 0h5.6M251.9 658.7h5.6M260.1 659.6V707.3m-2.8 0h5.6M257.3 659.6h5.6M265.6 660.5V708.3m-2.8 0h5.6M262.8 660.5h5.6M271.1 661.3V709.4m-2.8 0h5.6M268.3 661.3h5.6M276.6 662.2V710.4m-2.8 0h5.6M273.8 662.2h5.6M282.1 663.0V711.4m-2.8 0h5.6M279.3 663.0h5.6M287.6 663.8V712.3m-2.8 0h5.6M284.8 663.8h5.6M293.1 664.6V713.3m-2.8 0h5.6M290.3 664.6h5.6M298.6 665.4V714.2m-2.8 0h5.6M295.8 665.4h5.6M304.1 666.2V715.1m-2.8 0h5.6M301.3 666.2h5.6M309.5 666.9V716.0m-2.8 0h5.6M306.7 666.9h5.6M315.0 667.7V716.8m-2.8 0h5.6M312.2 667.7h5.6M320.5 668.4V717.7m-2.8 0h5.6M317.7 668.4h5.6M326.0 669.2V718.5m-2.8 0h5.6M323.2 669.2h5.6M331.5 669.9V719.3m-2.8 0h5.6M328.7 669.9h5.6M337.0 670.7V720.1m-2.8 0h5.6M334.2 670.7h5.6M342.5 671.4V720.9m-2.8 0h5.6M339.7 671.4h5.6M348.0 672.1V721.7m-2.8 0h5.6M345.2 672.1h5.6M353.5 672.8V722.4m-2.8 0h5.6M350.7 672.8h5.6M358.9 673.5V723.2m-2.8 0h5.6M356.1 673.5h5.6M364.4 674.2V723.9m-2.8 0h5.6M361.6 674.2h5.6M369.9 674.9V724.7m-2.8 0h5.6M367.1 674.9h5.6M375.4 675.6V725.4m-2.8 0h5.6M372.6 675.6h5.6M380.9 676.3V726.1m-2.8 0h5.6M378.1 676.3h5.6M386.4 676.9V726.8m-2.8 0h5.6M383.6 676.9h5.6M391.9 677.6V727.5m-2.8 0h5.6M389.1 677.6h5.6M397.4 678.3V728.2m-2.8 0h5.6M394.6 678.3h5.6M402.9 678.9V728.9m-2.8 0h5.6M400.1 678.9h5.6M408.4 679.6V729.6m-2.8 0h5.6M405.6 679.6h5.6M413.8 680.3V730.2m-2.8 0h5.6M411.0 680.3h5.6M419.3 680.9V730.9m-2.8 0h5.6M416.5 680.9h5.6M424.8 681.5V731.6m-2.8 0h5.6M422.0 681.5h5.6M430.3 682.2V732.2m-2.8 0h5.6M427.5 682.2h5.6M435.8 682.8V732.9m-2.8 0h5.6M433.0 682.8h5.6M441.3 683.5V733.5m-2.8 0h5.6M438.5 683.5h5.6M446.8 684.1V734.2m-2.8 0h5.6M444.0 684.1h5.6M452.3 684.7V734.8m-2.8 0h5.6M449.5 684.7h5.6M457.8 685.3V735.5m-2.8 0h5.6M455.0 685.3h5.6M463.2 686.0V736.1m-2.8 0h5.6M460.4 686.0h5.6M468.7 686.6V736.7m-2.8 0h5.6M465.9 686.6h5.6M474.2 687.2V737.3m-2.8 0h5.6M471.4 687.2h5.6M479.7 687.8V738.0m-2.8 0h5.6M476.9 687.8h5.6M485.2 688.4V738.6m-2.8 0h5.6M482.4 688.4h5.6M490.7 689.1V739.2m-2.8 0h5.6M487.9 689.1h5.6M496.2 689.7V739.8m-2.8 0h5.6M493.4 689.7h5.6M501.7 690.3V740.4m-2.8 0h5.6M498.9 690.3h5.6M507.2 690.9V741.1m-2.8 0h5.6M504.4 690.9h5.6M512.6 691.5V741.7m-2.8 0h5.6M509.8 691.5h5.6M518.1 692.1V742.3m-2.8 0h5.6M515.3 692.1h5.6M523.6 692.7V742.9m-2.8 0h5.6M520.8 692.7h5.6M529.1 693.3V743.5m-2.8 0h5.6M526.3 693.3h5.6M534.6 693.9V744.1m-2.8 0h5.6M531.8 693.9h5.6M540.1 694.5V744.7m-2.8 0h5.6M537.3 694.5h5.6M545.6 695.1V745.3m-2.8 0h5.6M542.8 695.1h5.6M551.1 695.7V745.9m-2.8 0h5.6M548.3 695.7h5.6M556.6 696.3V746.5m-2.8 0h5.6M553.8 696.3h5.6M562.0 696.9V747.1m-2.8 0h5.6M559.2 696.9h5.6M567.5 697.5V747.7m-2.8 0h5.6M564.7 697.5h5.6M573.0 698.1V748.3m-2.8 0h5.6M570.2 698.1h5.6M578.5 698.7V748.9m-2.8 0h5.6M575.7 698.7h5.6M584.0 699.3V749.5m-2.8 0h5.6M581.2 699.3h5.6M589.5 699.8V750.1m-2.8 0h5.6M586.7 699.8h5.6M595.0 700.4V750.6m-2.8 0h5.6M592.2 700.4h5.6M600.5 701.0V751.2m-2.8 0h5.6M597.7 701.0h5.6M606.0 701.6V751.8m-2.8 0h5.6M603.2 701.6h5.6M611.4 702.1V752.4m-2.8 0h5.6M608.6 702.1h5.6M616.9 702.7V752.9m-2.8 0h5.6M614.1 702.7h5.6M622.4 703.3V753.5m-2.8 0h5.6M619.6 703.3h5.6M627.9 703.8V754.0m-2.8 0h5.6M625.1 703.8h5.6M633.4 704.4V754.6m-2.8 0h5.6M630.6 704.4h5.6" stroke="#4f9845" stroke-width="1.35" fill="none"/>
<rect x="86.99" y="513.76" width="6.00" height="6.00" fill="#3cb42a"/>
<rect x="88.82" y="538.91" width="6.00" height="6.00" fill="#3cb42a"/>
<rect x="90.65" y="551.78" width="6.00" height="6.00" fill="#3cb42a"/>
<rect x="92.48" y="559.66" width="6.00" height="6.00" fill="#3cb42a"/>
<rect x="94.31" y="568.75" width="6.00" height="6.00" fill="#3cb42a"/>
<rect x="96.14" y="577.17" width="6.00" height="6.00" fill="#3cb42a"/>
<polyline points="99.1,580.2 101.0,586.4 102.8,591.3 104.6,595.5 106.5,599.1 108.3,602.5 110.1,605.7 111.9,608.7 113.8,611.6 115.6,614.4 117.4,617.0 119.3,619.5 121.1,621.8 122.9,624.1 124.8,626.2 126.6,628.3 128.4,630.2 130.2,632.1 132.1,633.9 133.9,635.7 135.7,637.4 137.6,639.1 139.4,640.8 141.2,642.3 143.0,643.9 144.9,645.3 146.7,646.7 148.5,648.0 150.4,649.3 152.2,650.5 154.0,651.7 155.9,652.7 157.7,653.7 159.5,654.7 161.3,655.6 163.2,656.4 165.0,657.3 166.8,658.1 168.7,658.8 170.5,659.6 172.3,660.3 174.2,661.0 176.0,661.8 177.8,662.5 179.6,663.2 181.5,663.9 183.3,664.6 185.1,665.3 187.0,666.1 188.8,666.8 190.6,667.5 192.5,668.1 194.3,668.8 196.1,669.5 197.9,670.1 199.8,670.7 201.6,671.2 203.4,671.8 205.3,672.3 207.1,672.8 208.9,673.3 210.7,673.7 212.6,674.1 214.4,674.5 216.2,675.0 218.1,675.3 219.9,675.7 221.7,676.1 223.6,676.5 225.4,676.8 227.2,677.2 229.0,677.5 230.9,677.9 232.7,678.2 234.5,678.6 236.4,679.0 238.2,679.3 240.0,679.7 241.9,680.0 243.7,680.4 245.5,680.7 247.3,681.1 249.2,681.4 251.0,681.8 252.8,682.1 254.7,682.5 256.5,682.8 258.3,683.1 260.1,683.4 262.0,683.8 263.8,684.1 265.6,684.4 267.5,684.7 269.3,685.0 271.1,685.4 273.0,685.7 274.8,686.0 276.6,686.3 278.4,686.6 280.3,686.9 282.1,687.2 283.9,687.5 285.8,687.8 287.6,688.1 289.4,688.4 291.3,688.6 293.1,688.9 294.9,689.2 296.7,689.5 298.6,689.8 300.4,690.1 302.2,690.3 304.1,690.6 305.9,690.9 307.7,691.2 309.5,691.4 311.4,691.7 313.2,692.0 315.0,692.3 316.9,692.5 318.7,692.8 320.5,693.1 322.4,693.3 324.2,693.6 326.0,693.8 327.8,694.1 329.7,694.4 331.5,694.6 333.3,694.9 335.2,695.1 337.0,695.4 338.8,695.6 340.7,695.9 342.5,696.1 344.3,696.4 346.1,696.6 348.0,696.9 349.8,697.1 351.6,697.4 353.5,697.6 355.3,697.9 357.1,698.1 358.9,698.4 360.8,698.6 362.6,698.8 364.4,699.1 366.3,699.3 368.1,699.6 369.9,699.8 371.8,700.0 373.6,700.3 375.4,700.5 377.2,700.7 379.1,701.0 380.9,701.2 382.7,701.4 384.6,701.7 386.4,701.9 388.2,702.1 390.1,702.3 391.9,702.6 393.7,702.8 395.5,703.0 397.4,703.2 399.2,703.5 401.0,703.7 402.9,703.9 404.7,704.1 406.5,704.4 408.4,704.6 410.2,704.8 412.0,705.0 413.8,705.2 415.7,705.5 417.5,705.7 419.3,705.9 421.2,706.1 423.0,706.3 424.8,706.6 426.6,706.8 428.5,707.0 430.3,707.2 432.1,707.4 434.0,707.6 435.8,707.9 437.6,708.1 439.5,708.3 441.3,708.5 443.1,708.7 444.9,708.9 446.8,709.1 448.6,709.3 450.4,709.6 452.3,709.8 454.1,710.0 455.9,710.2 457.8,710.4 459.6,710.6 461.4,710.8 463.2,711.0 465.1,711.2 466.9,711.4 468.7,711.7 470.6,711.9 472.4,712.1 474.2,712.3 476.0,712.5 477.9,712.7 479.7,712.9 481.5,713.1 483.4,713.3 485.2,713.5 487.0,713.7 488.9,713.9 490.7,714.1 492.5,714.3 494.3,714.5 496.2,714.7 498.0,715.0 499.8,715.2 501.7,715.4 503.5,715.6 505.3,715.8 507.2,716.0 509.0,716.2 510.8,716.4 512.6,716.6 514.5,716.8 516.3,717.0 518.1,717.2 520.0,717.4 521.8,717.6 523.6,717.8 525.4,718.0 527.3,718.2 529.1,718.4 530.9,718.6 532.8,718.8 534.6,719.0 536.4,719.2 538.3,719.4 540.1,719.6 541.9,719.8 543.7,720.0 545.6,720.2 547.4,720.4 549.2,720.6 551.1,720.8 552.9,721.0 554.7,721.2 556.6,721.4 558.4,721.6 560.2,721.8 562.0,722.0 563.9,722.2 565.7,722.4 567.5,722.6 569.4,722.8 571.2,723.0 573.0,723.2 574.9,723.4 576.7,723.6 578.5,723.8 580.3,724.0 582.2,724.2 584.0,724.4 585.8,724.6 587.7,724.8 589.5,724.9 591.3,725.1 593.1,725.3 595.0,725.5 596.8,725.7 598.6,725.9 600.5,726.1 602.3,726.3 604.1,726.5 606.0,726.7 607.8,726.9 609.6,727.1 611.4,727.2 613.3,727.4 615.1,727.6 616.9,727.8 618.8,728.0 620.6,728.2 622.4,728.4 624.3,728.6 626.1,728.7 627.9,728.9 629.7,729.1 631.6,729.3 633.4,729.5" fill="none" stroke="#3cb42a" stroke-width="6.4" stroke-linejoin="round"/>
<polyline points="86.3,388.6 88.2,386.7 90.0,386.0 91.8,385.6 93.6,385.4 95.5,385.2 97.3,385.2 99.1,385.1 101.0,385.2 102.8,385.4 104.6,385.7 106.5,385.9 108.3,386.3 110.1,386.6 111.9,386.9 113.8,387.2 115.6,387.4 117.4,387.7 119.3,387.9 121.1,388.2 122.9,388.4 124.8,388.6 126.6,388.8 128.4,389.0 130.2,389.3 132.1,389.5 133.9,389.7 135.7,389.9 137.6,390.1 139.4,390.4 141.2,390.6 143.0,390.8 144.9,391.0 146.7,391.2 148.5,391.4 150.4,391.6 152.2,391.8 154.0,392.0 155.9,392.2 157.7,392.3 159.5,392.5 161.3,392.7 163.2,392.9 165.0,393.1 166.8,393.2 168.7,393.4 170.5,393.6 172.3,393.8 174.2,393.9 176.0,394.1 177.8,394.3 179.6,394.5 181.5,394.6 183.3,394.8 185.1,395.0 187.0,395.2 188.8,395.3 190.6,395.5 192.5,395.7 194.3,395.9 196.1,396.0 197.9,396.2 199.8,396.4 201.6,396.6 203.4,396.7 205.3,396.9 207.1,397.1 208.9,397.3 210.7,397.5 212.6,397.7 214.4,397.8 216.2,398.0 218.1,398.2 219.9,398.4 221.7,398.6 223.6,398.8 225.4,398.9 227.2,399.1 229.0,399.3 230.9,399.5 232.7,399.7 234.5,399.9 236.4,400.0 238.2,400.2 240.0,400.4 241.9,400.6 243.7,400.8 245.5,400.9 247.3,401.1 249.2,401.3 251.0,401.5 252.8,401.7 254.7,401.8 256.5,402.0 258.3,402.2 260.1,402.4 262.0,402.5 263.8,402.7 265.6,402.9 267.5,403.1 269.3,403.2 271.1,403.4 273.0,403.6 274.8,403.7 276.6,403.9 278.4,404.1 280.3,404.2 282.1,404.4 283.9,404.6 285.8,404.7 287.6,404.9 289.4,405.0 291.3,405.2 293.1,405.4 294.9,405.5 296.7,405.7 298.6,405.8 300.4,406.0 302.2,406.2 304.1,406.3 305.9,406.5 307.7,406.6 309.5,406.8 311.4,407.0 313.2,407.1 315.0,407.3 316.9,407.4 318.7,407.6 320.5,407.7 322.4,407.9 324.2,408.1 326.0,408.2 327.8,408.4 329.7,408.5 331.5,408.7 333.3,408.8 335.2,409.0 337.0,409.1 338.8,409.3 340.7,409.4 342.5,409.6 344.3,409.7 346.1,409.9 348.0,410.0 349.8,410.2 351.6,410.3 353.5,410.5 355.3,410.6 357.1,410.8 358.9,410.9 360.8,411.1 362.6,411.2 364.4,411.4 366.3,411.5 368.1,411.7 369.9,411.8 371.8,412.0 373.6,412.1 375.4,412.3 377.2,412.4 379.1,412.6 380.9,412.7 382.7,412.9 384.6,413.0 386.4,413.2 388.2,413.3 390.1,413.4 391.9,413.6 393.7,413.7 395.5,413.9 397.4,414.0 399.2,414.2 401.0,414.3 402.9,414.4 404.7,414.6 406.5,414.7 408.4,414.9 410.2,415.0 412.0,415.2 413.8,415.3 415.7,415.4 417.5,415.6 419.3,415.7 421.2,415.9 423.0,416.0 424.8,416.1 426.6,416.3 428.5,416.4 430.3,416.5 432.1,416.7 434.0,416.8 435.8,417.0 437.6,417.1 439.5,417.2 441.3,417.4 443.1,417.5 444.9,417.6 446.8,417.8 448.6,417.9 450.4,418.0 452.3,418.2 454.1,418.3 455.9,418.4 457.8,418.6 459.6,418.7 461.4,418.8 463.2,419.0 465.1,419.1 466.9,419.3 468.7,419.4 470.6,419.5 472.4,419.7 474.2,419.8 476.0,419.9 477.9,420.1 479.7,420.2 481.5,420.3 483.4,420.5 485.2,420.6 487.0,420.7 488.9,420.9 490.7,421.0 492.5,421.2 494.3,421.3 496.2,421.4 498.0,421.6 499.8,421.7 501.7,421.8 503.5,422.0 505.3,422.1 507.2,422.2 509.0,422.4 510.8,422.5 512.6,422.7 514.5,422.8 516.3,422.9 518.1,423.1 520.0,423.2 521.8,423.3 523.6,423.5 525.4,423.6 527.3,423.7 529.1,423.9 530.9,424.0 532.8,424.1 534.6,424.3 536.4,424.4 538.3,424.5 540.1,424.7 541.9,424.8 543.7,424.9 545.6,425.1 547.4,425.2 549.2,425.3 551.1,425.5 552.9,425.6 554.7,425.7 556.6,425.9 558.4,426.0 560.2,426.1 562.0,426.3 563.9,426.4 565.7,426.5 567.5,426.7 569.4,426.8 571.2,426.9 573.0,427.1 574.9,427.2 576.7,427.3 578.5,427.5 580.3,427.6 582.2,427.7 584.0,427.8 585.8,428.0 587.7,428.1 589.5,428.2 591.3,428.4 593.1,428.5 595.0,428.6 596.8,428.7 598.6,428.9 600.5,429.0 602.3,429.1 604.1,429.2 606.0,429.4 607.8,429.5 609.6,429.6 611.4,429.8 613.3,429.9 615.1,430.0 616.9,430.1 618.8,430.3 620.6,430.4 622.4,430.5 624.3,430.6 626.1,430.7 627.9,430.9 629.7,431.0 631.6,431.1 633.4,431.2" fill="none" stroke="#000000" stroke-width="6.0" stroke-linejoin="round"/>
<rect x="84.60" y="325.40" width="6.00" height="6.00" fill="#c01014"/>
<rect x="84.60" y="327.14" width="6.00" height="6.00" fill="#ee2e32"/>
<rect x="84.60" y="322.81" width="6.00" height="6.00" fill="#2f8c2a"/>
<rect x="84.60" y="328.00" width="6.00" height="6.00" fill="#3cb42a"/>
<rect x="84.60" y="333.20" width="6.00" height="6.00" fill="#6ea6e2"/>
<rect x="84.60" y="328.87" width="6.00" height="6.00" fill="#6ea6e2"/>
<rect x="84.60" y="324.10" width="6.00" height="6.00" fill="#0a52a2"/>
<rect x="84.60" y="319.34" width="6.00" height="6.00" fill="#0a52a2"/>
<polyline points="88.2,952.2 90.0,952.0 91.8,951.9 93.6,951.8 95.5,951.8 97.3,951.8 99.1,951.8 101.0,951.7 102.8,951.7 104.6,951.7 106.5,951.7 108.3,951.7 110.1,951.7 111.9,951.7 113.8,951.7 115.6,951.7 117.4,951.7 119.3,951.7 121.1,951.7 122.9,951.7 124.8,951.7 126.6,951.7 128.4,951.7 130.2,951.7 132.1,951.7 133.9,951.7 135.7,951.7 137.6,951.7 139.4,951.7 141.2,951.7 143.0,951.7 144.9,951.7 146.7,951.7 148.5,951.7 150.4,951.8 152.2,951.8 154.0,951.8 155.9,951.8 157.7,951.9 159.5,951.9 161.3,951.9 163.2,951.9 165.0,952.0 166.8,952.0 168.7,952.1 170.5,952.1 172.3,952.1 174.2,952.2 176.0,952.2 177.8,952.2 179.6,952.3 181.5,952.3 183.3,952.4 185.1,952.4 187.0,952.4 188.8,952.5 190.6,952.5 192.5,952.6 194.3,952.6 196.1,952.6 197.9,952.7 199.8,952.7 201.6,952.8 203.4,952.8 205.3,952.8 207.1,952.9 208.9,952.9 210.7,953.0 212.6,953.0 214.4,953.0 216.2,953.1 218.1,953.1 219.9,953.1 221.7,953.2 223.6,953.2 225.4,953.2 227.2,953.3 229.0,953.3 230.9,953.4 232.7,953.4 234.5,953.4 236.4,953.5 238.2,953.5 240.0,953.5 241.9,953.6 243.7,953.6 245.5,953.6 247.3,953.7 249.2,953.7 251.0,953.7 252.8,953.8 254.7,953.8 256.5,953.8 258.3,953.8 260.1,953.9 262.0,953.9 263.8,953.9 265.6,954.0 267.5,954.0 269.3,954.0 271.1,954.1 273.0,954.1 274.8,954.1 276.6,954.1 278.4,954.2 280.3,954.2 282.1,954.2 283.9,954.3 285.8,954.3 287.6,954.3 289.4,954.4 291.3,954.4 293.1,954.4 294.9,954.5 296.7,954.5 298.6,954.5 300.4,954.5 302.2,954.6 304.1,954.6 305.9,954.6 307.7,954.7 309.5,954.7 311.4,954.7 313.2,954.8 315.0,954.8 316.9,954.8 318.7,954.9 320.5,954.9 322.4,954.9 324.2,955.0 326.0,955.0 327.8,955.0 329.7,955.1 331.5,955.1 333.3,955.1 335.2,955.2 337.0,955.2 338.8,955.2 340.7,955.3 342.5,955.3 344.3,955.3 346.1,955.4 348.0,955.4 349.8,955.4 351.6,955.5 353.5,955.5 355.3,955.5 357.1,955.6 358.9,955.6 360.8,955.6 362.6,955.7 364.4,955.7 366.3,955.7 368.1,955.8 369.9,955.8 371.8,955.8 373.6,955.9 375.4,955.9 377.2,955.9 379.1,956.0 380.9,956.0 382.7,956.0 384.6,956.1 386.4,956.1 388.2,956.1 390.1,956.2 391.9,956.2 393.7,956.2 395.5,956.2 397.4,956.3 399.2,956.3 401.0,956.3 402.9,956.4 404.7,956.4 406.5,956.4 408.4,956.5 410.2,956.5 412.0,956.5 413.8,956.6 415.7,956.6 417.5,956.6 419.3,956.7 421.2,956.7 423.0,956.7 424.8,956.8 426.6,956.8 428.5,956.8 430.3,956.8 432.1,956.9 434.0,956.9 435.8,956.9 437.6,957.0 439.5,957.0 441.3,957.0 443.1,957.1 444.9,957.1 446.8,957.1 448.6,957.2 450.4,957.2 452.3,957.2 454.1,957.2 455.9,957.3 457.8,957.3 459.6,957.3 461.4,957.4 463.2,957.4 465.1,957.4 466.9,957.5 468.7,957.5 470.6,957.5 472.4,957.5 474.2,957.6 476.0,957.6 477.9,957.6 479.7,957.7 481.5,957.7 483.4,957.7 485.2,957.7 487.0,957.8 488.9,957.8 490.7,957.8 492.5,957.9 494.3,957.9 496.2,957.9 498.0,957.9 499.8,958.0 501.7,958.0 503.5,958.0 505.3,958.1 507.2,958.1 509.0,958.1 510.8,958.1 512.6,958.2 514.5,958.2 516.3,958.2 518.1,958.2 520.0,958.3 521.8,958.3 523.6,958.3 525.4,958.4 527.3,958.4 529.1,958.4 530.9,958.4 532.8,958.5 534.6,958.5 536.4,958.5 538.3,958.5 540.1,958.6 541.9,958.6 543.7,958.6 545.6,958.7 547.4,958.7 549.2,958.7 551.1,958.7 552.9,958.8 554.7,958.8 556.6,958.8 558.4,958.8 560.2,958.9 562.0,958.9 563.9,958.9 565.7,958.9 567.5,959.0 569.4,959.0 571.2,959.0 573.0,959.0 574.9,959.1 576.7,959.1 578.5,959.1 580.3,959.1 582.2,959.2 584.0,959.2 585.8,959.2 587.7,959.2 589.5,959.3 591.3,959.3 593.1,959.3 595.0,959.3 596.8,959.4 598.6,959.4 600.5,959.4 602.3,959.4 604.1,959.5 606.0,959.5 607.8,959.5 609.6,959.5 611.4,959.6 613.3,959.6 615.1,959.6 616.9,959.6 618.8,959.6 620.6,959.7 622.4,959.7 624.3,959.7 626.1,959.7 627.9,959.8 629.7,959.8 631.6,959.8 633.4,959.8" fill="none" stroke="#000000" stroke-width="6.2" stroke-linejoin="round"/>
<polyline points="88.2,934.0 90.0,932.7 91.8,931.7 93.6,931.0 95.5,930.5 97.3,930.0 99.1,929.6 101.0,929.2 102.8,928.9 104.6,928.7 106.5,928.4 108.3,928.2 110.1,928.0 111.9,927.8 113.8,927.6 115.6,927.4 117.4,927.3 119.3,927.1 121.1,927.0 122.9,926.8 124.8,926.7 126.6,926.6 128.4,926.5 130.2,926.4 132.1,926.3 133.9,926.2 135.7,926.1 137.6,926.0 139.4,925.9 141.2,925.8 143.0,925.7 144.9,925.6 146.7,925.6 148.5,925.5 150.4,925.4 152.2,925.3 154.0,925.2 155.9,925.1 157.7,925.1 159.5,925.0 161.3,924.9 163.2,924.8 165.0,924.8 166.8,924.7 168.7,924.6 170.5,924.5 172.3,924.5 174.2,924.4 176.0,924.4 177.8,924.3 179.6,924.2 181.5,924.2 183.3,924.1 185.1,924.1 187.0,924.0 188.8,924.0 190.6,923.9 192.5,923.9 194.3,923.8 196.1,923.8 197.9,923.7 199.8,923.7 201.6,923.6 203.4,923.6 205.3,923.6 207.1,923.5 208.9,923.5 210.7,923.5 212.6,923.4 214.4,923.4 216.2,923.4 218.1,923.3 219.9,923.3 221.7,923.3 223.6,923.3 225.4,923.2 227.2,923.2 229.0,923.2 230.9,923.2 232.7,923.2 234.5,923.1 236.4,923.1 238.2,923.1 240.0,923.1 241.9,923.1 243.7,923.1 245.5,923.1 247.3,923.0 249.2,923.0 251.0,923.0 252.8,923.0 254.7,923.0 256.5,923.0 258.3,923.0 260.1,923.0 262.0,923.0 263.8,923.0 265.6,923.0 267.5,923.0 269.3,923.0 271.1,923.0 273.0,923.0 274.8,923.0 276.6,923.0 278.4,923.0 280.3,923.0 282.1,923.0 283.9,923.0 285.8,923.0 287.6,923.0 289.4,923.0 291.3,923.0 293.1,923.0 294.9,923.0 296.7,923.0 298.6,923.0 300.4,923.0 302.2,923.0 304.1,923.0 305.9,923.0 307.7,923.0 309.5,923.0 311.4,923.0 313.2,923.1 315.0,923.1 316.9,923.1 318.7,923.1 320.5,923.1 322.4,923.1 324.2,923.1 326.0,923.1 327.8,923.1 329.7,923.1 331.5,923.1 333.3,923.1 335.2,923.1 337.0,923.1 338.8,923.1 340.7,923.1 342.5,923.1 344.3,923.2 346.1,923.2 348.0,923.2 349.8,923.2 351.6,923.2 353.5,923.2 355.3,923.2 357.1,923.2 358.9,923.2 360.8,923.2 362.6,923.2 364.4,923.2 366.3,923.2 368.1,923.3 369.9,923.3 371.8,923.3 373.6,923.3 375.4,923.3 377.2,923.3 379.1,923.3 380.9,923.3 382.7,923.3 384.6,923.3 386.4,923.3 388.2,923.4 390.1,923.4 391.9,923.4 393.7,923.4 395.5,923.4 397.4,923.4 399.2,923.4 401.0,923.4 402.9,923.4 404.7,923.4 406.5,923.4 408.4,923.5 410.2,923.5 412.0,923.5 413.8,923.5 415.7,923.5 417.5,923.5 419.3,923.5 421.2,923.5 423.0,923.5 424.8,923.6 426.6,923.6 428.5,923.6 430.3,923.6 432.1,923.6 434.0,923.6 435.8,923.6 437.6,923.6 439.5,923.6 441.3,923.6 443.1,923.7 444.9,923.7 446.8,923.7 448.6,923.7 450.4,923.7 452.3,923.7 454.1,923.7 455.9,923.7 457.8,923.7 459.6,923.8 461.4,923.8 463.2,923.8 465.1,923.8 466.9,923.8 468.7,923.8 470.6,923.8 472.4,923.8 474.2,923.8 476.0,923.9 477.9,923.9 479.7,923.9 481.5,923.9 483.4,923.9 485.2,923.9 487.0,923.9 488.9,923.9 490.7,923.9 492.5,924.0 494.3,924.0 496.2,924.0 498.0,924.0 499.8,924.0 501.7,924.0 503.5,924.0 505.3,924.0 507.2,924.1 509.0,924.1 510.8,924.1 512.6,924.1 514.5,924.1 516.3,924.1 518.1,924.1 520.0,924.1 521.8,924.1 523.6,924.2 525.4,924.2 527.3,924.2 529.1,924.2 530.9,924.2 532.8,924.2 534.6,924.2 536.4,924.2 538.3,924.3 540.1,924.3 541.9,924.3 543.7,924.3 545.6,924.3 547.4,924.3 549.2,924.3 551.1,924.3 552.9,924.4 554.7,924.4 556.6,924.4 558.4,924.4 560.2,924.4 562.0,924.4 563.9,924.4 565.7,924.4 567.5,924.4 569.4,924.5 571.2,924.5 573.0,924.5 574.9,924.5 576.7,924.5 578.5,924.5 580.3,924.5 582.2,924.5 584.0,924.6 585.8,924.6 587.7,924.6 589.5,924.6 591.3,924.6 593.1,924.6 595.0,924.6 596.8,924.6 598.6,924.7 600.5,924.7 602.3,924.7 604.1,924.7 606.0,924.7 607.8,924.7 609.6,924.7 611.4,924.7 613.3,924.8 615.1,924.8 616.9,924.8 618.8,924.8 620.6,924.8 622.4,924.8 624.3,924.8 626.1,924.8 627.9,924.9 629.7,924.9 631.6,924.9 633.4,924.9" fill="none" stroke="#c01014" stroke-width="6.2" stroke-linejoin="round"/>
<polyline points="88.2,919.0 90.0,917.2 91.8,916.1 93.6,915.3 95.5,914.7 97.3,914.3 99.1,913.9 101.0,913.6 102.8,913.3 104.6,913.1 106.5,913.0 108.3,912.8 110.1,912.7 111.9,912.6 113.8,912.5 115.6,912.4 117.4,912.3 119.3,912.3 121.1,912.2 122.9,912.2 124.8,912.2 126.6,912.1 128.4,912.1 130.2,912.1 132.1,912.1 133.9,912.0 135.7,912.0 137.6,912.0 139.4,912.0 141.2,912.0 143.0,912.0 144.9,912.0 146.7,912.0 148.5,912.0 150.4,912.1 152.2,912.1 154.0,912.1 155.9,912.1 157.7,912.1 159.5,912.1 161.3,912.1 163.2,912.1 165.0,912.1 166.8,912.1 168.7,912.2 170.5,912.2 172.3,912.2 174.2,912.2 176.0,912.2 177.8,912.2 179.6,912.2 181.5,912.2 183.3,912.3 185.1,912.3 187.0,912.3 188.8,912.3 190.6,912.3 192.5,912.3 194.3,912.3 196.1,912.3 197.9,912.3 199.8,912.4 201.6,912.4 203.4,912.4 205.3,912.4 207.1,912.4 208.9,912.4 210.7,912.4 212.6,912.4 214.4,912.4 216.2,912.4 218.1,912.4 219.9,912.4 221.7,912.4 223.6,912.5 225.4,912.5 227.2,912.5 229.0,912.5 230.9,912.5 232.7,912.5 234.5,912.5 236.4,912.5 238.2,912.5 240.0,912.5 241.9,912.5 243.7,912.5 245.5,912.5 247.3,912.5 249.2,912.5 251.0,912.5 252.8,912.5 254.7,912.5 256.5,912.5 258.3,912.5 260.1,912.5 262.0,912.5 263.8,912.5 265.6,912.5 267.5,912.5 269.3,912.5 271.1,912.5 273.0,912.5 274.8,912.5 276.6,912.5 278.4,912.5 280.3,912.5 282.1,912.5 283.9,912.5 285.8,912.5 287.6,912.5 289.4,912.5 291.3,912.5 293.1,912.5 294.9,912.5 296.7,912.5 298.6,912.5 300.4,912.5 302.2,912.5 304.1,912.5 305.9,912.5 307.7,912.5 309.5,912.5 311.4,912.4 313.2,912.4 315.0,912.4 316.9,912.4 318.7,912.4 320.5,912.4 322.4,912.4 324.2,912.4 326.0,912.4 327.8,912.4 329.7,912.4 331.5,912.4 333.3,912.4 335.2,912.4 337.0,912.3 338.8,912.3 340.7,912.3 342.5,912.3 344.3,912.3 346.1,912.3 348.0,912.3 349.8,912.3 351.6,912.3 353.5,912.3 355.3,912.3 357.1,912.2 358.9,912.2 360.8,912.2 362.6,912.2 364.4,912.2 366.3,912.2 368.1,912.2 369.9,912.2 371.8,912.2 373.6,912.2 375.4,912.2 377.2,912.1 379.1,912.1 380.9,912.1 382.7,912.1 384.6,912.1 386.4,912.1 388.2,912.1 390.1,912.1 391.9,912.1 393.7,912.1 395.5,912.0 397.4,912.0 399.2,912.0 401.0,912.0 402.9,912.0 404.7,912.0 406.5,912.0 408.4,912.0 410.2,912.0 412.0,912.0 413.8,911.9 415.7,911.9 417.5,911.9 419.3,911.9 421.2,911.9 423.0,911.9 424.8,911.9 426.6,911.9 428.5,911.9 430.3,911.9 432.1,911.8 434.0,911.8 435.8,911.8 437.6,911.8 439.5,911.8 441.3,911.8 443.1,911.8 444.9,911.8 446.8,911.8 448.6,911.8 450.4,911.7 452.3,911.7 454.1,911.7 455.9,911.7 457.8,911.7 459.6,911.7 461.4,911.7 463.2,911.7 465.1,911.7 466.9,911.6 468.7,911.6 470.6,911.6 472.4,911.6 474.2,911.6 476.0,911.6 477.9,911.6 479.7,911.6 481.5,911.6 483.4,911.6 485.2,911.5 487.0,911.5 488.9,911.5 490.7,911.5 492.5,911.5 494.3,911.5 496.2,911.5 498.0,911.5 499.8,911.5 501.7,911.5 503.5,911.4 505.3,911.4 507.2,911.4 509.0,911.4 510.8,911.4 512.6,911.4 514.5,911.4 516.3,911.4 518.1,911.4 520.0,911.4 521.8,911.3 523.6,911.3 525.4,911.3 527.3,911.3 529.1,911.3 530.9,911.3 532.8,911.3 534.6,911.3 536.4,911.3 538.3,911.3 540.1,911.2 541.9,911.2 543.7,911.2 545.6,911.2 547.4,911.2 549.2,911.2 551.1,911.2 552.9,911.2 554.7,911.2 556.6,911.2 558.4,911.2 560.2,911.1 562.0,911.1 563.9,911.1 565.7,911.1 567.5,911.1 569.4,911.1 571.2,911.1 573.0,911.1 574.9,911.1 576.7,911.1 578.5,911.1 580.3,911.0 582.2,911.0 584.0,911.0 585.8,911.0 587.7,911.0 589.5,911.0 591.3,911.0 593.1,911.0 595.0,911.0 596.8,911.0 598.6,911.0 600.5,910.9 602.3,910.9 604.1,910.9 606.0,910.9 607.8,910.9 609.6,910.9 611.4,910.9 613.3,910.9 615.1,910.9 616.9,910.9 618.8,910.9 620.6,910.8 622.4,910.8 624.3,910.8 626.1,910.8 627.9,910.8 629.7,910.8 631.6,910.8 633.4,910.8" fill="none" stroke="#ee2e32" stroke-width="6.2" stroke-linejoin="round"/>
<polyline points="88.2,950.0 90.0,949.7 91.8,949.3 93.6,948.9 95.5,948.5 97.3,948.1 99.1,947.7 101.0,947.4 102.8,947.0 104.6,946.7 106.5,946.4 108.3,946.2 110.1,945.9 111.9,945.7 113.8,945.4 115.6,945.2 117.4,945.0 119.3,944.8 121.1,944.6 122.9,944.4 124.8,944.2 126.6,944.1 128.4,943.9 130.2,943.7 132.1,943.6 133.9,943.4 135.7,943.3 137.6,943.2 139.4,943.0 141.2,942.9 143.0,942.8 144.9,942.6 146.7,942.5 148.5,942.3 150.4,942.2 152.2,942.0 154.0,941.9 155.9,941.7 157.7,941.6 159.5,941.4 161.3,941.3 163.2,941.1 165.0,941.0 166.8,940.8 168.7,940.7 170.5,940.5 172.3,940.4 174.2,940.3 176.0,940.1 177.8,940.0 179.6,939.9 181.5,939.7 183.3,939.6 185.1,939.5 187.0,939.4 188.8,939.3 190.6,939.2 192.5,939.1 194.3,939.0 196.1,938.9 197.9,938.8 199.8,938.7 201.6,938.6 203.4,938.5 205.3,938.5 207.1,938.4 208.9,938.3 210.7,938.2 212.6,938.1 214.4,938.0 216.2,938.0 218.1,937.9 219.9,937.8 221.7,937.7 223.6,937.6 225.4,937.6 227.2,937.5 229.0,937.4 230.9,937.4 232.7,937.3 234.5,937.2 236.4,937.2 238.2,937.1 240.0,937.0 241.9,937.0 243.7,936.9 245.5,936.9 247.3,936.8 249.2,936.7 251.0,936.7 252.8,936.6 254.7,936.6 256.5,936.5 258.3,936.5 260.1,936.5 262.0,936.4 263.8,936.4 265.6,936.3 267.5,936.3 269.3,936.3 271.1,936.2 273.0,936.2 274.8,936.2 276.6,936.1 278.4,936.1 280.3,936.1 282.1,936.0 283.9,936.0 285.8,936.0 287.6,935.9 289.4,935.9 291.3,935.9 293.1,935.8 294.9,935.8 296.7,935.8 298.6,935.7 300.4,935.7 302.2,935.7 304.1,935.6 305.9,935.6 307.7,935.6 309.5,935.6 311.4,935.5 313.2,935.5 315.0,935.5 316.9,935.4 318.7,935.4 320.5,935.4 322.4,935.4 324.2,935.3 326.0,935.3 327.8,935.3 329.7,935.3 331.5,935.2 333.3,935.2 335.2,935.2 337.0,935.2 338.8,935.1 340.7,935.1 342.5,935.1 344.3,935.1 346.1,935.0 348.0,935.0 349.8,935.0 351.6,935.0 353.5,935.0 355.3,934.9 357.1,934.9 358.9,934.9 360.8,934.9 362.6,934.9 364.4,934.8 366.3,934.8 368.1,934.8 369.9,934.8 371.8,934.8 373.6,934.7 375.4,934.7 377.2,934.7 379.1,934.7 380.9,934.7 382.7,934.7 384.6,934.6 386.4,934.6 388.2,934.6 390.1,934.6 391.9,934.6 393.7,934.6 395.5,934.6 397.4,934.5 399.2,934.5 401.0,934.5 402.9,934.5 404.7,934.5 406.5,934.5 408.4,934.5 410.2,934.5 412.0,934.4 413.8,934.4 415.7,934.4 417.5,934.4 419.3,934.4 421.2,934.4 423.0,934.4 424.8,934.4 426.6,934.4 428.5,934.4 430.3,934.3 432.1,934.3 434.0,934.3 435.8,934.3 437.6,934.3 439.5,934.3 441.3,934.3 443.1,934.3 444.9,934.3 446.8,934.3 448.6,934.3 450.4,934.3 452.3,934.3 454.1,934.3 455.9,934.3 457.8,934.2 459.6,934.2 461.4,934.2 463.2,934.2 465.1,934.2 466.9,934.2 468.7,934.2 470.6,934.2 472.4,934.2 474.2,934.2 476.0,934.2 477.9,934.2 479.7,934.2 481.5,934.2 483.4,934.2 485.2,934.2 487.0,934.2 488.9,934.2 490.7,934.2 492.5,934.2 494.3,934.2 496.2,934.2 498.0,934.2 499.8,934.2 501.7,934.2 503.5,934.2 505.3,934.2 507.2,934.2 509.0,934.2 510.8,934.2 512.6,934.2 514.5,934.2 516.3,934.2 518.1,934.2 520.0,934.2 521.8,934.2 523.6,934.2 525.4,934.2 527.3,934.3 529.1,934.3 530.9,934.3 532.8,934.3 534.6,934.3 536.4,934.3 538.3,934.3 540.1,934.3 541.9,934.3 543.7,934.3 545.6,934.3 547.4,934.4 549.2,934.4 551.1,934.4 552.9,934.4 554.7,934.4 556.6,934.4 558.4,934.4 560.2,934.4 562.0,934.5 563.9,934.5 565.7,934.5 567.5,934.5 569.4,934.5 571.2,934.5 573.0,934.5 574.9,934.5 576.7,934.6 578.5,934.6 580.3,934.6 582.2,934.6 584.0,934.6 585.8,934.6 587.7,934.6 589.5,934.7 591.3,934.7 593.1,934.7 595.0,934.7 596.8,934.7 598.6,934.7 600.5,934.8 602.3,934.8 604.1,934.8 606.0,934.8 607.8,934.8 609.6,934.8 611.4,934.8 613.3,934.9 615.1,934.9 616.9,934.9 618.8,934.9 620.6,934.9 622.4,934.9 624.3,934.9 626.1,935.0 627.9,935.0 629.7,935.0 631.6,935.0 633.4,935.0" fill="none" stroke="#0a52a2" stroke-width="6.0" stroke-linejoin="round"/>
<polyline points="88.2,948.7 90.0,948.0 91.8,947.4 93.6,946.9 95.5,946.5 97.3,946.1 99.1,945.8 101.0,945.5 102.8,945.2 104.6,945.0 106.5,944.7 108.3,944.5 110.1,944.3 111.9,944.1 113.8,944.0 115.6,943.8 117.4,943.6 119.3,943.5 121.1,943.3 122.9,943.2 124.8,943.1 126.6,942.9 128.4,942.8 130.2,942.7 132.1,942.6 133.9,942.5 135.7,942.4 137.6,942.3 139.4,942.2 141.2,942.1 143.0,942.0 144.9,941.9 146.7,941.8 148.5,941.7 150.4,941.6 152.2,941.5 154.0,941.4 155.9,941.3 157.7,941.2 159.5,941.2 161.3,941.1 163.2,941.0 165.0,940.9 166.8,940.8 168.7,940.7 170.5,940.7 172.3,940.6 174.2,940.5 176.0,940.4 177.8,940.4 179.6,940.3 181.5,940.2 183.3,940.1 185.1,940.1 187.0,940.0 188.8,939.9 190.6,939.9 192.5,939.8 194.3,939.7 196.1,939.7 197.9,939.6 199.8,939.5 201.6,939.5 203.4,939.4 205.3,939.4 207.1,939.3 208.9,939.3 210.7,939.2 212.6,939.2 214.4,939.1 216.2,939.1 218.1,939.0 219.9,939.0 221.7,938.9 223.6,938.9 225.4,938.8 227.2,938.8 229.0,938.7 230.9,938.7 232.7,938.6 234.5,938.6 236.4,938.6 238.2,938.5 240.0,938.5 241.9,938.4 243.7,938.4 245.5,938.4 247.3,938.3 249.2,938.3 251.0,938.2 252.8,938.2 254.7,938.2 256.5,938.1 258.3,938.1 260.1,938.1 262.0,938.0 263.8,938.0 265.6,938.0 267.5,938.0 269.3,937.9 271.1,937.9 273.0,937.9 274.8,937.8 276.6,937.8 278.4,937.8 280.3,937.7 282.1,937.7 283.9,937.7 285.8,937.7 287.6,937.6 289.4,937.6 291.3,937.6 293.1,937.5 294.9,937.5 296.7,937.5 298.6,937.5 300.4,937.4 302.2,937.4 304.1,937.4 305.9,937.3 307.7,937.3 309.5,937.3 311.4,937.3 313.2,937.2 315.0,937.2 316.9,937.2 318.7,937.1 320.5,937.1 322.4,937.1 324.2,937.1 326.0,937.0 327.8,937.0 329.7,937.0 331.5,937.0 333.3,936.9 335.2,936.9 337.0,936.9 338.8,936.9 340.7,936.8 342.5,936.8 344.3,936.8 346.1,936.8 348.0,936.8 349.8,936.7 351.6,936.7 353.5,936.7 355.3,936.7 357.1,936.6 358.9,936.6 360.8,936.6 362.6,936.6 364.4,936.6 366.3,936.5 368.1,936.5 369.9,936.5 371.8,936.5 373.6,936.5 375.4,936.4 377.2,936.4 379.1,936.4 380.9,936.4 382.7,936.4 384.6,936.4 386.4,936.3 388.2,936.3 390.1,936.3 391.9,936.3 393.7,936.3 395.5,936.3 397.4,936.2 399.2,936.2 401.0,936.2 402.9,936.2 404.7,936.2 406.5,936.2 408.4,936.2 410.2,936.1 412.0,936.1 413.8,936.1 415.7,936.1 417.5,936.1 419.3,936.1 421.2,936.1 423.0,936.1 424.8,936.1 426.6,936.0 428.5,936.0 430.3,936.0 432.1,936.0 434.0,936.0 435.8,936.0 437.6,936.0 439.5,936.0 441.3,936.0 443.1,936.0 444.9,936.0 446.8,936.0 448.6,935.9 450.4,935.9 452.3,935.9 454.1,935.9 455.9,935.9 457.8,935.9 459.6,935.9 461.4,935.9 463.2,935.9 465.1,935.9 466.9,935.9 468.7,935.9 470.6,935.9 472.4,935.9 474.2,935.9 476.0,935.9 477.9,935.9 479.7,935.9 481.5,935.9 483.4,935.9 485.2,935.9 487.0,935.9 488.9,935.9 490.7,935.9 492.5,935.9 494.3,935.9 496.2,935.9 498.0,935.9 499.8,935.8 501.7,935.9 503.5,935.9 505.3,935.9 507.2,935.9 509.0,935.9 510.8,935.9 512.6,935.9 514.5,935.9 516.3,935.9 518.1,935.9 520.0,935.9 521.8,935.9 523.6,935.9 525.4,935.9 527.3,935.9 529.1,935.9 530.9,935.9 532.8,935.9 534.6,936.0 536.4,936.0 538.3,936.0 540.1,936.0 541.9,936.0 543.7,936.0 545.6,936.0 547.4,936.0 549.2,936.0 551.1,936.1 552.9,936.1 554.7,936.1 556.6,936.1 558.4,936.1 560.2,936.1 562.0,936.1 563.9,936.2 565.7,936.2 567.5,936.2 569.4,936.2 571.2,936.2 573.0,936.2 574.9,936.2 576.7,936.3 578.5,936.3 580.3,936.3 582.2,936.3 584.0,936.3 585.8,936.3 587.7,936.4 589.5,936.4 591.3,936.4 593.1,936.4 595.0,936.4 596.8,936.4 598.6,936.5 600.5,936.5 602.3,936.5 604.1,936.5 606.0,936.5 607.8,936.5 609.6,936.6 611.4,936.6 613.3,936.6 615.1,936.6 616.9,936.6 618.8,936.6 620.6,936.7 622.4,936.7 624.3,936.7 626.1,936.7 627.9,936.7 629.7,936.7 631.6,936.7 633.4,936.8" fill="none" stroke="#6ea6e2" stroke-width="6.2" stroke-linejoin="round"/>
<polyline points="88.2,922.7 90.0,920.2 91.8,918.3 93.6,916.9 95.5,915.7 97.3,914.7 99.1,913.9 101.0,913.1 102.8,912.4 104.6,911.8 106.5,911.2 108.3,910.7 110.1,910.2 111.9,909.8 113.8,909.3 115.6,908.9 117.4,908.6 119.3,908.2 121.1,907.9 122.9,907.5 124.8,907.2 126.6,906.9 128.4,906.7 130.2,906.4 132.1,906.1 133.9,905.9 135.7,905.6 137.6,905.4 139.4,905.2 141.2,905.0 143.0,904.8 144.9,904.6 146.7,904.4 148.5,904.2 150.4,904.0 152.2,903.8 154.0,903.7 155.9,903.5 157.7,903.3 159.5,903.2 161.3,903.0 163.2,902.9 165.0,902.7 166.8,902.6 168.7,902.4 170.5,902.3 172.3,902.2 174.2,902.0 176.0,901.9 177.8,901.8 179.6,901.7 181.5,901.5 183.3,901.4 185.1,901.3 187.0,901.2 188.8,901.1 190.6,901.0 192.5,900.9 194.3,900.7 196.1,900.6 197.9,900.5 199.8,900.4 201.6,900.3 203.4,900.2 205.3,900.1 207.1,900.0 208.9,899.9 210.7,899.8 212.6,899.7 214.4,899.6 216.2,899.5 218.1,899.4 219.9,899.3 221.7,899.2 223.6,899.1 225.4,899.1 227.2,899.0 229.0,898.9 230.9,898.8 232.7,898.7 234.5,898.6 236.4,898.5 238.2,898.4 240.0,898.3 241.9,898.2 243.7,898.2 245.5,898.1 247.3,898.0 249.2,897.9 251.0,897.8 252.8,897.7 254.7,897.7 256.5,897.6 258.3,897.5 260.1,897.4 262.0,897.3 263.8,897.2 265.6,897.2 267.5,897.1 269.3,897.0 271.1,896.9 273.0,896.8 274.8,896.8 276.6,896.7 278.4,896.6 280.3,896.5 282.1,896.5 283.9,896.4 285.8,896.3 287.6,896.2 289.4,896.2 291.3,896.1 293.1,896.0 294.9,895.9 296.7,895.9 298.6,895.8 300.4,895.7 302.2,895.6 304.1,895.6 305.9,895.5 307.7,895.4 309.5,895.3 311.4,895.3 313.2,895.2 315.0,895.1 316.9,895.1 318.7,895.0 320.5,894.9 322.4,894.8 324.2,894.8 326.0,894.7 327.8,894.6 329.7,894.6 331.5,894.5 333.3,894.4 335.2,894.4 337.0,894.3 338.8,894.2 340.7,894.2 342.5,894.1 344.3,894.0 346.1,894.0 348.0,893.9 349.8,893.8 351.6,893.8 353.5,893.7 355.3,893.7 357.1,893.6 358.9,893.5 360.8,893.5 362.6,893.4 364.4,893.3 366.3,893.3 368.1,893.2 369.9,893.1 371.8,893.1 373.6,893.0 375.4,893.0 377.2,892.9 379.1,892.8 380.9,892.8 382.7,892.7 384.6,892.7 386.4,892.6 388.2,892.5 390.1,892.5 391.9,892.4 393.7,892.4 395.5,892.3 397.4,892.2 399.2,892.2 401.0,892.1 402.9,892.1 404.7,892.0 406.5,892.0 408.4,891.9 410.2,891.8 412.0,891.8 413.8,891.7 415.7,891.7 417.5,891.6 419.3,891.6 421.2,891.5 423.0,891.5 424.8,891.4 426.6,891.3 428.5,891.3 430.3,891.2 432.1,891.2 434.0,891.1 435.8,891.1 437.6,891.0 439.5,891.0 441.3,890.9 443.1,890.9 444.9,890.8 446.8,890.8 448.6,890.7 450.4,890.7 452.3,890.6 454.1,890.5 455.9,890.5 457.8,890.4 459.6,890.4 461.4,890.3 463.2,890.3 465.1,890.2 466.9,890.2 468.7,890.1 470.6,890.1 472.4,890.0 474.2,890.0 476.0,889.9 477.9,889.9 479.7,889.8 481.5,889.8 483.4,889.7 485.2,889.7 487.0,889.6 488.9,889.6 490.7,889.6 492.5,889.5 494.3,889.5 496.2,889.4 498.0,889.4 499.8,889.3 501.7,889.3 503.5,889.2 505.3,889.2 507.2,889.1 509.0,889.1 510.8,889.0 512.6,889.0 514.5,888.9 516.3,888.9 518.1,888.8 520.0,888.8 521.8,888.8 523.6,888.7 525.4,888.7 527.3,888.6 529.1,888.6 530.9,888.5 532.8,888.5 534.6,888.4 536.4,888.4 538.3,888.4 540.1,888.3 541.9,888.3 543.7,888.2 545.6,888.2 547.4,888.1 549.2,888.1 551.1,888.0 552.9,888.0 554.7,888.0 556.6,887.9 558.4,887.9 560.2,887.8 562.0,887.8 563.9,887.7 565.7,887.7 567.5,887.7 569.4,887.6 571.2,887.6 573.0,887.5 574.9,887.5 576.7,887.4 578.5,887.4 580.3,887.4 582.2,887.3 584.0,887.3 585.8,887.2 587.7,887.2 589.5,887.2 591.3,887.1 593.1,887.1 595.0,887.0 596.8,887.0 598.6,887.0 600.5,886.9 602.3,886.9 604.1,886.8 606.0,886.8 607.8,886.8 609.6,886.7 611.4,886.7 613.3,886.6 615.1,886.6 616.9,886.6 618.8,886.5 620.6,886.5 622.4,886.4 624.3,886.4 626.1,886.4 627.9,886.3 629.7,886.3 631.6,886.3 633.4,886.2" fill="none" stroke="#2f8c2a" stroke-width="6.2" stroke-linejoin="round"/>
<polyline points="88.2,884.7 90.0,880.2 91.8,876.6 93.6,873.6 95.5,870.9 97.3,868.5 99.1,866.4 101.0,864.5 102.8,862.8 104.6,861.3 106.5,860.0 108.3,858.8 110.1,857.6 111.9,856.6 113.8,855.6 115.6,854.7 117.4,853.8 119.3,853.0 121.1,852.2 122.9,851.4 124.8,850.7 126.6,850.0 128.4,849.3 130.2,848.6 132.1,848.0 133.9,847.3 135.7,846.7 137.6,846.1 139.4,845.5 141.2,845.0 143.0,844.4 144.9,843.9 146.7,843.3 148.5,842.8 150.4,842.3 152.2,841.7 154.0,841.2 155.9,840.7 157.7,840.2 159.5,839.8 161.3,839.3 163.2,838.8 165.0,838.4 166.8,837.9 168.7,837.5 170.5,837.0 172.3,836.6 174.2,836.2 176.0,835.8 177.8,835.4 179.6,835.0 181.5,834.6 183.3,834.2 185.1,833.8 187.0,833.5 188.8,833.1 190.6,832.8 192.5,832.4 194.3,832.1 196.1,831.7 197.9,831.4 199.8,831.1 201.6,830.7 203.4,830.4 205.3,830.1 207.1,829.8 208.9,829.5 210.7,829.2 212.6,828.9 214.4,828.6 216.2,828.3 218.1,828.1 219.9,827.8 221.7,827.5 223.6,827.2 225.4,827.0 227.2,826.7 229.0,826.5 230.9,826.2 232.7,826.0 234.5,825.7 236.4,825.5 238.2,825.2 240.0,825.0 241.9,824.8 243.7,824.6 245.5,824.3 247.3,824.1 249.2,823.9 251.0,823.7 252.8,823.5 254.7,823.3 256.5,823.1 258.3,822.9 260.1,822.7 262.0,822.5 263.8,822.3 265.6,822.1 267.5,821.9 269.3,821.7 271.1,821.5 273.0,821.4 274.8,821.2 276.6,821.0 278.4,820.8 280.3,820.7 282.1,820.5 283.9,820.3 285.8,820.2 287.6,820.0 289.4,819.9 291.3,819.7 293.1,819.6 294.9,819.4 296.7,819.3 298.6,819.1 300.4,819.0 302.2,818.8 304.1,818.7 305.9,818.5 307.7,818.4 309.5,818.3 311.4,818.1 313.2,818.0 315.0,817.8 316.9,817.7 318.7,817.6 320.5,817.4 322.4,817.3 324.2,817.2 326.0,817.1 327.8,816.9 329.7,816.8 331.5,816.7 333.3,816.6 335.2,816.4 337.0,816.3 338.8,816.2 340.7,816.1 342.5,815.9 344.3,815.8 346.1,815.7 348.0,815.6 349.8,815.5 351.6,815.4 353.5,815.2 355.3,815.1 357.1,815.0 358.9,814.9 360.8,814.8 362.6,814.7 364.4,814.6 366.3,814.4 368.1,814.3 369.9,814.2 371.8,814.1 373.6,814.0 375.4,813.9 377.2,813.8 379.1,813.7 380.9,813.6 382.7,813.5 384.6,813.4 386.4,813.3 388.2,813.1 390.1,813.0 391.9,812.9 393.7,812.8 395.5,812.7 397.4,812.6 399.2,812.5 401.0,812.4 402.9,812.3 404.7,812.2 406.5,812.1 408.4,812.0 410.2,811.9 412.0,811.8 413.8,811.7 415.7,811.6 417.5,811.5 419.3,811.4 421.2,811.3 423.0,811.2 424.8,811.1 426.6,811.0 428.5,810.9 430.3,810.8 432.1,810.7 434.0,810.6 435.8,810.5 437.6,810.4 439.5,810.3 441.3,810.2 443.1,810.1 444.9,810.0 446.8,809.9 448.6,809.8 450.4,809.7 452.3,809.6 454.1,809.5 455.9,809.4 457.8,809.3 459.6,809.2 461.4,809.1 463.2,809.0 465.1,808.9 466.9,808.8 468.7,808.7 470.6,808.6 472.4,808.5 474.2,808.4 476.0,808.3 477.9,808.2 479.7,808.1 481.5,808.0 483.4,807.9 485.2,807.8 487.0,807.8 488.9,807.7 490.7,807.6 492.5,807.5 494.3,807.4 496.2,807.3 498.0,807.2 499.8,807.1 501.7,807.0 503.5,806.9 505.3,806.8 507.2,806.7 509.0,806.6 510.8,806.5 512.6,806.4 514.5,806.3 516.3,806.3 518.1,806.2 520.0,806.1 521.8,806.0 523.6,805.9 525.4,805.8 527.3,805.7 529.1,805.6 530.9,805.5 532.8,805.4 534.6,805.3 536.4,805.3 538.3,805.2 540.1,805.1 541.9,805.0 543.7,804.9 545.6,804.8 547.4,804.7 549.2,804.6 551.1,804.5 552.9,804.5 554.7,804.4 556.6,804.3 558.4,804.2 560.2,804.1 562.0,804.0 563.9,803.9 565.7,803.9 567.5,803.8 569.4,803.7 571.2,803.6 573.0,803.5 574.9,803.4 576.7,803.3 578.5,803.3 580.3,803.2 582.2,803.1 584.0,803.0 585.8,802.9 587.7,802.8 589.5,802.7 591.3,802.7 593.1,802.6 595.0,802.5 596.8,802.4 598.6,802.3 600.5,802.3 602.3,802.2 604.1,802.1 606.0,802.0 607.8,801.9 609.6,801.8 611.4,801.8 613.3,801.7 615.1,801.6 616.9,801.5 618.8,801.4 620.6,801.4 622.4,801.3 624.3,801.2 626.1,801.1 627.9,801.0 629.7,801.0 631.6,800.9 633.4,800.8" fill="none" stroke="#3cb42a" stroke-width="5.8" stroke-linejoin="round"/>
<rect x="84.80" y="898.61" width="5.60" height="5.60" fill="#2f8c2a"/>
<rect x="84.80" y="904.41" width="5.60" height="5.60" fill="#ee2e32"/>
<rect x="84.80" y="907.73" width="5.60" height="5.60" fill="#c01014"/>
<rect x="84.80" y="910.22" width="5.60" height="5.60" fill="#2f8c2a"/>
<g class="oc" stroke="#1a1a1a">
<rect x="85.8" y="1148.3"/>
<rect x="87.6" y="1149.2"/>
<rect x="89.4" y="1150.0"/>
<rect x="91.2" y="1149.5"/>
<rect x="93.1" y="1149.5"/>
<rect x="94.9" y="1149.5"/>
<rect x="96.7" y="1149.5"/>
<rect x="98.6" y="1150.3"/>
<rect x="100.4" y="1150.0"/>
<rect x="102.2" y="1149.4"/>
<rect x="104.1" y="1150.6"/>
<rect x="105.9" y="1150.5"/>
<rect x="107.7" y="1150.5"/>
<rect x="109.5" y="1149.4"/>
<rect x="111.4" y="1150.1"/>
<rect x="113.2" y="1150.5"/>
<rect x="115.0" y="1149.7"/>
<rect x="116.9" y="1149.8"/>
<rect x="118.7" y="1150.0"/>
<rect x="120.5" y="1149.4"/>
<rect x="122.4" y="1150.2"/>
<rect x="124.2" y="1150.5"/>
<rect x="126.0" y="1150.3"/>
<rect x="127.8" y="1150.6"/>
<rect x="129.7" y="1150.1"/>
<rect x="131.5" y="1150.1"/>
<rect x="133.3" y="1150.0"/>
<rect x="135.2" y="1149.9"/>
<rect x="137.0" y="1149.7"/>
<rect x="138.8" y="1149.8"/>
<rect x="140.6" y="1150.1"/>
<rect x="142.5" y="1149.9"/>
<rect x="144.3" y="1150.1"/>
<rect x="146.1" y="1150.1"/>
<rect x="148.0" y="1150.3"/>
<rect x="149.8" y="1149.9"/>
<rect x="151.6" y="1149.3"/>
<rect x="153.5" y="1149.7"/>
<rect x="155.3" y="1150.7"/>
<rect x="157.1" y="1150.2"/>
<rect x="158.9" y="1149.8"/>
<rect x="160.8" y="1149.8"/>
<rect x="162.6" y="1149.9"/>
<rect x="164.4" y="1149.7"/>
<rect x="166.3" y="1149.9"/>
<rect x="168.1" y="1150.0"/>
<rect x="169.9" y="1150.2"/>
<rect x="171.8" y="1149.6"/>
<rect x="173.6" y="1149.6"/>
<rect x="175.4" y="1149.6"/>
<rect x="177.2" y="1149.7"/>
<rect x="179.1" y="1150.0"/>
<rect x="180.9" y="1149.3"/>
<rect x="182.7" y="1150.3"/>
<rect x="184.6" y="1149.7"/>
<rect x="186.4" y="1149.9"/>
<rect x="188.2" y="1149.2"/>
<rect x="190.1" y="1149.3"/>
<rect x="191.9" y="1149.2"/>
<rect x="193.7" y="1149.4"/>
<rect x="195.5" y="1148.7"/>
<rect x="197.4" y="1149.5"/>
<rect x="199.2" y="1148.7"/>
<rect x="201.0" y="1149.4"/>
<rect x="202.9" y="1149.6"/>
<rect x="204.7" y="1149.2"/>
<rect x="206.5" y="1149.2"/>
<rect x="208.3" y="1149.1"/>
<rect x="210.2" y="1149.1"/>
<rect x="212.0" y="1149.2"/>
<rect x="213.8" y="1149.4"/>
<rect x="215.7" y="1149.3"/>
<rect x="217.5" y="1149.6"/>
<rect x="219.3" y="1149.1"/>
<rect x="221.2" y="1148.9"/>
<rect x="223.0" y="1148.9"/>
<rect x="224.8" y="1148.6"/>
<rect x="226.6" y="1148.8"/>
<rect x="228.5" y="1148.8"/>
<rect x="230.3" y="1149.6"/>
<rect x="232.1" y="1149.1"/>
<rect x="234.0" y="1149.5"/>
<rect x="235.8" y="1148.2"/>
<rect x="237.6" y="1149.0"/>
<rect x="239.5" y="1149.2"/>
<rect x="241.3" y="1148.9"/>
<rect x="243.1" y="1148.7"/>
<rect x="244.9" y="1148.9"/>
<rect x="246.8" y="1148.8"/>
<rect x="248.6" y="1148.8"/>
<rect x="250.4" y="1148.8"/>
<rect x="252.3" y="1149.1"/>
<rect x="254.1" y="1148.8"/>
<rect x="255.9" y="1148.8"/>
<rect x="257.7" y="1148.7"/>
<rect x="259.6" y="1148.8"/>
<rect x="261.4" y="1148.4"/>
<rect x="263.2" y="1148.9"/>
<rect x="265.1" y="1148.5"/>
<rect x="266.9" y="1148.9"/>
<rect x="268.7" y="1148.4"/>
<rect x="270.6" y="1148.6"/>
<rect x="272.4" y="1148.5"/>
<rect x="274.2" y="1148.2"/>
<rect x="276.0" y="1148.9"/>
<rect x="277.9" y="1148.7"/>
<rect x="279.7" y="1148.6"/>
<rect x="281.5" y="1149.0"/>
<rect x="283.4" y="1148.4"/>
<rect x="285.2" y="1148.5"/>
<rect x="287.0" y="1148.9"/>
<rect x="288.9" y="1149.4"/>
<rect x="290.7" y="1148.5"/>
<rect x="292.5" y="1149.0"/>
<rect x="294.3" y="1148.5"/>
<rect x="296.2" y="1148.2"/>
<rect x="298.0" y="1148.6"/>
<rect x="299.8" y="1148.9"/>
<rect x="301.7" y="1148.5"/>
<rect x="303.5" y="1148.6"/>
<rect x="305.3" y="1148.0"/>
<rect x="307.1" y="1147.6"/>
<rect x="309.0" y="1148.5"/>
<rect x="310.8" y="1147.9"/>
<rect x="312.6" y="1148.3"/>
<rect x="314.5" y="1148.1"/>
<rect x="316.3" y="1148.4"/>
<rect x="318.1" y="1148.6"/>
<rect x="320.0" y="1147.7"/>
<rect x="321.8" y="1148.2"/>
<rect x="323.6" y="1148.2"/>
<rect x="325.4" y="1148.7"/>
<rect x="327.3" y="1148.3"/>
<rect x="329.1" y="1148.0"/>
<rect x="330.9" y="1148.0"/>
<rect x="332.8" y="1148.9"/>
<rect x="334.6" y="1147.9"/>
<rect x="336.4" y="1148.2"/>
<rect x="338.3" y="1148.3"/>
<rect x="340.1" y="1147.8"/>
<rect x="341.9" y="1147.9"/>
<rect x="343.7" y="1147.5"/>
<rect x="345.6" y="1147.9"/>
<rect x="347.4" y="1148.4"/>
<rect x="349.2" y="1148.2"/>
<rect x="351.1" y="1147.5"/>
<rect x="352.9" y="1148.7"/>
<rect x="354.7" y="1147.7"/>
<rect x="356.6" y="1147.8"/>
<rect x="358.4" y="1148.7"/>
<rect x="360.2" y="1148.3"/>
<rect x="362.0" y="1148.1"/>
<rect x="363.9" y="1148.6"/>
<rect x="365.7" y="1148.1"/>
<rect x="367.5" y="1148.2"/>
<rect x="369.4" y="1147.9"/>
<rect x="371.2" y="1148.0"/>
<rect x="373.0" y="1148.0"/>
<rect x="374.8" y="1148.5"/>
<rect x="376.7" y="1147.8"/>
<rect x="378.5" y="1148.0"/>
<rect x="380.3" y="1147.3"/>
<rect x="382.2" y="1147.4"/>
<rect x="384.0" y="1148.3"/>
<rect x="385.8" y="1147.9"/>
<rect x="387.7" y="1147.9"/>
<rect x="389.5" y="1148.2"/>
<rect x="391.3" y="1147.9"/>
<rect x="393.1" y="1148.0"/>
<rect x="395.0" y="1147.9"/>
<rect x="396.8" y="1147.3"/>
<rect x="398.6" y="1148.2"/>
<rect x="400.5" y="1148.5"/>
<rect x="402.3" y="1148.4"/>
<rect x="404.1" y="1148.0"/>
<rect x="406.0" y="1148.0"/>
<rect x="407.8" y="1148.1"/>
<rect x="409.6" y="1148.4"/>
<rect x="411.4" y="1148.3"/>
<rect x="413.3" y="1147.8"/>
<rect x="415.1" y="1147.9"/>
<rect x="416.9" y="1147.8"/>
<rect x="418.8" y="1147.7"/>
<rect x="420.6" y="1147.7"/>
<rect x="422.4" y="1147.8"/>
<rect x="424.2" y="1147.0"/>
<rect x="426.1" y="1148.0"/>
<rect x="427.9" y="1147.7"/>
<rect x="429.7" y="1147.4"/>
<rect x="431.6" y="1147.8"/>
<rect x="433.4" y="1147.6"/>
<rect x="435.2" y="1148.2"/>
<rect x="437.1" y="1147.4"/>
<rect x="438.9" y="1147.8"/>
<rect x="440.7" y="1147.9"/>
<rect x="442.5" y="1147.5"/>
<rect x="444.4" y="1147.3"/>
<rect x="446.2" y="1147.9"/>
<rect x="448.0" y="1147.6"/>
<rect x="449.9" y="1147.4"/>
<rect x="451.7" y="1147.2"/>
<rect x="453.5" y="1147.9"/>
<rect x="455.4" y="1148.2"/>
<rect x="457.2" y="1147.5"/>
<rect x="459.0" y="1147.9"/>
<rect x="460.8" y="1148.1"/>
<rect x="462.7" y="1148.0"/>
<rect x="464.5" y="1147.5"/>
<rect x="466.3" y="1147.9"/>
<rect x="468.2" y="1147.9"/>
<rect x="470.0" y="1148.6"/>
<rect x="471.8" y="1147.7"/>
<rect x="473.6" y="1148.0"/>
<rect x="475.5" y="1147.9"/>
<rect x="477.3" y="1147.9"/>
<rect x="479.1" y="1147.3"/>
<rect x="481.0" y="1147.7"/>
<rect x="482.8" y="1148.2"/>
<rect x="484.6" y="1147.5"/>
<rect x="486.5" y="1147.7"/>
<rect x="488.3" y="1147.4"/>
<rect x="490.1" y="1147.7"/>
<rect x="491.9" y="1147.7"/>
<rect x="493.8" y="1147.8"/>
<rect x="495.6" y="1147.5"/>
<rect x="497.4" y="1147.4"/>
<rect x="499.3" y="1147.4"/>
<rect x="501.1" y="1147.7"/>
<rect x="502.9" y="1147.6"/>
<rect x="504.8" y="1148.3"/>
<rect x="506.6" y="1147.3"/>
<rect x="508.4" y="1147.8"/>
<rect x="510.2" y="1147.4"/>
<rect x="512.1" y="1147.4"/>
<rect x="513.9" y="1147.9"/>
<rect x="515.7" y="1147.7"/>
<rect x="517.6" y="1147.7"/>
<rect x="519.4" y="1147.0"/>
<rect x="521.2" y="1148.4"/>
<rect x="523.0" y="1148.2"/>
<rect x="524.9" y="1147.2"/>
<rect x="526.7" y="1147.0"/>
<rect x="528.5" y="1147.2"/>
<rect x="530.4" y="1147.5"/>
<rect x="532.2" y="1147.1"/>
<rect x="534.0" y="1147.5"/>
<rect x="535.9" y="1147.2"/>
<rect x="537.7" y="1148.4"/>
<rect x="539.5" y="1147.3"/>
<rect x="541.3" y="1147.2"/>
<rect x="543.2" y="1148.1"/>
<rect x="545.0" y="1147.5"/>
<rect x="546.8" y="1147.4"/>
<rect x="548.7" y="1147.4"/>
<rect x="550.5" y="1147.5"/>
<rect x="552.3" y="1147.2"/>
<rect x="554.2" y="1147.4"/>
<rect x="556.0" y="1147.1"/>
<rect x="557.8" y="1146.9"/>
<rect x="559.6" y="1147.2"/>
<rect x="561.5" y="1147.4"/>
<rect x="563.3" y="1147.8"/>
<rect x="565.1" y="1147.4"/>
<rect x="567.0" y="1147.2"/>
<rect x="568.8" y="1147.3"/>
<rect x="570.6" y="1147.5"/>
<rect x="572.5" y="1146.5"/>
<rect x="574.3" y="1147.1"/>
<rect x="576.1" y="1146.5"/>
<rect x="577.9" y="1146.6"/>
<rect x="579.8" y="1147.0"/>
<rect x="581.6" y="1147.2"/>
<rect x="583.4" y="1147.2"/>
<rect x="585.3" y="1147.2"/>
<rect x="587.1" y="1147.6"/>
<rect x="588.9" y="1147.3"/>
<rect x="590.7" y="1147.3"/>
<rect x="592.6" y="1147.1"/>
<rect x="594.4" y="1147.8"/>
<rect x="596.2" y="1147.6"/>
<rect x="598.1" y="1146.9"/>
<rect x="599.9" y="1146.9"/>
<rect x="601.7" y="1147.4"/>
<rect x="603.6" y="1147.5"/>
<rect x="605.4" y="1147.0"/>
<rect x="607.2" y="1147.5"/>
<rect x="609.0" y="1146.7"/>
<rect x="610.9" y="1147.0"/>
<rect x="612.7" y="1147.4"/>
<rect x="614.5" y="1146.9"/>
<rect x="616.4" y="1147.1"/>
<rect x="618.2" y="1147.0"/>
<rect x="620.0" y="1147.0"/>
<rect x="621.9" y="1146.4"/>
<rect x="623.7" y="1146.9"/>
<rect x="625.5" y="1147.1"/>
<rect x="627.3" y="1147.1"/>
<rect x="629.2" y="1147.3"/>
<rect x="631.0" y="1147.3"/>
</g>
<g class="oc" stroke="#c41c22">
<rect x="85.8" y="1107.5"/>
<rect x="87.6" y="1107.7"/>
<rect x="89.4" y="1108.5"/>
<rect x="91.2" y="1108.3"/>
<rect x="93.1" y="1108.0"/>
<rect x="94.9" y="1108.0"/>
<rect x="96.7" y="1108.4"/>
<rect x="98.6" y="1108.4"/>
<rect x="100.4" y="1108.1"/>
<rect x="102.2" y="1108.2"/>
<rect x="104.1" y="1108.1"/>
<rect x="105.9" y="1108.1"/>
<rect x="107.7" y="1108.7"/>
<rect x="109.5" y="1107.7"/>
<rect x="111.4" y="1108.4"/>
<rect x="113.2" y="1107.8"/>
<rect x="115.0" y="1107.9"/>
<rect x="116.9" y="1108.4"/>
<rect x="118.7" y="1107.7"/>
<rect x="120.5" y="1107.8"/>
<rect x="122.4" y="1107.7"/>
<rect x="124.2" y="1107.9"/>
<rect x="126.0" y="1108.2"/>
<rect x="127.8" y="1108.5"/>
<rect x="129.7" y="1107.9"/>
<rect x="131.5" y="1108.4"/>
<rect x="133.3" y="1107.7"/>
<rect x="135.2" y="1108.8"/>
<rect x="137.0" y="1108.0"/>
<rect x="138.8" y="1107.9"/>
<rect x="140.6" y="1108.2"/>
<rect x="142.5" y="1108.1"/>
<rect x="144.3" y="1108.0"/>
<rect x="146.1" y="1107.5"/>
<rect x="148.0" y="1108.3"/>
<rect x="149.8" y="1108.3"/>
<rect x="151.6" y="1107.9"/>
<rect x="153.5" y="1107.6"/>
<rect x="155.3" y="1108.1"/>
<rect x="157.1" y="1108.3"/>
<rect x="158.9" y="1107.3"/>
<rect x="160.8" y="1107.5"/>
<rect x="162.6" y="1107.9"/>
<rect x="164.4" y="1107.5"/>
<rect x="166.3" y="1107.7"/>
<rect x="168.1" y="1107.7"/>
<rect x="169.9" y="1108.0"/>
<rect x="171.8" y="1108.0"/>
<rect x="173.6" y="1108.0"/>
<rect x="175.4" y="1107.9"/>
<rect x="177.2" y="1107.4"/>
<rect x="179.1" y="1106.7"/>
<rect x="180.9" y="1107.6"/>
<rect x="182.7" y="1107.7"/>
<rect x="184.6" y="1107.6"/>
<rect x="186.4" y="1107.2"/>
<rect x="188.2" y="1108.1"/>
<rect x="190.1" y="1106.8"/>
<rect x="191.9" y="1107.6"/>
<rect x="193.7" y="1107.5"/>
<rect x="195.5" y="1107.6"/>
<rect x="197.4" y="1107.7"/>
<rect x="199.2" y="1107.4"/>
<rect x="201.0" y="1107.3"/>
<rect x="202.9" y="1107.0"/>
<rect x="204.7" y="1107.4"/>
<rect x="206.5" y="1107.2"/>
<rect x="208.3" y="1107.3"/>
<rect x="210.2" y="1106.6"/>
<rect x="212.0" y="1106.4"/>
<rect x="213.8" y="1106.9"/>
<rect x="215.7" y="1107.1"/>
<rect x="217.5" y="1106.3"/>
<rect x="219.3" y="1106.5"/>
<rect x="221.2" y="1106.7"/>
<rect x="223.0" y="1106.9"/>
<rect x="224.8" y="1106.8"/>
<rect x="226.6" y="1107.0"/>
<rect x="228.5" y="1106.6"/>
<rect x="230.3" y="1106.8"/>
<rect x="232.1" y="1107.1"/>
<rect x="234.0" y="1106.5"/>
<rect x="235.8" y="1107.3"/>
<rect x="237.6" y="1106.4"/>
<rect x="239.5" y="1106.5"/>
<rect x="241.3" y="1105.8"/>
<rect x="243.1" y="1106.4"/>
<rect x="244.9" y="1106.2"/>
<rect x="246.8" y="1106.2"/>
<rect x="248.6" y="1106.4"/>
<rect x="250.4" y="1105.9"/>
<rect x="252.3" y="1106.4"/>
<rect x="254.1" y="1105.6"/>
<rect x="255.9" y="1106.1"/>
<rect x="257.7" y="1106.7"/>
<rect x="259.6" y="1106.2"/>
<rect x="261.4" y="1106.4"/>
<rect x="263.2" y="1105.8"/>
<rect x="265.1" y="1105.7"/>
<rect x="266.9" y="1106.5"/>
<rect x="268.7" y="1106.4"/>
<rect x="270.6" y="1106.3"/>
<rect x="272.4" y="1106.0"/>
<rect x="274.2" y="1106.4"/>
<rect x="276.0" y="1105.8"/>
<rect x="277.9" y="1106.1"/>
<rect x="279.7" y="1106.1"/>
<rect x="281.5" y="1105.5"/>
<rect x="283.4" y="1106.3"/>
<rect x="285.2" y="1105.8"/>
<rect x="287.0" y="1106.0"/>
<rect x="288.9" y="1105.2"/>
<rect x="290.7" y="1105.2"/>
<rect x="292.5" y="1105.5"/>
<rect x="294.3" y="1105.7"/>
<rect x="296.2" y="1105.9"/>
<rect x="298.0" y="1105.6"/>
<rect x="299.8" y="1105.4"/>
<rect x="301.7" y="1105.6"/>
<rect x="303.5" y="1105.3"/>
<rect x="305.3" y="1105.4"/>
<rect x="307.1" y="1105.4"/>
<rect x="309.0" y="1105.0"/>
<rect x="310.8" y="1105.3"/>
<rect x="312.6" y="1104.6"/>
<rect x="314.5" y="1104.8"/>
<rect x="316.3" y="1105.3"/>
<rect x="318.1" y="1104.8"/>
<rect x="320.0" y="1105.1"/>
<rect x="321.8" y="1105.0"/>
<rect x="323.6" y="1104.8"/>
<rect x="325.4" y="1105.3"/>
<rect x="327.3" y="1104.9"/>
<rect x="329.1" y="1104.5"/>
<rect x="330.9" y="1104.5"/>
<rect x="332.8" y="1104.7"/>
<rect x="334.6" y="1104.1"/>
<rect x="336.4" y="1105.0"/>
<rect x="338.3" y="1104.5"/>
<rect x="340.1" y="1103.9"/>
<rect x="341.9" y="1104.1"/>
<rect x="343.7" y="1104.9"/>
<rect x="345.6" y="1104.4"/>
<rect x="347.4" y="1105.0"/>
<rect x="349.2" y="1104.3"/>
<rect x="351.1" y="1104.4"/>
<rect x="352.9" y="1104.8"/>
<rect x="354.7" y="1104.9"/>
<rect x="356.6" y="1103.8"/>
<rect x="358.4" y="1104.3"/>
<rect x="360.2" y="1103.6"/>
<rect x="362.0" y="1103.8"/>
<rect x="363.9" y="1103.3"/>
<rect x="365.7" y="1104.1"/>
<rect x="367.5" y="1103.5"/>
<rect x="369.4" y="1103.5"/>
<rect x="371.2" y="1104.4"/>
<rect x="373.0" y="1104.0"/>
<rect x="374.8" y="1103.6"/>
<rect x="376.7" y="1103.0"/>
<rect x="378.5" y="1103.7"/>
<rect x="380.3" y="1102.8"/>
<rect x="382.2" y="1103.2"/>
<rect x="384.0" y="1103.7"/>
<rect x="385.8" y="1103.7"/>
<rect x="387.7" y="1103.5"/>
<rect x="389.5" y="1103.7"/>
<rect x="391.3" y="1103.4"/>
<rect x="393.1" y="1103.0"/>
<rect x="395.0" y="1103.3"/>
<rect x="396.8" y="1103.8"/>
<rect x="398.6" y="1103.2"/>
<rect x="400.5" y="1103.3"/>
<rect x="402.3" y="1103.3"/>
<rect x="404.1" y="1102.6"/>
<rect x="406.0" y="1102.7"/>
<rect x="407.8" y="1102.5"/>
<rect x="409.6" y="1103.1"/>
<rect x="411.4" y="1102.8"/>
<rect x="413.3" y="1102.5"/>
<rect x="415.1" y="1102.5"/>
<rect x="416.9" y="1103.1"/>
<rect x="418.8" y="1103.1"/>
<rect x="420.6" y="1103.0"/>
<rect x="422.4" y="1102.8"/>
<rect x="424.2" y="1102.9"/>
<rect x="426.1" y="1102.7"/>
<rect x="427.9" y="1102.8"/>
<rect x="429.7" y="1102.5"/>
<rect x="431.6" y="1102.3"/>
<rect x="433.4" y="1102.4"/>
<rect x="435.2" y="1102.7"/>
<rect x="437.1" y="1103.1"/>
<rect x="438.9" y="1102.2"/>
<rect x="440.7" y="1102.1"/>
<rect x="442.5" y="1102.7"/>
<rect x="444.4" y="1102.7"/>
<rect x="446.2" y="1102.2"/>
<rect x="448.0" y="1102.2"/>
<rect x="449.9" y="1102.2"/>
<rect x="451.7" y="1102.5"/>
<rect x="453.5" y="1103.4"/>
<rect x="455.4" y="1102.1"/>
<rect x="457.2" y="1102.4"/>
<rect x="459.0" y="1102.1"/>
<rect x="460.8" y="1102.3"/>
<rect x="462.7" y="1102.4"/>
<rect x="464.5" y="1102.3"/>
<rect x="466.3" y="1101.8"/>
<rect x="468.2" y="1101.8"/>
<rect x="470.0" y="1102.5"/>
<rect x="471.8" y="1102.2"/>
<rect x="473.6" y="1102.2"/>
<rect x="475.5" y="1102.3"/>
<rect x="477.3" y="1101.8"/>
<rect x="479.1" y="1102.5"/>
<rect x="481.0" y="1101.8"/>
<rect x="482.8" y="1101.7"/>
<rect x="484.6" y="1101.7"/>
<rect x="486.5" y="1101.9"/>
<rect x="488.3" y="1102.9"/>
<rect x="490.1" y="1102.0"/>
<rect x="491.9" y="1102.0"/>
<rect x="493.8" y="1102.5"/>
<rect x="495.6" y="1101.8"/>
<rect x="497.4" y="1101.4"/>
<rect x="499.3" y="1101.7"/>
<rect x="501.1" y="1101.7"/>
<rect x="502.9" y="1101.3"/>
<rect x="504.8" y="1101.8"/>
<rect x="506.6" y="1101.9"/>
<rect x="508.4" y="1102.5"/>
<rect x="510.2" y="1102.1"/>
<rect x="512.1" y="1101.8"/>
<rect x="513.9" y="1101.6"/>
<rect x="515.7" y="1101.5"/>
<rect x="517.6" y="1101.1"/>
<rect x="519.4" y="1101.7"/>
<rect x="521.2" y="1101.0"/>
<rect x="523.0" y="1101.7"/>
<rect x="524.9" y="1102.3"/>
<rect x="526.7" y="1101.6"/>
<rect x="528.5" y="1101.8"/>
<rect x="530.4" y="1101.4"/>
<rect x="532.2" y="1101.0"/>
<rect x="534.0" y="1101.7"/>
<rect x="535.9" y="1101.6"/>
<rect x="537.7" y="1101.8"/>
<rect x="539.5" y="1101.7"/>
<rect x="541.3" y="1101.8"/>
<rect x="543.2" y="1101.4"/>
<rect x="545.0" y="1101.8"/>
<rect x="546.8" y="1101.9"/>
<rect x="548.7" y="1101.4"/>
<rect x="550.5" y="1101.5"/>
<rect x="552.3" y="1101.9"/>
<rect x="554.2" y="1101.7"/>
<rect x="556.0" y="1101.5"/>
<rect x="557.8" y="1101.0"/>
<rect x="559.6" y="1101.4"/>
<rect x="561.5" y="1102.0"/>
<rect x="563.3" y="1101.4"/>
<rect x="565.1" y="1101.4"/>
<rect x="567.0" y="1101.2"/>
<rect x="568.8" y="1101.5"/>
<rect x="570.6" y="1101.5"/>
<rect x="572.5" y="1101.6"/>
<rect x="574.3" y="1101.3"/>
<rect x="576.1" y="1101.1"/>
<rect x="577.9" y="1102.2"/>
<rect x="579.8" y="1101.5"/>
<rect x="581.6" y="1101.2"/>
<rect x="583.4" y="1101.4"/>
<rect x="585.3" y="1101.6"/>
<rect x="587.1" y="1101.8"/>
<rect x="588.9" y="1101.5"/>
<rect x="590.7" y="1101.3"/>
<rect x="592.6" y="1101.6"/>
<rect x="594.4" y="1100.9"/>
<rect x="596.2" y="1101.1"/>
<rect x="598.1" y="1101.8"/>
<rect x="599.9" y="1101.5"/>
<rect x="601.7" y="1101.4"/>
<rect x="603.6" y="1101.2"/>
<rect x="605.4" y="1101.0"/>
<rect x="607.2" y="1101.4"/>
<rect x="609.0" y="1101.4"/>
<rect x="610.9" y="1101.9"/>
<rect x="612.7" y="1101.1"/>
<rect x="614.5" y="1101.3"/>
<rect x="616.4" y="1101.2"/>
<rect x="618.2" y="1101.0"/>
<rect x="620.0" y="1101.9"/>
<rect x="621.9" y="1101.8"/>
<rect x="623.7" y="1101.4"/>
<rect x="625.5" y="1100.8"/>
<rect x="627.3" y="1101.4"/>
<rect x="629.2" y="1101.5"/>
<rect x="631.0" y="1101.1"/>
</g>
<g class="oc" stroke="#e84448">
<rect x="85.8" y="1105.3"/>
<rect x="87.6" y="1107.6"/>
<rect x="89.4" y="1107.3"/>
<rect x="91.2" y="1108.7"/>
<rect x="93.1" y="1108.6"/>
<rect x="94.9" y="1109.0"/>
<rect x="96.7" y="1109.8"/>
<rect x="98.6" y="1109.3"/>
<rect x="100.4" y="1109.7"/>
<rect x="102.2" y="1110.0"/>
<rect x="104.1" y="1110.6"/>
<rect x="105.9" y="1110.6"/>
<rect x="107.7" y="1110.4"/>
<rect x="109.5" y="1110.1"/>
<rect x="111.4" y="1111.0"/>
<rect x="113.2" y="1110.5"/>
<rect x="115.0" y="1110.8"/>
<rect x="116.9" y="1110.1"/>
<rect x="118.7" y="1110.8"/>
<rect x="120.5" y="1111.1"/>
<rect x="122.4" y="1110.8"/>
<rect x="124.2" y="1111.2"/>
<rect x="126.0" y="1111.5"/>
<rect x="127.8" y="1111.6"/>
<rect x="129.7" y="1110.9"/>
<rect x="131.5" y="1110.6"/>
<rect x="133.3" y="1110.3"/>
<rect x="135.2" y="1111.0"/>
<rect x="137.0" y="1110.6"/>
<rect x="138.8" y="1111.3"/>
<rect x="140.6" y="1110.5"/>
<rect x="142.5" y="1111.6"/>
<rect x="144.3" y="1111.3"/>
<rect x="146.1" y="1110.7"/>
<rect x="148.0" y="1111.4"/>
<rect x="149.8" y="1111.5"/>
<rect x="151.6" y="1111.5"/>
<rect x="153.5" y="1111.3"/>
<rect x="155.3" y="1111.5"/>
<rect x="157.1" y="1111.5"/>
<rect x="158.9" y="1111.2"/>
<rect x="160.8" y="1111.4"/>
<rect x="162.6" y="1110.9"/>
<rect x="164.4" y="1111.6"/>
<rect x="166.3" y="1110.9"/>
<rect x="168.1" y="1111.3"/>
<rect x="169.9" y="1111.0"/>
<rect x="171.8" y="1111.7"/>
<rect x="173.6" y="1111.5"/>
<rect x="175.4" y="1111.1"/>
<rect x="177.2" y="1111.5"/>
<rect x="179.1" y="1111.4"/>
<rect x="180.9" y="1111.7"/>
<rect x="182.7" y="1111.5"/>
<rect x="184.6" y="1111.4"/>
<rect x="186.4" y="1111.4"/>
<rect x="188.2" y="1110.9"/>
<rect x="190.1" y="1111.6"/>
<rect x="191.9" y="1111.7"/>
<rect x="193.7" y="1111.1"/>
<rect x="195.5" y="1111.7"/>
<rect x="197.4" y="1111.9"/>
<rect x="199.2" y="1111.8"/>
<rect x="201.0" y="1111.9"/>
<rect x="202.9" y="1111.8"/>
<rect x="204.7" y="1111.4"/>
<rect x="206.5" y="1112.3"/>
<rect x="208.3" y="1111.6"/>
<rect x="210.2" y="1111.3"/>
<rect x="212.0" y="1112.1"/>
<rect x="213.8" y="1111.3"/>
<rect x="215.7" y="1111.9"/>
<rect x="217.5" y="1111.3"/>
<rect x="219.3" y="1112.0"/>
<rect x="221.2" y="1112.0"/>
<rect x="223.0" y="1111.4"/>
<rect x="224.8" y="1111.8"/>
<rect x="226.6" y="1111.8"/>
<rect x="228.5" y="1111.6"/>
<rect x="230.3" y="1111.8"/>
<rect x="232.1" y="1111.6"/>
<rect x="234.0" y="1111.4"/>
<rect x="235.8" y="1111.3"/>
<rect x="237.6" y="1111.7"/>
<rect x="239.5" y="1111.8"/>
<rect x="241.3" y="1111.9"/>
<rect x="243.1" y="1111.8"/>
<rect x="244.9" y="1111.9"/>
<rect x="246.8" y="1111.5"/>
<rect x="248.6" y="1112.2"/>
<rect x="250.4" y="1111.4"/>
<rect x="252.3" y="1111.9"/>
<rect x="254.1" y="1111.6"/>
<rect x="255.9" y="1111.5"/>
<rect x="257.7" y="1112.3"/>
<rect x="259.6" y="1111.8"/>
<rect x="261.4" y="1111.3"/>
<rect x="263.2" y="1111.8"/>
<rect x="265.1" y="1111.5"/>
<rect x="266.9" y="1112.3"/>
<rect x="268.7" y="1111.4"/>
<rect x="270.6" y="1111.7"/>
<rect x="272.4" y="1111.4"/>
<rect x="274.2" y="1111.4"/>
<rect x="276.0" y="1111.8"/>
<rect x="277.9" y="1111.9"/>
<rect x="279.7" y="1111.9"/>
<rect x="281.5" y="1111.4"/>
<rect x="283.4" y="1111.2"/>
<rect x="285.2" y="1111.5"/>
<rect x="287.0" y="1111.2"/>
<rect x="288.9" y="1111.8"/>
<rect x="290.7" y="1110.7"/>
<rect x="292.5" y="1111.3"/>
<rect x="294.3" y="1110.6"/>
<rect x="296.2" y="1110.6"/>
<rect x="298.0" y="1110.3"/>
<rect x="299.8" y="1110.4"/>
<rect x="301.7" y="1110.9"/>
<rect x="303.5" y="1110.4"/>
<rect x="305.3" y="1110.2"/>
<rect x="307.1" y="1110.0"/>
<rect x="309.0" y="1110.0"/>
<rect x="310.8" y="1110.1"/>
<rect x="312.6" y="1110.5"/>
<rect x="314.5" y="1110.1"/>
<rect x="316.3" y="1110.0"/>
<rect x="318.1" y="1109.8"/>
<rect x="320.0" y="1110.0"/>
<rect x="321.8" y="1109.4"/>
<rect x="323.6" y="1109.7"/>
<rect x="325.4" y="1109.1"/>
<rect x="327.3" y="1109.0"/>
<rect x="329.1" y="1109.5"/>
<rect x="330.9" y="1109.2"/>
<rect x="332.8" y="1109.0"/>
<rect x="334.6" y="1108.6"/>
<rect x="336.4" y="1109.0"/>
<rect x="338.3" y="1109.5"/>
<rect x="340.1" y="1108.9"/>
<rect x="341.9" y="1108.8"/>
<rect x="343.7" y="1108.4"/>
<rect x="345.6" y="1108.8"/>
<rect x="347.4" y="1108.1"/>
<rect x="349.2" y="1109.2"/>
<rect x="351.1" y="1108.2"/>
<rect x="352.9" y="1108.0"/>
<rect x="354.7" y="1108.3"/>
<rect x="356.6" y="1107.4"/>
<rect x="358.4" y="1107.4"/>
<rect x="360.2" y="1107.3"/>
<rect x="362.0" y="1107.4"/>
<rect x="363.9" y="1108.0"/>
<rect x="365.7" y="1106.9"/>
<rect x="367.5" y="1108.0"/>
<rect x="369.4" y="1107.4"/>
<rect x="371.2" y="1107.5"/>
<rect x="373.0" y="1107.0"/>
<rect x="374.8" y="1106.3"/>
<rect x="376.7" y="1106.3"/>
<rect x="378.5" y="1107.1"/>
<rect x="380.3" y="1106.4"/>
<rect x="382.2" y="1106.6"/>
<rect x="384.0" y="1106.4"/>
<rect x="385.8" y="1106.8"/>
<rect x="387.7" y="1106.6"/>
<rect x="389.5" y="1106.2"/>
<rect x="391.3" y="1106.0"/>
<rect x="393.1" y="1106.3"/>
<rect x="395.0" y="1105.5"/>
<rect x="396.8" y="1105.5"/>
<rect x="398.6" y="1105.2"/>
<rect x="400.5" y="1105.3"/>
<rect x="402.3" y="1105.0"/>
<rect x="404.1" y="1105.7"/>
<rect x="406.0" y="1105.3"/>
<rect x="407.8" y="1105.9"/>
<rect x="409.6" y="1105.1"/>
<rect x="411.4" y="1105.2"/>
<rect x="413.3" y="1104.9"/>
<rect x="415.1" y="1105.3"/>
<rect x="416.9" y="1105.1"/>
<rect x="418.8" y="1104.8"/>
<rect x="420.6" y="1104.9"/>
<rect x="422.4" y="1104.5"/>
<rect x="424.2" y="1104.5"/>
<rect x="426.1" y="1104.3"/>
<rect x="427.9" y="1104.8"/>
<rect x="429.7" y="1104.2"/>
<rect x="431.6" y="1104.1"/>
<rect x="433.4" y="1104.7"/>
<rect x="435.2" y="1104.3"/>
<rect x="437.1" y="1103.8"/>
<rect x="438.9" y="1103.8"/>
<rect x="440.7" y="1103.9"/>
<rect x="442.5" y="1103.7"/>
<rect x="444.4" y="1104.0"/>
<rect x="446.2" y="1103.6"/>
<rect x="448.0" y="1103.5"/>
<rect x="449.9" y="1104.2"/>
<rect x="451.7" y="1104.4"/>
<rect x="453.5" y="1104.3"/>
<rect x="455.4" y="1103.6"/>
<rect x="457.2" y="1103.9"/>
<rect x="459.0" y="1103.6"/>
<rect x="460.8" y="1104.3"/>
<rect x="462.7" y="1103.7"/>
<rect x="464.5" y="1103.8"/>
<rect x="466.3" y="1104.2"/>
<rect x="468.2" y="1104.0"/>
<rect x="470.0" y="1103.6"/>
<rect x="471.8" y="1103.1"/>
<rect x="473.6" y="1103.3"/>
<rect x="475.5" y="1103.0"/>
<rect x="477.3" y="1104.0"/>
<rect x="479.1" y="1103.3"/>
<rect x="481.0" y="1103.6"/>
<rect x="482.8" y="1103.4"/>
<rect x="484.6" y="1103.1"/>
<rect x="486.5" y="1103.4"/>
<rect x="488.3" y="1103.4"/>
<rect x="490.1" y="1103.3"/>
<rect x="491.9" y="1103.3"/>
<rect x="493.8" y="1103.4"/>
<rect x="495.6" y="1102.9"/>
<rect x="497.4" y="1103.2"/>
<rect x="499.3" y="1103.1"/>
<rect x="501.1" y="1103.0"/>
<rect x="502.9" y="1103.3"/>
<rect x="504.8" y="1102.5"/>
<rect x="506.6" y="1102.7"/>
<rect x="508.4" y="1103.1"/>
<rect x="510.2" y="1103.7"/>
<rect x="512.1" y="1103.4"/>
<rect x="513.9" y="1102.9"/>
<rect x="515.7" y="1103.7"/>
<rect x="517.6" y="1103.2"/>
<rect x="519.4" y="1102.9"/>
<rect x="521.2" y="1103.1"/>
<rect x="523.0" y="1103.7"/>
<rect x="524.9" y="1103.4"/>
<rect x="526.7" y="1102.9"/>
<rect x="528.5" y="1102.8"/>
<rect x="530.4" y="1103.3"/>
<rect x="532.2" y="1102.7"/>
<rect x="534.0" y="1102.9"/>
<rect x="535.9" y="1103.3"/>
<rect x="537.7" y="1102.7"/>
<rect x="539.5" y="1102.8"/>
<rect x="541.3" y="1103.2"/>
<rect x="543.2" y="1103.0"/>
<rect x="545.0" y="1103.5"/>
<rect x="546.8" y="1103.1"/>
<rect x="548.7" y="1103.3"/>
<rect x="550.5" y="1103.3"/>
<rect x="552.3" y="1102.9"/>
<rect x="554.2" y="1103.3"/>
<rect x="556.0" y="1103.5"/>
<rect x="557.8" y="1103.0"/>
<rect x="559.6" y="1102.8"/>
<rect x="561.5" y="1102.9"/>
<rect x="563.3" y="1103.5"/>
<rect x="565.1" y="1103.0"/>
<rect x="567.0" y="1102.8"/>
<rect x="568.8" y="1102.6"/>
<rect x="570.6" y="1103.0"/>
<rect x="572.5" y="1102.5"/>
<rect x="574.3" y="1103.3"/>
<rect x="576.1" y="1102.7"/>
<rect x="577.9" y="1102.6"/>
<rect x="579.8" y="1103.3"/>
<rect x="581.6" y="1103.1"/>
<rect x="583.4" y="1103.1"/>
<rect x="585.3" y="1102.7"/>
<rect x="587.1" y="1103.2"/>
<rect x="588.9" y="1103.1"/>
<rect x="590.7" y="1103.0"/>
<rect x="592.6" y="1103.3"/>
<rect x="594.4" y="1103.3"/>
<rect x="596.2" y="1102.9"/>
<rect x="598.1" y="1103.5"/>
<rect x="599.9" y="1103.1"/>
<rect x="601.7" y="1102.9"/>
<rect x="603.6" y="1103.2"/>
<rect x="605.4" y="1103.0"/>
<rect x="607.2" y="1103.5"/>
<rect x="609.0" y="1103.0"/>
<rect x="610.9" y="1102.9"/>
<rect x="612.7" y="1102.9"/>
<rect x="614.5" y="1103.2"/>
<rect x="616.4" y="1102.4"/>
<rect x="618.2" y="1102.5"/>
<rect x="620.0" y="1102.9"/>
<rect x="621.9" y="1103.1"/>
<rect x="623.7" y="1103.2"/>
<rect x="625.5" y="1102.8"/>
<rect x="627.3" y="1102.4"/>
<rect x="629.2" y="1102.2"/>
<rect x="631.0" y="1102.9"/>
</g>
<g class="oc" stroke="#1e62b4">
<rect x="85.8" y="1139.2"/>
<rect x="87.6" y="1140.9"/>
<rect x="89.4" y="1142.0"/>
<rect x="91.2" y="1142.0"/>
<rect x="93.1" y="1143.3"/>
<rect x="94.9" y="1143.0"/>
<rect x="96.7" y="1143.4"/>
<rect x="98.6" y="1143.8"/>
<rect x="100.4" y="1143.3"/>
<rect x="102.2" y="1144.9"/>
<rect x="104.1" y="1144.2"/>
<rect x="105.9" y="1144.8"/>
<rect x="107.7" y="1144.4"/>
<rect x="109.5" y="1144.2"/>
<rect x="111.4" y="1144.5"/>
<rect x="113.2" y="1144.6"/>
<rect x="115.0" y="1144.4"/>
<rect x="116.9" y="1144.3"/>
<rect x="118.7" y="1145.4"/>
<rect x="120.5" y="1145.0"/>
<rect x="122.4" y="1145.4"/>
<rect x="124.2" y="1145.8"/>
<rect x="126.0" y="1145.2"/>
<rect x="127.8" y="1145.5"/>
<rect x="129.7" y="1145.8"/>
<rect x="131.5" y="1145.6"/>
<rect x="133.3" y="1145.6"/>
<rect x="135.2" y="1145.2"/>
<rect x="137.0" y="1145.2"/>
<rect x="138.8" y="1145.8"/>
<rect x="140.6" y="1145.5"/>
<rect x="142.5" y="1145.8"/>
<rect x="144.3" y="1145.7"/>
<rect x="146.1" y="1145.6"/>
<rect x="148.0" y="1145.7"/>
<rect x="149.8" y="1145.5"/>
<rect x="151.6" y="1145.8"/>
<rect x="153.5" y="1144.6"/>
<rect x="155.3" y="1145.0"/>
<rect x="157.1" y="1145.3"/>
<rect x="158.9" y="1145.7"/>
<rect x="160.8" y="1144.5"/>
<rect x="162.6" y="1144.8"/>
<rect x="164.4" y="1145.1"/>
<rect x="166.3" y="1145.3"/>
<rect x="168.1" y="1144.6"/>
<rect x="169.9" y="1144.0"/>
<rect x="171.8" y="1144.8"/>
<rect x="173.6" y="1144.8"/>
<rect x="175.4" y="1144.7"/>
<rect x="177.2" y="1144.6"/>
<rect x="179.1" y="1144.6"/>
<rect x="180.9" y="1144.0"/>
<rect x="182.7" y="1144.4"/>
<rect x="184.6" y="1144.4"/>
<rect x="186.4" y="1144.1"/>
<rect x="188.2" y="1143.7"/>
<rect x="190.1" y="1143.7"/>
<rect x="191.9" y="1144.1"/>
<rect x="193.7" y="1143.6"/>
<rect x="195.5" y="1144.2"/>
<rect x="197.4" y="1143.7"/>
<rect x="199.2" y="1143.5"/>
<rect x="201.0" y="1143.8"/>
<rect x="202.9" y="1143.5"/>
<rect x="204.7" y="1144.1"/>
<rect x="206.5" y="1143.8"/>
<rect x="208.3" y="1143.0"/>
<rect x="210.2" y="1143.1"/>
<rect x="212.0" y="1142.5"/>
<rect x="213.8" y="1143.4"/>
<rect x="215.7" y="1143.2"/>
<rect x="217.5" y="1143.0"/>
<rect x="219.3" y="1142.4"/>
<rect x="221.2" y="1143.4"/>
<rect x="223.0" y="1143.2"/>
<rect x="224.8" y="1142.6"/>
<rect x="226.6" y="1142.5"/>
<rect x="228.5" y="1142.5"/>
<rect x="230.3" y="1142.9"/>
<rect x="232.1" y="1142.6"/>
<rect x="234.0" y="1142.4"/>
<rect x="235.8" y="1142.3"/>
<rect x="237.6" y="1141.9"/>
<rect x="239.5" y="1142.1"/>
<rect x="241.3" y="1141.7"/>
<rect x="243.1" y="1142.6"/>
<rect x="244.9" y="1142.2"/>
<rect x="246.8" y="1142.1"/>
<rect x="248.6" y="1141.9"/>
<rect x="250.4" y="1141.7"/>
<rect x="252.3" y="1141.3"/>
<rect x="254.1" y="1141.7"/>
<rect x="255.9" y="1141.7"/>
<rect x="257.7" y="1141.7"/>
<rect x="259.6" y="1142.1"/>
<rect x="261.4" y="1142.1"/>
<rect x="263.2" y="1141.4"/>
<rect x="265.1" y="1141.4"/>
<rect x="266.9" y="1142.0"/>
<rect x="268.7" y="1140.9"/>
<rect x="270.6" y="1141.5"/>
<rect x="272.4" y="1141.8"/>
<rect x="274.2" y="1141.6"/>
<rect x="276.0" y="1141.4"/>
<rect x="277.9" y="1141.7"/>
<rect x="279.7" y="1141.3"/>
<rect x="281.5" y="1141.1"/>
<rect x="283.4" y="1141.5"/>
<rect x="285.2" y="1141.3"/>
<rect x="287.0" y="1141.5"/>
<rect x="288.9" y="1141.7"/>
<rect x="290.7" y="1141.7"/>
<rect x="292.5" y="1140.4"/>
<rect x="294.3" y="1141.3"/>
<rect x="296.2" y="1141.4"/>
<rect x="298.0" y="1141.4"/>
<rect x="299.8" y="1141.0"/>
<rect x="301.7" y="1141.0"/>
<rect x="303.5" y="1141.2"/>
<rect x="305.3" y="1140.8"/>
<rect x="307.1" y="1140.4"/>
<rect x="309.0" y="1141.2"/>
<rect x="310.8" y="1141.2"/>
<rect x="312.6" y="1140.5"/>
<rect x="314.5" y="1141.3"/>
<rect x="316.3" y="1140.6"/>
<rect x="318.1" y="1141.0"/>
<rect x="320.0" y="1140.4"/>
<rect x="321.8" y="1140.8"/>
<rect x="323.6" y="1140.5"/>
<rect x="325.4" y="1140.5"/>
<rect x="327.3" y="1140.8"/>
<rect x="329.1" y="1140.9"/>
<rect x="330.9" y="1140.3"/>
<rect x="332.8" y="1141.1"/>
<rect x="334.6" y="1140.3"/>
<rect x="336.4" y="1140.0"/>
<rect x="338.3" y="1140.4"/>
<rect x="340.1" y="1141.1"/>
<rect x="341.9" y="1140.3"/>
<rect x="343.7" y="1140.0"/>
<rect x="345.6" y="1140.2"/>
<rect x="347.4" y="1140.5"/>
<rect x="349.2" y="1140.6"/>
<rect x="351.1" y="1140.5"/>
<rect x="352.9" y="1140.7"/>
<rect x="354.7" y="1141.0"/>
<rect x="356.6" y="1140.3"/>
<rect x="358.4" y="1140.4"/>
<rect x="360.2" y="1140.2"/>
<rect x="362.0" y="1140.3"/>
<rect x="363.9" y="1140.6"/>
<rect x="365.7" y="1140.3"/>
<rect x="367.5" y="1139.8"/>
<rect x="369.4" y="1140.4"/>
<rect x="371.2" y="1140.6"/>
<rect x="373.0" y="1140.2"/>
<rect x="374.8" y="1140.7"/>
<rect x="376.7" y="1140.4"/>
<rect x="378.5" y="1139.5"/>
<rect x="380.3" y="1139.8"/>
<rect x="382.2" y="1139.6"/>
<rect x="384.0" y="1139.8"/>
<rect x="385.8" y="1139.6"/>
<rect x="387.7" y="1139.9"/>
<rect x="389.5" y="1140.1"/>
<rect x="391.3" y="1139.2"/>
<rect x="393.1" y="1140.1"/>
<rect x="395.0" y="1139.7"/>
<rect x="396.8" y="1140.1"/>
<rect x="398.6" y="1139.6"/>
<rect x="400.5" y="1138.9"/>
<rect x="402.3" y="1139.7"/>
<rect x="404.1" y="1139.8"/>
<rect x="406.0" y="1139.8"/>
<rect x="407.8" y="1139.6"/>
<rect x="409.6" y="1139.2"/>
<rect x="411.4" y="1139.3"/>
<rect x="413.3" y="1139.3"/>
<rect x="415.1" y="1139.2"/>
<rect x="416.9" y="1139.5"/>
<rect x="418.8" y="1139.6"/>
<rect x="420.6" y="1139.7"/>
<rect x="422.4" y="1139.6"/>
<rect x="424.2" y="1139.4"/>
<rect x="426.1" y="1139.6"/>
<rect x="427.9" y="1139.4"/>
<rect x="429.7" y="1139.0"/>
<rect x="431.6" y="1139.6"/>
<rect x="433.4" y="1139.3"/>
<rect x="435.2" y="1139.3"/>
<rect x="437.1" y="1139.7"/>
<rect x="438.9" y="1139.4"/>
<rect x="440.7" y="1139.5"/>
<rect x="442.5" y="1139.9"/>
<rect x="444.4" y="1139.6"/>
<rect x="446.2" y="1139.5"/>
<rect x="448.0" y="1139.2"/>
<rect x="449.9" y="1138.4"/>
<rect x="451.7" y="1138.3"/>
<rect x="453.5" y="1138.8"/>
<rect x="455.4" y="1139.9"/>
<rect x="457.2" y="1139.0"/>
<rect x="459.0" y="1138.9"/>
<rect x="460.8" y="1139.2"/>
<rect x="462.7" y="1139.4"/>
<rect x="464.5" y="1139.1"/>
<rect x="466.3" y="1139.1"/>
<rect x="468.2" y="1139.0"/>
<rect x="470.0" y="1138.8"/>
<rect x="471.8" y="1138.7"/>
<rect x="473.6" y="1138.1"/>
<rect x="475.5" y="1138.8"/>
<rect x="477.3" y="1138.8"/>
<rect x="479.1" y="1138.9"/>
<rect x="481.0" y="1139.1"/>
<rect x="482.8" y="1138.3"/>
<rect x="484.6" y="1138.3"/>
<rect x="486.5" y="1138.9"/>
<rect x="488.3" y="1138.1"/>
<rect x="490.1" y="1138.7"/>
<rect x="491.9" y="1138.6"/>
<rect x="493.8" y="1138.8"/>
<rect x="495.6" y="1138.3"/>
<rect x="497.4" y="1138.8"/>
<rect x="499.3" y="1138.1"/>
<rect x="501.1" y="1138.8"/>
<rect x="502.9" y="1138.5"/>
<rect x="504.8" y="1138.3"/>
<rect x="506.6" y="1138.5"/>
<rect x="508.4" y="1138.9"/>
<rect x="510.2" y="1138.0"/>
<rect x="512.1" y="1138.3"/>
<rect x="513.9" y="1137.9"/>
<rect x="515.7" y="1138.7"/>
<rect x="517.6" y="1138.6"/>
<rect x="519.4" y="1138.0"/>
<rect x="521.2" y="1138.2"/>
<rect x="523.0" y="1137.9"/>
<rect x="524.9" y="1138.2"/>
<rect x="526.7" y="1138.6"/>
<rect x="528.5" y="1138.0"/>
<rect x="530.4" y="1138.2"/>
<rect x="532.2" y="1137.6"/>
<rect x="534.0" y="1138.7"/>
<rect x="535.9" y="1137.7"/>
<rect x="537.7" y="1138.1"/>
<rect x="539.5" y="1137.9"/>
<rect x="541.3" y="1138.4"/>
<rect x="543.2" y="1137.9"/>
<rect x="545.0" y="1137.9"/>
<rect x="546.8" y="1137.5"/>
<rect x="548.7" y="1138.4"/>
<rect x="550.5" y="1137.3"/>
<rect x="552.3" y="1138.4"/>
<rect x="554.2" y="1138.3"/>
<rect x="556.0" y="1138.5"/>
<rect x="557.8" y="1137.5"/>
<rect x="559.6" y="1137.6"/>
<rect x="561.5" y="1137.9"/>
<rect x="563.3" y="1138.2"/>
<rect x="565.1" y="1137.4"/>
<rect x="567.0" y="1138.2"/>
<rect x="568.8" y="1137.3"/>
<rect x="570.6" y="1138.0"/>
<rect x="572.5" y="1137.7"/>
<rect x="574.3" y="1137.8"/>
<rect x="576.1" y="1137.6"/>
<rect x="577.9" y="1137.9"/>
<rect x="579.8" y="1137.0"/>
<rect x="581.6" y="1138.0"/>
<rect x="583.4" y="1137.4"/>
<rect x="585.3" y="1137.5"/>
<rect x="587.1" y="1137.3"/>
<rect x="588.9" y="1137.7"/>
<rect x="590.7" y="1137.6"/>
<rect x="592.6" y="1137.4"/>
<rect x="594.4" y="1137.1"/>
<rect x="596.2" y="1138.1"/>
<rect x="598.1" y="1137.3"/>
<rect x="599.9" y="1137.6"/>
<rect x="601.7" y="1137.3"/>
<rect x="603.6" y="1137.7"/>
<rect x="605.4" y="1137.8"/>
<rect x="607.2" y="1137.7"/>
<rect x="609.0" y="1137.9"/>
<rect x="610.9" y="1137.9"/>
<rect x="612.7" y="1136.6"/>
<rect x="614.5" y="1137.0"/>
<rect x="616.4" y="1136.8"/>
<rect x="618.2" y="1137.4"/>
<rect x="620.0" y="1137.3"/>
<rect x="621.9" y="1136.8"/>
<rect x="623.7" y="1137.7"/>
<rect x="625.5" y="1137.2"/>
<rect x="627.3" y="1137.7"/>
<rect x="629.2" y="1136.9"/>
<rect x="631.0" y="1137.4"/>
</g>
<g class="oc" stroke="#86b8e8">
<rect x="85.8" y="1119.3"/>
<rect x="87.6" y="1119.5"/>
<rect x="89.4" y="1120.3"/>
<rect x="91.2" y="1120.6"/>
<rect x="93.1" y="1120.8"/>
<rect x="94.9" y="1121.3"/>
<rect x="96.7" y="1120.7"/>
<rect x="98.6" y="1121.8"/>
<rect x="100.4" y="1121.8"/>
<rect x="102.2" y="1121.5"/>
<rect x="104.1" y="1122.3"/>
<rect x="105.9" y="1121.5"/>
<rect x="107.7" y="1122.0"/>
<rect x="109.5" y="1122.9"/>
<rect x="111.4" y="1122.8"/>
<rect x="113.2" y="1122.5"/>
<rect x="115.0" y="1123.4"/>
<rect x="116.9" y="1122.9"/>
<rect x="118.7" y="1123.0"/>
<rect x="120.5" y="1123.1"/>
<rect x="122.4" y="1123.4"/>
<rect x="124.2" y="1123.4"/>
<rect x="126.0" y="1123.0"/>
<rect x="127.8" y="1123.2"/>
<rect x="129.7" y="1123.6"/>
<rect x="131.5" y="1123.8"/>
<rect x="133.3" y="1123.5"/>
<rect x="135.2" y="1123.7"/>
<rect x="137.0" y="1123.7"/>
<rect x="138.8" y="1123.1"/>
<rect x="140.6" y="1123.4"/>
<rect x="142.5" y="1124.2"/>
<rect x="144.3" y="1123.4"/>
<rect x="146.1" y="1123.7"/>
<rect x="148.0" y="1123.0"/>
<rect x="149.8" y="1124.5"/>
<rect x="151.6" y="1123.2"/>
<rect x="153.5" y="1123.7"/>
<rect x="155.3" y="1123.6"/>
<rect x="157.1" y="1122.9"/>
<rect x="158.9" y="1123.3"/>
<rect x="160.8" y="1123.8"/>
<rect x="162.6" y="1123.2"/>
<rect x="164.4" y="1123.7"/>
<rect x="166.3" y="1123.3"/>
<rect x="168.1" y="1123.8"/>
<rect x="169.9" y="1124.1"/>
<rect x="171.8" y="1123.0"/>
<rect x="173.6" y="1123.4"/>
<rect x="175.4" y="1123.1"/>
<rect x="177.2" y="1123.0"/>
<rect x="179.1" y="1123.3"/>
<rect x="180.9" y="1123.3"/>
<rect x="182.7" y="1123.4"/>
<rect x="184.6" y="1123.4"/>
<rect x="186.4" y="1122.5"/>
<rect x="188.2" y="1123.1"/>
<rect x="190.1" y="1122.5"/>
<rect x="191.9" y="1123.3"/>
<rect x="193.7" y="1123.5"/>
<rect x="195.5" y="1123.3"/>
<rect x="197.4" y="1123.0"/>
<rect x="199.2" y="1123.3"/>
<rect x="201.0" y="1123.4"/>
<rect x="202.9" y="1123.3"/>
<rect x="204.7" y="1122.9"/>
<rect x="206.5" y="1123.0"/>
<rect x="208.3" y="1123.5"/>
<rect x="210.2" y="1123.1"/>
<rect x="212.0" y="1123.1"/>
<rect x="213.8" y="1123.1"/>
<rect x="215.7" y="1123.2"/>
<rect x="217.5" y="1123.2"/>
<rect x="219.3" y="1122.9"/>
<rect x="221.2" y="1122.9"/>
<rect x="223.0" y="1122.9"/>
<rect x="224.8" y="1123.0"/>
<rect x="226.6" y="1123.2"/>
<rect x="228.5" y="1122.5"/>
<rect x="230.3" y="1123.5"/>
<rect x="232.1" y="1122.6"/>
<rect x="234.0" y="1123.0"/>
<rect x="235.8" y="1122.5"/>
<rect x="237.6" y="1122.7"/>
<rect x="239.5" y="1122.9"/>
<rect x="241.3" y="1123.1"/>
<rect x="243.1" y="1123.0"/>
<rect x="244.9" y="1123.1"/>
<rect x="246.8" y="1122.7"/>
<rect x="248.6" y="1123.4"/>
<rect x="250.4" y="1122.3"/>
<rect x="252.3" y="1122.9"/>
<rect x="254.1" y="1122.9"/>
<rect x="255.9" y="1122.6"/>
<rect x="257.7" y="1122.8"/>
<rect x="259.6" y="1122.5"/>
<rect x="261.4" y="1122.9"/>
<rect x="263.2" y="1122.6"/>
<rect x="265.1" y="1123.0"/>
<rect x="266.9" y="1122.9"/>
<rect x="268.7" y="1122.9"/>
<rect x="270.6" y="1122.8"/>
<rect x="272.4" y="1122.4"/>
<rect x="274.2" y="1122.9"/>
<rect x="276.0" y="1123.0"/>
<rect x="277.9" y="1122.6"/>
<rect x="279.7" y="1122.3"/>
<rect x="281.5" y="1122.4"/>
<rect x="283.4" y="1123.0"/>
<rect x="285.2" y="1122.1"/>
<rect x="287.0" y="1122.7"/>
<rect x="288.9" y="1122.5"/>
<rect x="290.7" y="1122.8"/>
<rect x="292.5" y="1122.1"/>
<rect x="294.3" y="1122.7"/>
<rect x="296.2" y="1122.2"/>
<rect x="298.0" y="1122.7"/>
<rect x="299.8" y="1123.1"/>
<rect x="301.7" y="1122.4"/>
<rect x="303.5" y="1123.1"/>
<rect x="305.3" y="1122.5"/>
<rect x="307.1" y="1122.7"/>
<rect x="309.0" y="1123.2"/>
<rect x="310.8" y="1122.8"/>
<rect x="312.6" y="1122.6"/>
<rect x="314.5" y="1121.6"/>
<rect x="316.3" y="1122.1"/>
<rect x="318.1" y="1122.5"/>
<rect x="320.0" y="1122.1"/>
<rect x="321.8" y="1122.0"/>
<rect x="323.6" y="1122.5"/>
<rect x="325.4" y="1121.8"/>
<rect x="327.3" y="1121.9"/>
<rect x="329.1" y="1122.5"/>
<rect x="330.9" y="1122.9"/>
<rect x="332.8" y="1121.9"/>
<rect x="334.6" y="1122.2"/>
<rect x="336.4" y="1122.4"/>
<rect x="338.3" y="1121.9"/>
<rect x="340.1" y="1121.8"/>
<rect x="341.9" y="1122.3"/>
<rect x="343.7" y="1121.7"/>
<rect x="345.6" y="1121.8"/>
<rect x="347.4" y="1122.7"/>
<rect x="349.2" y="1121.4"/>
<rect x="351.1" y="1122.7"/>
<rect x="352.9" y="1122.5"/>
<rect x="354.7" y="1121.8"/>
<rect x="356.6" y="1122.4"/>
<rect x="358.4" y="1122.0"/>
<rect x="360.2" y="1121.6"/>
<rect x="362.0" y="1121.7"/>
<rect x="363.9" y="1121.7"/>
<rect x="365.7" y="1122.4"/>
<rect x="367.5" y="1121.5"/>
<rect x="369.4" y="1121.4"/>
<rect x="371.2" y="1121.7"/>
<rect x="373.0" y="1121.6"/>
<rect x="374.8" y="1122.5"/>
<rect x="376.7" y="1121.6"/>
<rect x="378.5" y="1121.5"/>
<rect x="380.3" y="1121.5"/>
<rect x="382.2" y="1121.4"/>
<rect x="384.0" y="1121.0"/>
<rect x="385.8" y="1121.7"/>
<rect x="387.7" y="1121.4"/>
<rect x="389.5" y="1121.5"/>
<rect x="391.3" y="1122.0"/>
<rect x="393.1" y="1121.9"/>
<rect x="395.0" y="1121.8"/>
<rect x="396.8" y="1121.2"/>
<rect x="398.6" y="1121.5"/>
<rect x="400.5" y="1121.3"/>
<rect x="402.3" y="1121.4"/>
<rect x="404.1" y="1121.4"/>
<rect x="406.0" y="1121.3"/>
<rect x="407.8" y="1121.8"/>
<rect x="409.6" y="1121.2"/>
<rect x="411.4" y="1121.9"/>
<rect x="413.3" y="1121.6"/>
<rect x="415.1" y="1121.3"/>
<rect x="416.9" y="1121.5"/>
<rect x="418.8" y="1121.2"/>
<rect x="420.6" y="1121.2"/>
<rect x="422.4" y="1121.7"/>
<rect x="424.2" y="1121.2"/>
<rect x="426.1" y="1122.7"/>
<rect x="427.9" y="1120.9"/>
<rect x="429.7" y="1120.8"/>
<rect x="431.6" y="1121.7"/>
<rect x="433.4" y="1121.1"/>
<rect x="435.2" y="1121.0"/>
<rect x="437.1" y="1120.8"/>
<rect x="438.9" y="1121.1"/>
<rect x="440.7" y="1120.9"/>
<rect x="442.5" y="1121.4"/>
<rect x="444.4" y="1120.9"/>
<rect x="446.2" y="1121.1"/>
<rect x="448.0" y="1121.3"/>
<rect x="449.9" y="1121.1"/>
<rect x="451.7" y="1120.9"/>
<rect x="453.5" y="1120.7"/>
<rect x="455.4" y="1120.5"/>
<rect x="457.2" y="1120.5"/>
<rect x="459.0" y="1121.2"/>
<rect x="460.8" y="1120.8"/>
<rect x="462.7" y="1120.8"/>
<rect x="464.5" y="1121.0"/>
<rect x="466.3" y="1121.0"/>
<rect x="468.2" y="1121.3"/>
<rect x="470.0" y="1121.0"/>
<rect x="471.8" y="1120.8"/>
<rect x="473.6" y="1120.5"/>
<rect x="475.5" y="1121.0"/>
<rect x="477.3" y="1120.8"/>
<rect x="479.1" y="1120.8"/>
<rect x="481.0" y="1120.5"/>
<rect x="482.8" y="1120.9"/>
<rect x="484.6" y="1121.1"/>
<rect x="486.5" y="1120.7"/>
<rect x="488.3" y="1121.0"/>
<rect x="490.1" y="1120.8"/>
<rect x="491.9" y="1120.6"/>
<rect x="493.8" y="1121.1"/>
<rect x="495.6" y="1120.6"/>
<rect x="497.4" y="1120.8"/>
<rect x="499.3" y="1120.2"/>
<rect x="501.1" y="1121.0"/>
<rect x="502.9" y="1120.5"/>
<rect x="504.8" y="1120.6"/>
<rect x="506.6" y="1120.5"/>
<rect x="508.4" y="1120.7"/>
<rect x="510.2" y="1120.4"/>
<rect x="512.1" y="1120.2"/>
<rect x="513.9" y="1120.6"/>
<rect x="515.7" y="1120.6"/>
<rect x="517.6" y="1120.4"/>
<rect x="519.4" y="1120.8"/>
<rect x="521.2" y="1120.9"/>
<rect x="523.0" y="1120.2"/>
<rect x="524.9" y="1120.6"/>
<rect x="526.7" y="1120.6"/>
<rect x="528.5" y="1119.9"/>
<rect x="530.4" y="1120.0"/>
<rect x="532.2" y="1119.7"/>
<rect x="534.0" y="1120.9"/>
<rect x="535.9" y="1120.2"/>
<rect x="537.7" y="1120.2"/>
<rect x="539.5" y="1120.6"/>
<rect x="541.3" y="1120.9"/>
<rect x="543.2" y="1120.5"/>
<rect x="545.0" y="1120.9"/>
<rect x="546.8" y="1120.8"/>
<rect x="548.7" y="1121.6"/>
<rect x="550.5" y="1120.0"/>
<rect x="552.3" y="1120.1"/>
<rect x="554.2" y="1120.0"/>
<rect x="556.0" y="1120.4"/>
<rect x="557.8" y="1119.9"/>
<rect x="559.6" y="1120.5"/>
<rect x="561.5" y="1119.5"/>
<rect x="563.3" y="1120.5"/>
<rect x="565.1" y="1120.3"/>
<rect x="567.0" y="1120.7"/>
<rect x="568.8" y="1120.3"/>
<rect x="570.6" y="1120.2"/>
<rect x="572.5" y="1120.2"/>
<rect x="574.3" y="1119.4"/>
<rect x="576.1" y="1120.0"/>
<rect x="577.9" y="1120.1"/>
<rect x="579.8" y="1120.6"/>
<rect x="581.6" y="1120.0"/>
<rect x="583.4" y="1119.4"/>
<rect x="585.3" y="1120.7"/>
<rect x="587.1" y="1119.6"/>
<rect x="588.9" y="1120.0"/>
<rect x="590.7" y="1119.6"/>
<rect x="592.6" y="1118.7"/>
<rect x="594.4" y="1120.2"/>
<rect x="596.2" y="1119.7"/>
<rect x="598.1" y="1120.1"/>
<rect x="599.9" y="1119.6"/>
<rect x="601.7" y="1120.0"/>
<rect x="603.6" y="1120.4"/>
<rect x="605.4" y="1120.0"/>
<rect x="607.2" y="1119.7"/>
<rect x="609.0" y="1119.6"/>
<rect x="610.9" y="1119.7"/>
<rect x="612.7" y="1119.3"/>
<rect x="614.5" y="1119.8"/>
<rect x="616.4" y="1119.9"/>
<rect x="618.2" y="1119.2"/>
<rect x="620.0" y="1119.2"/>
<rect x="621.9" y="1120.3"/>
<rect x="623.7" y="1119.6"/>
<rect x="625.5" y="1120.3"/>
<rect x="627.3" y="1119.8"/>
<rect x="629.2" y="1119.8"/>
<rect x="631.0" y="1119.7"/>
</g>
<g class="oc" stroke="#3a943a">
<rect x="85.8" y="1108.2"/>
<rect x="87.6" y="1107.9"/>
<rect x="89.4" y="1107.1"/>
<rect x="91.2" y="1106.3"/>
<rect x="93.1" y="1106.3"/>
<rect x="94.9" y="1106.5"/>
<rect x="96.7" y="1106.1"/>
<rect x="98.6" y="1106.5"/>
<rect x="100.4" y="1106.3"/>
<rect x="102.2" y="1106.1"/>
<rect x="104.1" y="1106.0"/>
<rect x="105.9" y="1105.8"/>
<rect x="107.7" y="1105.8"/>
<rect x="109.5" y="1105.6"/>
<rect x="111.4" y="1105.0"/>
<rect x="113.2" y="1105.3"/>
<rect x="115.0" y="1105.2"/>
<rect x="116.9" y="1105.5"/>
<rect x="118.7" y="1104.9"/>
<rect x="120.5" y="1104.7"/>
<rect x="122.4" y="1105.6"/>
<rect x="124.2" y="1105.1"/>
<rect x="126.0" y="1105.1"/>
<rect x="127.8" y="1105.3"/>
<rect x="129.7" y="1104.5"/>
<rect x="131.5" y="1104.9"/>
<rect x="133.3" y="1104.6"/>
<rect x="135.2" y="1104.0"/>
<rect x="137.0" y="1104.5"/>
<rect x="138.8" y="1104.4"/>
<rect x="140.6" y="1104.5"/>
<rect x="142.5" y="1104.1"/>
<rect x="144.3" y="1104.1"/>
<rect x="146.1" y="1103.7"/>
<rect x="148.0" y="1104.4"/>
<rect x="149.8" y="1103.3"/>
<rect x="151.6" y="1104.0"/>
<rect x="153.5" y="1103.8"/>
<rect x="155.3" y="1103.7"/>
<rect x="157.1" y="1103.9"/>
<rect x="158.9" y="1103.7"/>
<rect x="160.8" y="1103.1"/>
<rect x="162.6" y="1103.0"/>
<rect x="164.4" y="1103.0"/>
<rect x="166.3" y="1103.3"/>
<rect x="168.1" y="1103.5"/>
<rect x="169.9" y="1103.4"/>
<rect x="171.8" y="1103.5"/>
<rect x="173.6" y="1103.5"/>
<rect x="175.4" y="1103.3"/>
<rect x="177.2" y="1102.9"/>
<rect x="179.1" y="1103.2"/>
<rect x="180.9" y="1103.1"/>
<rect x="182.7" y="1103.8"/>
<rect x="184.6" y="1103.5"/>
<rect x="186.4" y="1102.9"/>
<rect x="188.2" y="1103.1"/>
<rect x="190.1" y="1103.5"/>
<rect x="191.9" y="1103.1"/>
<rect x="193.7" y="1103.4"/>
<rect x="195.5" y="1103.1"/>
<rect x="197.4" y="1103.0"/>
<rect x="199.2" y="1103.1"/>
<rect x="201.0" y="1102.6"/>
<rect x="202.9" y="1102.6"/>
<rect x="204.7" y="1102.7"/>
<rect x="206.5" y="1103.1"/>
<rect x="208.3" y="1102.8"/>
<rect x="210.2" y="1102.2"/>
<rect x="212.0" y="1103.0"/>
<rect x="213.8" y="1102.7"/>
<rect x="215.7" y="1102.9"/>
<rect x="217.5" y="1102.6"/>
<rect x="219.3" y="1102.5"/>
<rect x="221.2" y="1101.7"/>
<rect x="223.0" y="1102.5"/>
<rect x="224.8" y="1101.7"/>
<rect x="226.6" y="1102.2"/>
<rect x="228.5" y="1102.9"/>
<rect x="230.3" y="1102.3"/>
<rect x="232.1" y="1102.3"/>
<rect x="234.0" y="1101.9"/>
<rect x="235.8" y="1102.2"/>
<rect x="237.6" y="1101.6"/>
<rect x="239.5" y="1101.9"/>
<rect x="241.3" y="1102.1"/>
<rect x="243.1" y="1101.8"/>
<rect x="244.9" y="1101.5"/>
<rect x="246.8" y="1101.0"/>
<rect x="248.6" y="1101.6"/>
<rect x="250.4" y="1101.5"/>
<rect x="252.3" y="1101.5"/>
<rect x="254.1" y="1101.8"/>
<rect x="255.9" y="1101.0"/>
<rect x="257.7" y="1101.9"/>
<rect x="259.6" y="1101.1"/>
<rect x="261.4" y="1102.4"/>
<rect x="263.2" y="1101.9"/>
<rect x="265.1" y="1101.7"/>
<rect x="266.9" y="1101.1"/>
<rect x="268.7" y="1101.4"/>
<rect x="270.6" y="1101.4"/>
<rect x="272.4" y="1101.1"/>
<rect x="274.2" y="1101.0"/>
<rect x="276.0" y="1101.6"/>
<rect x="277.9" y="1101.2"/>
<rect x="279.7" y="1101.8"/>
<rect x="281.5" y="1101.5"/>
<rect x="283.4" y="1101.0"/>
<rect x="285.2" y="1101.2"/>
<rect x="287.0" y="1101.0"/>
<rect x="288.9" y="1100.5"/>
<rect x="290.7" y="1101.0"/>
<rect x="292.5" y="1100.5"/>
<rect x="294.3" y="1101.2"/>
<rect x="296.2" y="1101.0"/>
<rect x="298.0" y="1099.8"/>
<rect x="299.8" y="1100.6"/>
<rect x="301.7" y="1100.2"/>
<rect x="303.5" y="1101.1"/>
<rect x="305.3" y="1100.4"/>
<rect x="307.1" y="1100.5"/>
<rect x="309.0" y="1100.5"/>
<rect x="310.8" y="1099.9"/>
<rect x="312.6" y="1100.3"/>
<rect x="314.5" y="1100.6"/>
<rect x="316.3" y="1099.9"/>
<rect x="318.1" y="1100.3"/>
<rect x="320.0" y="1099.9"/>
<rect x="321.8" y="1100.7"/>
<rect x="323.6" y="1100.6"/>
<rect x="325.4" y="1099.8"/>
<rect x="327.3" y="1099.7"/>
<rect x="329.1" y="1099.9"/>
<rect x="330.9" y="1099.6"/>
<rect x="332.8" y="1099.6"/>
<rect x="334.6" y="1099.4"/>
<rect x="336.4" y="1100.1"/>
<rect x="338.3" y="1100.2"/>
<rect x="340.1" y="1099.6"/>
<rect x="341.9" y="1098.8"/>
<rect x="343.7" y="1098.8"/>
<rect x="345.6" y="1099.4"/>
<rect x="347.4" y="1098.8"/>
<rect x="349.2" y="1098.9"/>
<rect x="351.1" y="1099.1"/>
<rect x="352.9" y="1098.8"/>
<rect x="354.7" y="1099.3"/>
<rect x="356.6" y="1098.4"/>
<rect x="358.4" y="1098.8"/>
<rect x="360.2" y="1098.3"/>
<rect x="362.0" y="1098.7"/>
<rect x="363.9" y="1098.0"/>
<rect x="365.7" y="1098.4"/>
<rect x="367.5" y="1098.9"/>
<rect x="369.4" y="1098.2"/>
<rect x="371.2" y="1098.5"/>
<rect x="373.0" y="1098.1"/>
<rect x="374.8" y="1098.3"/>
<rect x="376.7" y="1098.1"/>
<rect x="378.5" y="1098.3"/>
<rect x="380.3" y="1097.7"/>
<rect x="382.2" y="1097.9"/>
<rect x="384.0" y="1098.2"/>
<rect x="385.8" y="1097.6"/>
<rect x="387.7" y="1098.1"/>
<rect x="389.5" y="1098.1"/>
<rect x="391.3" y="1097.8"/>
<rect x="393.1" y="1096.9"/>
<rect x="395.0" y="1098.2"/>
<rect x="396.8" y="1097.1"/>
<rect x="398.6" y="1097.5"/>
<rect x="400.5" y="1097.6"/>
<rect x="402.3" y="1097.9"/>
<rect x="404.1" y="1097.3"/>
<rect x="406.0" y="1096.9"/>
<rect x="407.8" y="1097.4"/>
<rect x="409.6" y="1097.7"/>
<rect x="411.4" y="1096.7"/>
<rect x="413.3" y="1097.2"/>
<rect x="415.1" y="1096.9"/>
<rect x="416.9" y="1097.0"/>
<rect x="418.8" y="1096.7"/>
<rect x="420.6" y="1096.9"/>
<rect x="422.4" y="1096.9"/>
<rect x="424.2" y="1097.5"/>
<rect x="426.1" y="1095.9"/>
<rect x="427.9" y="1097.1"/>
<rect x="429.7" y="1096.5"/>
<rect x="431.6" y="1096.1"/>
<rect x="433.4" y="1095.8"/>
<rect x="435.2" y="1096.8"/>
<rect x="437.1" y="1095.6"/>
<rect x="438.9" y="1096.8"/>
<rect x="440.7" y="1095.6"/>
<rect x="442.5" y="1096.2"/>
<rect x="444.4" y="1095.7"/>
<rect x="446.2" y="1095.4"/>
<rect x="448.0" y="1095.6"/>
<rect x="449.9" y="1096.5"/>
<rect x="451.7" y="1095.8"/>
<rect x="453.5" y="1095.8"/>
<rect x="455.4" y="1096.0"/>
<rect x="457.2" y="1096.0"/>
<rect x="459.0" y="1095.2"/>
<rect x="460.8" y="1095.6"/>
<rect x="462.7" y="1095.4"/>
<rect x="464.5" y="1095.2"/>
<rect x="466.3" y="1094.5"/>
<rect x="468.2" y="1095.6"/>
<rect x="470.0" y="1095.4"/>
<rect x="471.8" y="1094.9"/>
<rect x="473.6" y="1096.3"/>
<rect x="475.5" y="1094.5"/>
<rect x="477.3" y="1094.8"/>
<rect x="479.1" y="1095.0"/>
<rect x="481.0" y="1094.5"/>
<rect x="482.8" y="1094.7"/>
<rect x="484.6" y="1095.2"/>
<rect x="486.5" y="1094.2"/>
<rect x="488.3" y="1093.8"/>
<rect x="490.1" y="1094.3"/>
<rect x="491.9" y="1094.1"/>
<rect x="493.8" y="1094.2"/>
<rect x="495.6" y="1094.1"/>
<rect x="497.4" y="1094.2"/>
<rect x="499.3" y="1095.0"/>
<rect x="501.1" y="1094.1"/>
<rect x="502.9" y="1094.8"/>
<rect x="504.8" y="1094.0"/>
<rect x="506.6" y="1093.7"/>
<rect x="508.4" y="1093.1"/>
<rect x="510.2" y="1093.9"/>
<rect x="512.1" y="1093.9"/>
<rect x="513.9" y="1094.6"/>
<rect x="515.7" y="1093.0"/>
<rect x="517.6" y="1093.3"/>
<rect x="519.4" y="1093.3"/>
<rect x="521.2" y="1093.3"/>
<rect x="523.0" y="1093.3"/>
<rect x="524.9" y="1092.9"/>
<rect x="526.7" y="1093.1"/>
<rect x="528.5" y="1092.7"/>
<rect x="530.4" y="1092.6"/>
<rect x="532.2" y="1093.0"/>
<rect x="534.0" y="1093.2"/>
<rect x="535.9" y="1092.5"/>
<rect x="537.7" y="1092.0"/>
<rect x="539.5" y="1092.4"/>
<rect x="541.3" y="1092.5"/>
<rect x="543.2" y="1092.4"/>
<rect x="545.0" y="1092.8"/>
<rect x="546.8" y="1091.9"/>
<rect x="548.7" y="1092.1"/>
<rect x="550.5" y="1091.8"/>
<rect x="552.3" y="1092.6"/>
<rect x="554.2" y="1092.0"/>
<rect x="556.0" y="1091.7"/>
<rect x="557.8" y="1091.4"/>
<rect x="559.6" y="1092.0"/>
<rect x="561.5" y="1091.1"/>
<rect x="563.3" y="1091.9"/>
<rect x="565.1" y="1091.8"/>
<rect x="567.0" y="1091.5"/>
<rect x="568.8" y="1091.3"/>
<rect x="570.6" y="1091.2"/>
<rect x="572.5" y="1091.4"/>
<rect x="574.3" y="1090.9"/>
<rect x="576.1" y="1091.2"/>
<rect x="577.9" y="1090.3"/>
<rect x="579.8" y="1091.2"/>
<rect x="581.6" y="1090.6"/>
<rect x="583.4" y="1091.0"/>
<rect x="585.3" y="1090.6"/>
<rect x="587.1" y="1090.2"/>
<rect x="588.9" y="1090.3"/>
<rect x="590.7" y="1090.0"/>
<rect x="592.6" y="1090.4"/>
<rect x="594.4" y="1089.5"/>
<rect x="596.2" y="1089.4"/>
<rect x="598.1" y="1090.2"/>
<rect x="599.9" y="1089.9"/>
<rect x="601.7" y="1089.4"/>
<rect x="603.6" y="1089.8"/>
<rect x="605.4" y="1089.1"/>
<rect x="607.2" y="1089.5"/>
<rect x="609.0" y="1088.9"/>
<rect x="610.9" y="1089.5"/>
<rect x="612.7" y="1089.2"/>
<rect x="614.5" y="1089.2"/>
<rect x="616.4" y="1088.3"/>
<rect x="618.2" y="1088.5"/>
<rect x="620.0" y="1088.3"/>
<rect x="621.9" y="1088.6"/>
<rect x="623.7" y="1088.7"/>
<rect x="625.5" y="1088.0"/>
<rect x="627.3" y="1088.3"/>
<rect x="629.2" y="1088.4"/>
<rect x="631.0" y="1088.5"/>
</g>
<g class="oc" stroke="#50bc44">
<rect x="85.8" y="1067.7"/>
<rect x="87.6" y="1065.7"/>
<rect x="89.4" y="1064.6"/>
<rect x="91.2" y="1062.3"/>
<rect x="93.1" y="1062.3"/>
<rect x="94.9" y="1060.6"/>
<rect x="96.7" y="1060.3"/>
<rect x="98.6" y="1059.4"/>
<rect x="100.4" y="1059.2"/>
<rect x="102.2" y="1058.4"/>
<rect x="104.1" y="1058.4"/>
<rect x="105.9" y="1057.0"/>
<rect x="107.7" y="1057.5"/>
<rect x="109.5" y="1056.9"/>
<rect x="111.4" y="1056.7"/>
<rect x="113.2" y="1055.7"/>
<rect x="115.0" y="1056.1"/>
<rect x="116.9" y="1055.4"/>
<rect x="118.7" y="1055.2"/>
<rect x="120.5" y="1054.7"/>
<rect x="122.4" y="1054.6"/>
<rect x="124.2" y="1054.6"/>
<rect x="126.0" y="1053.8"/>
<rect x="127.8" y="1053.0"/>
<rect x="129.7" y="1053.5"/>
<rect x="131.5" y="1053.4"/>
<rect x="133.3" y="1052.7"/>
<rect x="135.2" y="1052.6"/>
<rect x="137.0" y="1052.0"/>
<rect x="138.8" y="1052.6"/>
<rect x="140.6" y="1051.9"/>
<rect x="142.5" y="1052.4"/>
<rect x="144.3" y="1052.3"/>
<rect x="146.1" y="1052.4"/>
<rect x="148.0" y="1052.0"/>
<rect x="149.8" y="1051.9"/>
<rect x="151.6" y="1051.3"/>
<rect x="153.5" y="1051.9"/>
<rect x="155.3" y="1050.3"/>
<rect x="157.1" y="1050.5"/>
<rect x="158.9" y="1051.4"/>
<rect x="160.8" y="1050.4"/>
<rect x="162.6" y="1050.2"/>
<rect x="164.4" y="1050.2"/>
<rect x="166.3" y="1050.6"/>
<rect x="168.1" y="1050.6"/>
<rect x="169.9" y="1050.4"/>
<rect x="171.8" y="1049.8"/>
<rect x="173.6" y="1049.8"/>
<rect x="175.4" y="1050.0"/>
<rect x="177.2" y="1049.6"/>
<rect x="179.1" y="1049.8"/>
<rect x="180.9" y="1049.1"/>
<rect x="182.7" y="1049.8"/>
<rect x="184.6" y="1049.4"/>
<rect x="186.4" y="1049.2"/>
<rect x="188.2" y="1049.0"/>
<rect x="190.1" y="1048.3"/>
<rect x="191.9" y="1049.5"/>
<rect x="193.7" y="1048.7"/>
<rect x="195.5" y="1048.8"/>
<rect x="197.4" y="1048.7"/>
<rect x="199.2" y="1049.0"/>
<rect x="201.0" y="1048.5"/>
<rect x="202.9" y="1049.2"/>
<rect x="204.7" y="1048.7"/>
<rect x="206.5" y="1048.2"/>
<rect x="208.3" y="1048.1"/>
<rect x="210.2" y="1049.1"/>
<rect x="212.0" y="1047.8"/>
<rect x="213.8" y="1047.9"/>
<rect x="215.7" y="1047.6"/>
<rect x="217.5" y="1048.0"/>
<rect x="219.3" y="1047.8"/>
<rect x="221.2" y="1048.3"/>
<rect x="223.0" y="1047.4"/>
<rect x="224.8" y="1047.2"/>
<rect x="226.6" y="1048.2"/>
<rect x="228.5" y="1046.6"/>
<rect x="230.3" y="1047.5"/>
<rect x="232.1" y="1046.8"/>
<rect x="234.0" y="1047.6"/>
<rect x="235.8" y="1047.0"/>
<rect x="237.6" y="1047.5"/>
<rect x="239.5" y="1047.0"/>
<rect x="241.3" y="1047.2"/>
<rect x="243.1" y="1046.6"/>
<rect x="244.9" y="1047.0"/>
<rect x="246.8" y="1047.0"/>
<rect x="248.6" y="1047.0"/>
<rect x="250.4" y="1047.2"/>
<rect x="252.3" y="1047.1"/>
<rect x="254.1" y="1047.7"/>
<rect x="255.9" y="1046.2"/>
<rect x="257.7" y="1046.8"/>
<rect x="259.6" y="1046.6"/>
<rect x="261.4" y="1046.7"/>
<rect x="263.2" y="1047.0"/>
<rect x="265.1" y="1047.1"/>
<rect x="266.9" y="1046.9"/>
<rect x="268.7" y="1046.0"/>
<rect x="270.6" y="1045.9"/>
<rect x="272.4" y="1045.8"/>
<rect x="274.2" y="1046.1"/>
<rect x="276.0" y="1045.6"/>
<rect x="277.9" y="1046.0"/>
<rect x="279.7" y="1045.4"/>
<rect x="281.5" y="1045.9"/>
<rect x="283.4" y="1045.9"/>
<rect x="285.2" y="1046.3"/>
<rect x="287.0" y="1045.8"/>
<rect x="288.9" y="1045.7"/>
<rect x="290.7" y="1046.0"/>
<rect x="292.5" y="1045.4"/>
<rect x="294.3" y="1046.1"/>
<rect x="296.2" y="1045.6"/>
<rect x="298.0" y="1045.8"/>
<rect x="299.8" y="1045.5"/>
<rect x="301.7" y="1045.5"/>
<rect x="303.5" y="1045.4"/>
<rect x="305.3" y="1045.2"/>
<rect x="307.1" y="1045.4"/>
<rect x="309.0" y="1045.6"/>
<rect x="310.8" y="1044.8"/>
<rect x="312.6" y="1045.3"/>
<rect x="314.5" y="1045.6"/>
<rect x="316.3" y="1045.1"/>
<rect x="318.1" y="1045.6"/>
<rect x="320.0" y="1045.4"/>
<rect x="321.8" y="1044.7"/>
<rect x="323.6" y="1044.9"/>
<rect x="325.4" y="1045.5"/>
<rect x="327.3" y="1045.4"/>
<rect x="329.1" y="1045.1"/>
<rect x="330.9" y="1045.0"/>
<rect x="332.8" y="1044.1"/>
<rect x="334.6" y="1044.8"/>
<rect x="336.4" y="1044.2"/>
<rect x="338.3" y="1044.7"/>
<rect x="340.1" y="1044.7"/>
<rect x="341.9" y="1044.7"/>
<rect x="343.7" y="1044.9"/>
<rect x="345.6" y="1044.7"/>
<rect x="347.4" y="1044.2"/>
<rect x="349.2" y="1044.4"/>
<rect x="351.1" y="1044.9"/>
<rect x="352.9" y="1045.2"/>
<rect x="354.7" y="1044.1"/>
<rect x="356.6" y="1044.6"/>
<rect x="358.4" y="1044.8"/>
<rect x="360.2" y="1044.5"/>
<rect x="362.0" y="1044.3"/>
<rect x="363.9" y="1044.7"/>
<rect x="365.7" y="1044.9"/>
<rect x="367.5" y="1044.3"/>
<rect x="369.4" y="1043.9"/>
<rect x="371.2" y="1043.6"/>
<rect x="373.0" y="1044.4"/>
<rect x="374.8" y="1044.5"/>
<rect x="376.7" y="1043.9"/>
<rect x="378.5" y="1044.0"/>
<rect x="380.3" y="1043.9"/>
<rect x="382.2" y="1044.6"/>
<rect x="384.0" y="1043.5"/>
<rect x="385.8" y="1044.1"/>
<rect x="387.7" y="1043.6"/>
<rect x="389.5" y="1044.0"/>
<rect x="391.3" y="1043.9"/>
<rect x="393.1" y="1044.1"/>
<rect x="395.0" y="1043.5"/>
<rect x="396.8" y="1043.3"/>
<rect x="398.6" y="1043.3"/>
<rect x="400.5" y="1043.1"/>
<rect x="402.3" y="1043.8"/>
<rect x="404.1" y="1043.4"/>
<rect x="406.0" y="1042.7"/>
<rect x="407.8" y="1043.4"/>
<rect x="409.6" y="1043.0"/>
<rect x="411.4" y="1042.5"/>
<rect x="413.3" y="1043.0"/>
<rect x="415.1" y="1043.0"/>
<rect x="416.9" y="1042.8"/>
<rect x="418.8" y="1042.7"/>
<rect x="420.6" y="1042.5"/>
<rect x="422.4" y="1042.4"/>
<rect x="424.2" y="1043.4"/>
<rect x="426.1" y="1042.2"/>
<rect x="427.9" y="1042.9"/>
<rect x="429.7" y="1042.8"/>
<rect x="431.6" y="1042.5"/>
<rect x="433.4" y="1041.7"/>
<rect x="435.2" y="1042.8"/>
<rect x="437.1" y="1042.1"/>
<rect x="438.9" y="1043.1"/>
<rect x="440.7" y="1042.1"/>
<rect x="442.5" y="1041.8"/>
<rect x="444.4" y="1042.5"/>
<rect x="446.2" y="1041.9"/>
<rect x="448.0" y="1042.1"/>
<rect x="449.9" y="1042.3"/>
<rect x="451.7" y="1041.6"/>
<rect x="453.5" y="1041.4"/>
<rect x="455.4" y="1041.8"/>
<rect x="457.2" y="1042.1"/>
<rect x="459.0" y="1041.6"/>
<rect x="460.8" y="1041.5"/>
<rect x="462.7" y="1042.1"/>
<rect x="464.5" y="1041.9"/>
<rect x="466.3" y="1041.4"/>
<rect x="468.2" y="1042.1"/>
<rect x="470.0" y="1041.2"/>
<rect x="471.8" y="1041.4"/>
<rect x="473.6" y="1040.9"/>
<rect x="475.5" y="1041.4"/>
<rect x="477.3" y="1041.5"/>
<rect x="479.1" y="1041.0"/>
<rect x="481.0" y="1040.5"/>
<rect x="482.8" y="1041.0"/>
<rect x="484.6" y="1040.8"/>
<rect x="486.5" y="1040.9"/>
<rect x="488.3" y="1040.3"/>
<rect x="490.1" y="1040.8"/>
<rect x="491.9" y="1040.3"/>
<rect x="493.8" y="1040.8"/>
<rect x="495.6" y="1040.5"/>
<rect x="497.4" y="1040.3"/>
<rect x="499.3" y="1040.4"/>
<rect x="501.1" y="1040.5"/>
<rect x="502.9" y="1040.8"/>
<rect x="504.8" y="1040.1"/>
<rect x="506.6" y="1040.2"/>
<rect x="508.4" y="1039.8"/>
<rect x="510.2" y="1040.0"/>
<rect x="512.1" y="1039.4"/>
<rect x="513.9" y="1039.7"/>
<rect x="515.7" y="1040.3"/>
<rect x="517.6" y="1039.7"/>
<rect x="519.4" y="1039.5"/>
<rect x="521.2" y="1039.5"/>
<rect x="523.0" y="1039.2"/>
<rect x="524.9" y="1039.7"/>
<rect x="526.7" y="1039.3"/>
<rect x="528.5" y="1039.1"/>
<rect x="530.4" y="1039.9"/>
<rect x="532.2" y="1039.7"/>
<rect x="534.0" y="1039.3"/>
<rect x="535.9" y="1038.9"/>
<rect x="537.7" y="1039.6"/>
<rect x="539.5" y="1039.8"/>
<rect x="541.3" y="1039.0"/>
<rect x="543.2" y="1039.1"/>
<rect x="545.0" y="1039.1"/>
<rect x="546.8" y="1039.4"/>
<rect x="548.7" y="1039.0"/>
<rect x="550.5" y="1038.9"/>
<rect x="552.3" y="1038.6"/>
<rect x="554.2" y="1038.5"/>
<rect x="556.0" y="1038.8"/>
<rect x="557.8" y="1038.7"/>
<rect x="559.6" y="1038.4"/>
<rect x="561.5" y="1038.2"/>
<rect x="563.3" y="1038.4"/>
<rect x="565.1" y="1038.3"/>
<rect x="567.0" y="1038.4"/>
<rect x="568.8" y="1038.7"/>
<rect x="570.6" y="1038.6"/>
<rect x="572.5" y="1038.8"/>
<rect x="574.3" y="1037.6"/>
<rect x="576.1" y="1038.7"/>
<rect x="577.9" y="1037.7"/>
<rect x="579.8" y="1038.3"/>
<rect x="581.6" y="1038.1"/>
<rect x="583.4" y="1038.3"/>
<rect x="585.3" y="1037.7"/>
<rect x="587.1" y="1038.2"/>
<rect x="588.9" y="1037.3"/>
<rect x="590.7" y="1038.4"/>
<rect x="592.6" y="1037.5"/>
<rect x="594.4" y="1038.7"/>
<rect x="596.2" y="1037.6"/>
<rect x="598.1" y="1037.8"/>
<rect x="599.9" y="1037.7"/>
<rect x="601.7" y="1037.9"/>
<rect x="603.6" y="1037.7"/>
<rect x="605.4" y="1037.6"/>
<rect x="607.2" y="1037.5"/>
<rect x="609.0" y="1037.6"/>
<rect x="610.9" y="1038.0"/>
<rect x="612.7" y="1037.4"/>
<rect x="614.5" y="1037.6"/>
<rect x="616.4" y="1037.4"/>
<rect x="618.2" y="1037.4"/>
<rect x="620.0" y="1037.6"/>
<rect x="621.9" y="1037.6"/>
<rect x="623.7" y="1037.0"/>
<rect x="625.5" y="1037.6"/>
<rect x="627.3" y="1037.4"/>
<rect x="629.2" y="1037.5"/>
<rect x="631.0" y="1038.2"/>
</g>
<rect x="84.48" y="1156.57" width="4.80" height="4.80" fill="#fff" stroke="#50bc44" stroke-width="1.2"/>
<rect x="84.48" y="1159.61" width="4.80" height="4.80" fill="#fff" stroke="#1a1a1a" stroke-width="1.2"/>
<rect x="84.48" y="1166.67" width="4.80" height="4.80" fill="#fff" stroke="#3a943a" stroke-width="1.2"/>
<line x1="83.50" y1="0.80" x2="634.40" y2="0.80" stroke="#000" stroke-width="2"/>
<line x1="83.50" y1="1212.10" x2="634.40" y2="1212.10" stroke="#000" stroke-width="2"/>
<line x1="84.50" y1="303.60" x2="633.40" y2="303.60" stroke="#000" stroke-width="2"/>
<line x1="84.50" y1="757.60" x2="633.40" y2="757.60" stroke="#000" stroke-width="2"/>
<line x1="84.50" y1="0.00" x2="84.50" y2="980.00" stroke="#000" stroke-width="2"/>
<line x1="84.50" y1="989.80" x2="84.50" y2="1213.10" stroke="#000" stroke-width="2"/>
<line x1="75.70" y1="985.20" x2="92.90" y2="976.80" stroke="#000" stroke-width="2"/>
<line x1="75.70" y1="993.00" x2="92.90" y2="984.80" stroke="#000" stroke-width="2"/>
<line x1="633.40" y1="0.00" x2="633.40" y2="980.00" stroke="#000" stroke-width="2"/>
<line x1="633.40" y1="989.80" x2="633.40" y2="1213.10" stroke="#000" stroke-width="2"/>
<line x1="624.60" y1="985.20" x2="641.80" y2="976.80" stroke="#000" stroke-width="2"/>
<line x1="624.60" y1="993.00" x2="641.80" y2="984.80" stroke="#000" stroke-width="2"/>
<line x1="130.24" y1="0.80" x2="130.24" y2="5.80" stroke="#000" stroke-width="2"/>
<line x1="175.98" y1="0.80" x2="175.98" y2="9.80" stroke="#000" stroke-width="2"/>
<line x1="221.72" y1="0.80" x2="221.72" y2="5.80" stroke="#000" stroke-width="2"/>
<line x1="267.47" y1="0.80" x2="267.47" y2="9.80" stroke="#000" stroke-width="2"/>
<line x1="313.21" y1="0.80" x2="313.21" y2="5.80" stroke="#000" stroke-width="2"/>
<line x1="358.95" y1="0.80" x2="358.95" y2="9.80" stroke="#000" stroke-width="2"/>
<line x1="404.69" y1="0.80" x2="404.69" y2="5.80" stroke="#000" stroke-width="2"/>
<line x1="450.43" y1="0.80" x2="450.43" y2="9.80" stroke="#000" stroke-width="2"/>
<line x1="496.18" y1="0.80" x2="496.18" y2="5.80" stroke="#000" stroke-width="2"/>
<line x1="541.92" y1="0.80" x2="541.92" y2="9.80" stroke="#000" stroke-width="2"/>
<line x1="587.66" y1="0.80" x2="587.66" y2="5.80" stroke="#000" stroke-width="2"/>
<line x1="130.24" y1="303.60" x2="130.24" y2="298.60" stroke="#000" stroke-width="2"/>
<line x1="175.98" y1="303.60" x2="175.98" y2="294.60" stroke="#000" stroke-width="2"/>
<line x1="221.72" y1="303.60" x2="221.72" y2="298.60" stroke="#000" stroke-width="2"/>
<line x1="267.47" y1="303.60" x2="267.47" y2="294.60" stroke="#000" stroke-width="2"/>
<line x1="313.21" y1="303.60" x2="313.21" y2="298.60" stroke="#000" stroke-width="2"/>
<line x1="358.95" y1="303.60" x2="358.95" y2="294.60" stroke="#000" stroke-width="2"/>
<line x1="404.69" y1="303.60" x2="404.69" y2="298.60" stroke="#000" stroke-width="2"/>
<line x1="450.43" y1="303.60" x2="450.43" y2="294.60" stroke="#000" stroke-width="2"/>
<line x1="496.18" y1="303.60" x2="496.18" y2="298.60" stroke="#000" stroke-width="2"/>
<line x1="541.92" y1="303.60" x2="541.92" y2="294.60" stroke="#000" stroke-width="2"/>
<line x1="587.66" y1="303.60" x2="587.66" y2="298.60" stroke="#000" stroke-width="2"/>
<line x1="130.24" y1="303.60" x2="130.24" y2="308.60" stroke="#000" stroke-width="2"/>
<line x1="175.98" y1="303.60" x2="175.98" y2="312.60" stroke="#000" stroke-width="2"/>
<line x1="221.72" y1="303.60" x2="221.72" y2="308.60" stroke="#000" stroke-width="2"/>
<line x1="267.47" y1="303.60" x2="267.47" y2="312.60" stroke="#000" stroke-width="2"/>
<line x1="313.21" y1="303.60" x2="313.21" y2="308.60" stroke="#000" stroke-width="2"/>
<line x1="358.95" y1="303.60" x2="358.95" y2="312.60" stroke="#000" stroke-width="2"/>
<line x1="404.69" y1="303.60" x2="404.69" y2="308.60" stroke="#000" stroke-width="2"/>
<line x1="450.43" y1="303.60" x2="450.43" y2="312.60" stroke="#000" stroke-width="2"/>
<line x1="496.18" y1="303.60" x2="496.18" y2="308.60" stroke="#000" stroke-width="2"/>
<line x1="541.92" y1="303.60" x2="541.92" y2="312.60" stroke="#000" stroke-width="2"/>
<line x1="587.66" y1="303.60" x2="587.66" y2="308.60" stroke="#000" stroke-width="2"/>
<line x1="130.24" y1="757.60" x2="130.24" y2="752.60" stroke="#000" stroke-width="2"/>
<line x1="175.98" y1="757.60" x2="175.98" y2="748.60" stroke="#000" stroke-width="2"/>
<line x1="221.72" y1="757.60" x2="221.72" y2="752.60" stroke="#000" stroke-width="2"/>
<line x1="267.47" y1="757.60" x2="267.47" y2="748.60" stroke="#000" stroke-width="2"/>
<line x1="313.21" y1="757.60" x2="313.21" y2="752.60" stroke="#000" stroke-width="2"/>
<line x1="358.95" y1="757.60" x2="358.95" y2="748.60" stroke="#000" stroke-width="2"/>
<line x1="404.69" y1="757.60" x2="404.69" y2="752.60" stroke="#000" stroke-width="2"/>
<line x1="450.43" y1="757.60" x2="450.43" y2="748.60" stroke="#000" stroke-width="2"/>
<line x1="496.18" y1="757.60" x2="496.18" y2="752.60" stroke="#000" stroke-width="2"/>
<line x1="541.92" y1="757.60" x2="541.92" y2="748.60" stroke="#000" stroke-width="2"/>
<line x1="587.66" y1="757.60" x2="587.66" y2="752.60" stroke="#000" stroke-width="2"/>
<line x1="130.24" y1="757.60" x2="130.24" y2="762.60" stroke="#000" stroke-width="2"/>
<line x1="175.98" y1="757.60" x2="175.98" y2="766.60" stroke="#000" stroke-width="2"/>
<line x1="221.72" y1="757.60" x2="221.72" y2="762.60" stroke="#000" stroke-width="2"/>
<line x1="267.47" y1="757.60" x2="267.47" y2="766.60" stroke="#000" stroke-width="2"/>
<line x1="313.21" y1="757.60" x2="313.21" y2="762.60" stroke="#000" stroke-width="2"/>
<line x1="358.95" y1="757.60" x2="358.95" y2="766.60" stroke="#000" stroke-width="2"/>
<line x1="404.69" y1="757.60" x2="404.69" y2="762.60" stroke="#000" stroke-width="2"/>
<line x1="450.43" y1="757.60" x2="450.43" y2="766.60" stroke="#000" stroke-width="2"/>
<line x1="496.18" y1="757.60" x2="496.18" y2="762.60" stroke="#000" stroke-width="2"/>
<line x1="541.92" y1="757.60" x2="541.92" y2="766.60" stroke="#000" stroke-width="2"/>
<line x1="587.66" y1="757.60" x2="587.66" y2="762.60" stroke="#000" stroke-width="2"/>
<line x1="130.24" y1="1212.10" x2="130.24" y2="1207.10" stroke="#000" stroke-width="2"/>
<line x1="175.98" y1="1212.10" x2="175.98" y2="1203.10" stroke="#000" stroke-width="2"/>
<line x1="221.72" y1="1212.10" x2="221.72" y2="1207.10" stroke="#000" stroke-width="2"/>
<line x1="267.47" y1="1212.10" x2="267.47" y2="1203.10" stroke="#000" stroke-width="2"/>
<line x1="313.21" y1="1212.10" x2="313.21" y2="1207.10" stroke="#000" stroke-width="2"/>
<line x1="358.95" y1="1212.10" x2="358.95" y2="1203.10" stroke="#000" stroke-width="2"/>
<line x1="404.69" y1="1212.10" x2="404.69" y2="1207.10" stroke="#000" stroke-width="2"/>
<line x1="450.43" y1="1212.10" x2="450.43" y2="1203.10" stroke="#000" stroke-width="2"/>
<line x1="496.18" y1="1212.10" x2="496.18" y2="1207.10" stroke="#000" stroke-width="2"/>
<line x1="541.92" y1="1212.10" x2="541.92" y2="1203.10" stroke="#000" stroke-width="2"/>
<line x1="587.66" y1="1212.10" x2="587.66" y2="1207.10" stroke="#000" stroke-width="2"/>
<line x1="84.50" y1="277.10" x2="93.50" y2="277.10" stroke="#000" stroke-width="2"/>
<line x1="633.40" y1="277.10" x2="624.40" y2="277.10" stroke="#000" stroke-width="2"/>
<line x1="84.50" y1="250.80" x2="89.50" y2="250.80" stroke="#000" stroke-width="2"/>
<line x1="633.40" y1="250.80" x2="628.40" y2="250.80" stroke="#000" stroke-width="2"/>
<line x1="84.50" y1="224.50" x2="93.50" y2="224.50" stroke="#000" stroke-width="2"/>
<line x1="633.40" y1="224.50" x2="624.40" y2="224.50" stroke="#000" stroke-width="2"/>
<line x1="84.50" y1="198.20" x2="89.50" y2="198.20" stroke="#000" stroke-width="2"/>
<line x1="633.40" y1="198.20" x2="628.40" y2="198.20" stroke="#000" stroke-width="2"/>
<line x1="84.50" y1="171.90" x2="93.50" y2="171.90" stroke="#000" stroke-width="2"/>
<line x1="633.40" y1="171.90" x2="624.40" y2="171.90" stroke="#000" stroke-width="2"/>
<line x1="84.50" y1="145.60" x2="89.50" y2="145.60" stroke="#000" stroke-width="2"/>
<line x1="633.40" y1="145.60" x2="628.40" y2="145.60" stroke="#000" stroke-width="2"/>
<line x1="84.50" y1="119.30" x2="93.50" y2="119.30" stroke="#000" stroke-width="2"/>
<line x1="633.40" y1="119.30" x2="624.40" y2="119.30" stroke="#000" stroke-width="2"/>
<line x1="84.50" y1="93.00" x2="89.50" y2="93.00" stroke="#000" stroke-width="2"/>
<line x1="633.40" y1="93.00" x2="628.40" y2="93.00" stroke="#000" stroke-width="2"/>
<line x1="84.50" y1="66.70" x2="93.50" y2="66.70" stroke="#000" stroke-width="2"/>
<line x1="633.40" y1="66.70" x2="624.40" y2="66.70" stroke="#000" stroke-width="2"/>
<line x1="84.50" y1="40.40" x2="89.50" y2="40.40" stroke="#000" stroke-width="2"/>
<line x1="633.40" y1="40.40" x2="628.40" y2="40.40" stroke="#000" stroke-width="2"/>
<line x1="84.50" y1="14.10" x2="93.50" y2="14.10" stroke="#000" stroke-width="2"/>
<line x1="633.40" y1="14.10" x2="624.40" y2="14.10" stroke="#000" stroke-width="2"/>
<text transform="translate(74.60,21.10) scale(1.0,1.12)" font-size="20.6" text-anchor="end" font-weight="normal" fill="#111">100.0</text>
<text transform="translate(74.60,73.70) scale(1.0,1.12)" font-size="20.6" text-anchor="end" font-weight="normal" fill="#111">99.8</text>
<text transform="translate(74.60,126.30) scale(1.0,1.12)" font-size="20.6" text-anchor="end" font-weight="normal" fill="#111">99.6</text>
<text transform="translate(74.60,178.90) scale(1.0,1.12)" font-size="20.6" text-anchor="end" font-weight="normal" fill="#111">99.4</text>
<text transform="translate(74.60,231.50) scale(1.0,1.12)" font-size="20.6" text-anchor="end" font-weight="normal" fill="#111">99.2</text>
<text transform="translate(74.60,284.10) scale(1.0,1.12)" font-size="20.6" text-anchor="end" font-weight="normal" fill="#111">99.0</text>
<line x1="84.50" y1="744.95" x2="89.50" y2="744.95" stroke="#000" stroke-width="2"/>
<line x1="633.40" y1="744.95" x2="628.40" y2="744.95" stroke="#000" stroke-width="2"/>
<line x1="84.50" y1="723.30" x2="93.50" y2="723.30" stroke="#000" stroke-width="2"/>
<line x1="633.40" y1="723.30" x2="624.40" y2="723.30" stroke="#000" stroke-width="2"/>
<line x1="84.50" y1="701.65" x2="89.50" y2="701.65" stroke="#000" stroke-width="2"/>
<line x1="633.40" y1="701.65" x2="628.40" y2="701.65" stroke="#000" stroke-width="2"/>
<line x1="84.50" y1="680.00" x2="93.50" y2="680.00" stroke="#000" stroke-width="2"/>
<line x1="633.40" y1="680.00" x2="624.40" y2="680.00" stroke="#000" stroke-width="2"/>
<line x1="84.50" y1="658.35" x2="89.50" y2="658.35" stroke="#000" stroke-width="2"/>
<line x1="633.40" y1="658.35" x2="628.40" y2="658.35" stroke="#000" stroke-width="2"/>
<line x1="84.50" y1="636.70" x2="93.50" y2="636.70" stroke="#000" stroke-width="2"/>
<line x1="633.40" y1="636.70" x2="624.40" y2="636.70" stroke="#000" stroke-width="2"/>
<line x1="84.50" y1="615.05" x2="89.50" y2="615.05" stroke="#000" stroke-width="2"/>
<line x1="633.40" y1="615.05" x2="628.40" y2="615.05" stroke="#000" stroke-width="2"/>
<line x1="84.50" y1="593.40" x2="93.50" y2="593.40" stroke="#000" stroke-width="2"/>
<line x1="633.40" y1="593.40" x2="624.40" y2="593.40" stroke="#000" stroke-width="2"/>
<line x1="84.50" y1="571.75" x2="89.50" y2="571.75" stroke="#000" stroke-width="2"/>
<line x1="633.40" y1="571.75" x2="628.40" y2="571.75" stroke="#000" stroke-width="2"/>
<line x1="84.50" y1="550.10" x2="93.50" y2="550.10" stroke="#000" stroke-width="2"/>
<line x1="633.40" y1="550.10" x2="624.40" y2="550.10" stroke="#000" stroke-width="2"/>
<line x1="84.50" y1="528.45" x2="89.50" y2="528.45" stroke="#000" stroke-width="2"/>
<line x1="633.40" y1="528.45" x2="628.40" y2="528.45" stroke="#000" stroke-width="2"/>
<line x1="84.50" y1="506.80" x2="93.50" y2="506.80" stroke="#000" stroke-width="2"/>
<line x1="633.40" y1="506.80" x2="624.40" y2="506.80" stroke="#000" stroke-width="2"/>
<line x1="84.50" y1="485.15" x2="89.50" y2="485.15" stroke="#000" stroke-width="2"/>
<line x1="633.40" y1="485.15" x2="628.40" y2="485.15" stroke="#000" stroke-width="2"/>
<line x1="84.50" y1="463.50" x2="93.50" y2="463.50" stroke="#000" stroke-width="2"/>
<line x1="633.40" y1="463.50" x2="624.40" y2="463.50" stroke="#000" stroke-width="2"/>
<line x1="84.50" y1="441.85" x2="89.50" y2="441.85" stroke="#000" stroke-width="2"/>
<line x1="633.40" y1="441.85" x2="628.40" y2="441.85" stroke="#000" stroke-width="2"/>
<line x1="84.50" y1="420.20" x2="93.50" y2="420.20" stroke="#000" stroke-width="2"/>
<line x1="633.40" y1="420.20" x2="624.40" y2="420.20" stroke="#000" stroke-width="2"/>
<line x1="84.50" y1="398.55" x2="89.50" y2="398.55" stroke="#000" stroke-width="2"/>
<line x1="633.40" y1="398.55" x2="628.40" y2="398.55" stroke="#000" stroke-width="2"/>
<line x1="84.50" y1="376.90" x2="93.50" y2="376.90" stroke="#000" stroke-width="2"/>
<line x1="633.40" y1="376.90" x2="624.40" y2="376.90" stroke="#000" stroke-width="2"/>
<line x1="84.50" y1="355.25" x2="89.50" y2="355.25" stroke="#000" stroke-width="2"/>
<line x1="633.40" y1="355.25" x2="628.40" y2="355.25" stroke="#000" stroke-width="2"/>
<line x1="84.50" y1="333.60" x2="93.50" y2="333.60" stroke="#000" stroke-width="2"/>
<line x1="633.40" y1="333.60" x2="624.40" y2="333.60" stroke="#000" stroke-width="2"/>
<line x1="84.50" y1="311.95" x2="89.50" y2="311.95" stroke="#000" stroke-width="2"/>
<line x1="633.40" y1="311.95" x2="628.40" y2="311.95" stroke="#000" stroke-width="2"/>
<text transform="translate(74.60,730.30) scale(1.0,1.12)" font-size="20.6" text-anchor="end" font-weight="normal" fill="#111">80</text>
<text transform="translate(74.60,687.00) scale(1.0,1.12)" font-size="20.6" text-anchor="end" font-weight="normal" fill="#111">90</text>
<text transform="translate(74.60,643.70) scale(1.0,1.12)" font-size="20.6" text-anchor="end" font-weight="normal" fill="#111">100</text>
<text transform="translate(74.60,600.40) scale(1.0,1.12)" font-size="20.6" text-anchor="end" font-weight="normal" fill="#111">110</text>
<text transform="translate(74.60,557.10) scale(1.0,1.12)" font-size="20.6" text-anchor="end" font-weight="normal" fill="#111">120</text>
<text transform="translate(74.60,513.80) scale(1.0,1.12)" font-size="20.6" text-anchor="end" font-weight="normal" fill="#111">130</text>
<text transform="translate(74.60,470.50) scale(1.0,1.12)" font-size="20.6" text-anchor="end" font-weight="normal" fill="#111">140</text>
<text transform="translate(74.60,427.20) scale(1.0,1.12)" font-size="20.6" text-anchor="end" font-weight="normal" fill="#111">150</text>
<text transform="translate(74.60,383.90) scale(1.0,1.12)" font-size="20.6" text-anchor="end" font-weight="normal" fill="#111">160</text>
<text transform="translate(74.60,340.60) scale(1.0,1.12)" font-size="20.6" text-anchor="end" font-weight="normal" fill="#111">170</text>
<line x1="84.50" y1="940.00" x2="93.50" y2="940.00" stroke="#000" stroke-width="2"/>
<line x1="633.40" y1="940.00" x2="624.40" y2="940.00" stroke="#000" stroke-width="2"/>
<line x1="84.50" y1="898.50" x2="89.50" y2="898.50" stroke="#000" stroke-width="2"/>
<line x1="633.40" y1="898.50" x2="628.40" y2="898.50" stroke="#000" stroke-width="2"/>
<line x1="84.50" y1="857.00" x2="93.50" y2="857.00" stroke="#000" stroke-width="2"/>
<line x1="633.40" y1="857.00" x2="624.40" y2="857.00" stroke="#000" stroke-width="2"/>
<line x1="84.50" y1="815.50" x2="89.50" y2="815.50" stroke="#000" stroke-width="2"/>
<line x1="633.40" y1="815.50" x2="628.40" y2="815.50" stroke="#000" stroke-width="2"/>
<line x1="84.50" y1="774.00" x2="93.50" y2="774.00" stroke="#000" stroke-width="2"/>
<line x1="633.40" y1="774.00" x2="624.40" y2="774.00" stroke="#000" stroke-width="2"/>
<text transform="translate(74.60,781.00) scale(1.0,1.12)" font-size="20.6" text-anchor="end" font-weight="normal" fill="#111">4.0</text>
<text transform="translate(74.60,864.00) scale(1.0,1.12)" font-size="20.6" text-anchor="end" font-weight="normal" fill="#111">3.9</text>
<text transform="translate(74.60,947.00) scale(1.0,1.12)" font-size="20.6" text-anchor="end" font-weight="normal" fill="#111">3.8</text>
<line x1="84.50" y1="1161.50" x2="89.50" y2="1161.50" stroke="#000" stroke-width="2"/>
<line x1="633.40" y1="1161.50" x2="628.40" y2="1161.50" stroke="#000" stroke-width="2"/>
<line x1="84.50" y1="1111.00" x2="93.50" y2="1111.00" stroke="#000" stroke-width="2"/>
<line x1="633.40" y1="1111.00" x2="624.40" y2="1111.00" stroke="#000" stroke-width="2"/>
<line x1="84.50" y1="1060.50" x2="89.50" y2="1060.50" stroke="#000" stroke-width="2"/>
<line x1="633.40" y1="1060.50" x2="628.40" y2="1060.50" stroke="#000" stroke-width="2"/>
<line x1="84.50" y1="1010.00" x2="93.50" y2="1010.00" stroke="#000" stroke-width="2"/>
<line x1="633.40" y1="1010.00" x2="624.40" y2="1010.00" stroke="#000" stroke-width="2"/>
<text transform="translate(74.60,1017.00) scale(1.0,1.12)" font-size="20.6" text-anchor="end" font-weight="normal" fill="#111">0.3</text>
<text transform="translate(74.60,1118.00) scale(1.0,1.12)" font-size="20.6" text-anchor="end" font-weight="normal" fill="#111">0.2</text>
<text transform="translate(74.60,1219.00) scale(1.0,1.12)" font-size="20.6" text-anchor="end" font-weight="normal" fill="#111">0.1</text>
<text transform="translate(84.80,1238.30) scale(1.0,1.09)" font-size="20.6" text-anchor="middle" font-weight="normal" fill="#111">0</text>
<text transform="translate(176.28,1238.30) scale(1.0,1.09)" font-size="20.6" text-anchor="middle" font-weight="normal" fill="#111">50</text>
<text transform="translate(267.77,1238.30) scale(1.0,1.09)" font-size="20.6" text-anchor="middle" font-weight="normal" fill="#111">100</text>
<text transform="translate(359.25,1238.30) scale(1.0,1.09)" font-size="20.6" text-anchor="middle" font-weight="normal" fill="#111">150</text>
<text transform="translate(450.73,1238.30) scale(1.0,1.09)" font-size="20.6" text-anchor="middle" font-weight="normal" fill="#111">200</text>
<text transform="translate(542.22,1238.30) scale(1.0,1.09)" font-size="20.6" text-anchor="middle" font-weight="normal" fill="#111">250</text>
<text transform="translate(633.70,1238.30) scale(1.0,1.09)" font-size="20.6" text-anchor="middle" font-weight="normal" fill="#111">300</text>
<text x="358.50" y="1275.00" font-size="23.2" text-anchor="middle" font-weight="normal" fill="#111">Cycle Number</text>
<text transform="translate(17.7,153.5) rotate(-90)" font-size="23.4" text-anchor="middle" fill="#111">Efficiency [%]</text>
<text transform="translate(17.4,516.5) rotate(-90)" font-size="23.4" text-anchor="middle" fill="#111">Spec. Capacity [mAh/g<tspan font-size="13.5" dy="8.3"> NMC</tspan><tspan dy="-8.3">]</tspan></text>
<text transform="translate(21.0,985.5) rotate(-90)" font-size="23.4" text-anchor="middle" fill="#111">Mean Discharge Voltage [V vs. Li<tspan font-size="14.5" dy="-11.6"> +</tspan><tspan dy="11.6">/Li]</tspan></text>
<text transform="translate(110.30,265.30) scale(1.0,1.05)" font-size="23" text-anchor="start" font-weight="bold" fill="#111">(a)</text>
<text transform="translate(110.30,346.80) scale(1.0,1.05)" font-size="23" text-anchor="start" font-weight="bold" fill="#111">(b)</text>
<text transform="translate(110.30,810.50) scale(1.0,1.05)" font-size="23" text-anchor="start" font-weight="bold" fill="#111">(c)</text>
<rect x="180.5" y="310.6" width="442.5" height="79.0" fill="#fff" stroke="#111" stroke-width="1.5"/>
<rect x="187.20" y="321.30" width="5.80" height="5.80" fill="#000"/>
<text transform="translate(219.60,331.30) scale(1.05,1.05)" font-size="20.6" text-anchor="start" font-weight="normal" fill="#111">LP57</text>
<rect x="187.20" y="347.80" width="5.80" height="5.80" fill="#c01014"/>
<text transform="translate(219.60,357.60) scale(1.05,1.05)" font-size="20.6" text-anchor="start" font-weight="normal" fill="#b01820">30mM Ni</text>
<rect x="187.20" y="373.80" width="5.80" height="5.80" fill="#ee2e32"/>
<text transform="translate(219.60,383.30) scale(1.05,1.05)" font-size="20.6" text-anchor="start" font-weight="normal" fill="#dc3438">60mM Ni</text>
<rect x="331.80" y="347.80" width="5.80" height="5.80" fill="#0a52a2"/>
<text transform="translate(364.00,357.60) scale(1.05,1.05)" font-size="20.6" text-anchor="start" font-weight="normal" fill="#1a56a2">30mM Co</text>
<rect x="331.80" y="373.80" width="5.80" height="5.80" fill="#6ea6e2"/>
<text transform="translate(364.00,383.30) scale(1.05,1.05)" font-size="20.6" text-anchor="start" font-weight="normal" fill="#78aee0">60mM Co</text>
<rect x="484.80" y="347.80" width="5.80" height="5.80" fill="#2f8c2a"/>
<text transform="translate(517.60,357.60) scale(1.05,1.05)" font-size="20.6" text-anchor="start" font-weight="normal" fill="#2e862a">30mM Mn</text>
<rect x="484.80" y="373.80" width="5.80" height="5.80" fill="#3cb42a"/>
<text transform="translate(517.60,383.30) scale(1.05,1.05)" font-size="20.6" text-anchor="start" font-weight="normal" fill="#3cb02e">60mM Mn</text>
<rect x="104.6" y="978.9" width="202.4" height="53.6" fill="#fff" stroke="#111" stroke-width="1.5"/>
<rect x="114.50" y="989.30" width="5.60" height="5.60" fill="#000"/>
<rect x="114.90" y="1016.00" width="4.80" height="4.80" fill="#fff" stroke="#111" stroke-width="1.2"/>
<text transform="translate(146.60,998.60) scale(1.02,1.04)" font-size="20.8" text-anchor="start" font-weight="normal" fill="#111">NMC cathode</text>
<text transform="translate(146.60,1025.30) scale(1.02,1.04)" font-size="20.8" text-anchor="start" font-weight="normal" fill="#111">Graphite anode</text>
<text transform="translate(116.30,384.60) scale(1.0,1.05)" font-size="15.4" text-anchor="start" font-weight="bold" fill="#111">LP57</text>
<text transform="translate(127.20,423.90) scale(1.0,1.05)" font-size="15.4" text-anchor="start" font-weight="bold" fill="#173a68">30mM Co</text>
<text transform="translate(448.10,467.00) scale(1.0,1.05)" font-size="15.4" text-anchor="start" font-weight="bold" fill="#8c161c">30mM Ni</text>
<text transform="translate(114.00,554.30) scale(1.0,1.05)" font-size="15.4" text-anchor="start" font-weight="bold" fill="#e0363a">60mM Ni</text>
<line x1="136.8" y1="533.0" x2="157.9" y2="490.4" stroke="#e0363a" stroke-width="1.7"/>
<path d="M162.6 481.0L160.1 493.7L158.4 489.5L154.0 490.7Z" fill="#e0363a"/>
<text transform="translate(414.90,567.80) scale(1.0,1.05)" font-size="15.4" text-anchor="start" font-weight="bold" fill="#24622a">30mM Mn</text>
<text transform="translate(549.00,620.60) scale(1.0,1.05)" font-size="15.4" text-anchor="start" font-weight="bold" fill="#74aade">60mM Co</text>
<line x1="581.0" y1="598.8" x2="561.5" y2="525.8" stroke="#74aade" stroke-width="1.7"/>
<path d="M558.8 515.7L565.3 526.9L561.3 524.9L558.7 528.7Z" fill="#74aade"/>
<text transform="translate(348.90,669.40) scale(1.0,1.05)" font-size="15.4" text-anchor="start" font-weight="bold" fill="#40b236">60mM Mn</text>
<text transform="translate(196.90,813.50) scale(1.0,1.05)" font-size="15.4" text-anchor="start" font-weight="bold" fill="#40b236">60mM Mn</text>
<text transform="translate(196.90,887.30) scale(1.0,1.05)" font-size="15.4" text-anchor="start" font-weight="bold" fill="#24622a">30mM Mn</text>
<text transform="translate(478.00,860.40) scale(1.0,1.05)" font-size="15.4" text-anchor="start" font-weight="bold" fill="#761418">30mM Ni</text>
<line x1="511.8" y1="863.2" x2="522.8" y2="907.2" stroke="#761418" stroke-width="1.7"/>
<path d="M525.4 917.4L519.1 906.1L523.1 908.2L525.7 904.4Z" fill="#761418"/>
<text transform="translate(555.10,847.60) scale(1.0,1.05)" font-size="15.4" text-anchor="start" font-weight="bold" fill="#e0363a">60mM Ni</text>
<line x1="589.5" y1="855.8" x2="598.2" y2="893.7" stroke="#e0363a" stroke-width="1.7"/>
<path d="M600.5 903.9L594.4 892.5L598.4 894.6L601.0 891.0Z" fill="#e0363a"/>
<text transform="translate(366.30,984.40) scale(1.0,1.05)" font-size="15.4" text-anchor="start" font-weight="bold" fill="#173a68">30mM Co</text>
<line x1="404.3" y1="967.4" x2="403.1" y2="951.0" stroke="#173a68" stroke-width="1.7"/>
<path d="M402.4 940.5L406.7 952.7L403.1 950.0L399.9 953.2Z" fill="#173a68"/>
<text transform="translate(454.90,984.40) scale(1.0,1.05)" font-size="15.4" text-anchor="start" font-weight="bold" fill="#74aade">60mM Co</text>
<line x1="477.7" y1="967.4" x2="476.0" y2="951.4" stroke="#74aade" stroke-width="1.7"/>
<path d="M474.9 941.0L479.6 953.1L475.9 950.4L472.8 953.8Z" fill="#74aade"/>
<text transform="translate(166.20,1071.90) scale(1.0,1.05)" font-size="15.4" text-anchor="start" font-weight="bold" fill="#40b236">60mM Mn</text>
<text transform="translate(289.00,1079.70) scale(1.0,1.05)" font-size="15.4" text-anchor="start" font-weight="bold" fill="#173a68">30mM Co</text>
<line x1="332.7" y1="1086.6" x2="347.3" y2="1128.4" stroke="#173a68" stroke-width="1.7"/>
<path d="M350.8 1138.3L343.5 1127.6L347.7 1129.3L349.9 1125.4Z" fill="#173a68"/>
<text transform="translate(113.20,1187.40) scale(1.0,1.05)" font-size="15.4" text-anchor="start" font-weight="bold" fill="#74aade">60mM Co</text>
<line x1="160.3" y1="1170.6" x2="163.5" y2="1140.1" stroke="#74aade" stroke-width="1.7"/>
<path d="M164.6 1129.7L166.7 1142.5L163.6 1139.1L159.9 1141.8Z" fill="#74aade"/>
<text transform="translate(548.90,1083.20) scale(1.0,1.05)" font-size="15.4" text-anchor="start" font-weight="bold" fill="#24622a">30mM Mn</text>
<text transform="translate(572.00,1174.70) scale(1.0,1.05)" font-size="15.4" text-anchor="start" font-weight="bold" fill="#111">LP57</text>
<text transform="translate(382.70,1186.30) scale(1.0,1.05)" font-size="15.4" text-anchor="start" font-weight="bold" fill="#761418">30mM Ni</text>
<line x1="432.3" y1="1163.9" x2="461.1" y2="1114.8" stroke="#761418" stroke-width="1.7"/>
<path d="M466.4 1105.7L463.0 1118.2L461.6 1113.9L457.1 1114.8Z" fill="#761418"/>
<text transform="translate(467.00,1184.20) scale(1.0,1.05)" font-size="15.4" text-anchor="start" font-weight="bold" fill="#e0363a">60mM Ni</text>
<line x1="494.6" y1="1161.8" x2="522.1" y2="1120.6" stroke="#e0363a" stroke-width="1.7"/>
<path d="M527.9 1111.9L523.8 1124.2L522.6 1119.8L518.1 1120.4Z" fill="#e0363a"/>
</svg></body></html>
